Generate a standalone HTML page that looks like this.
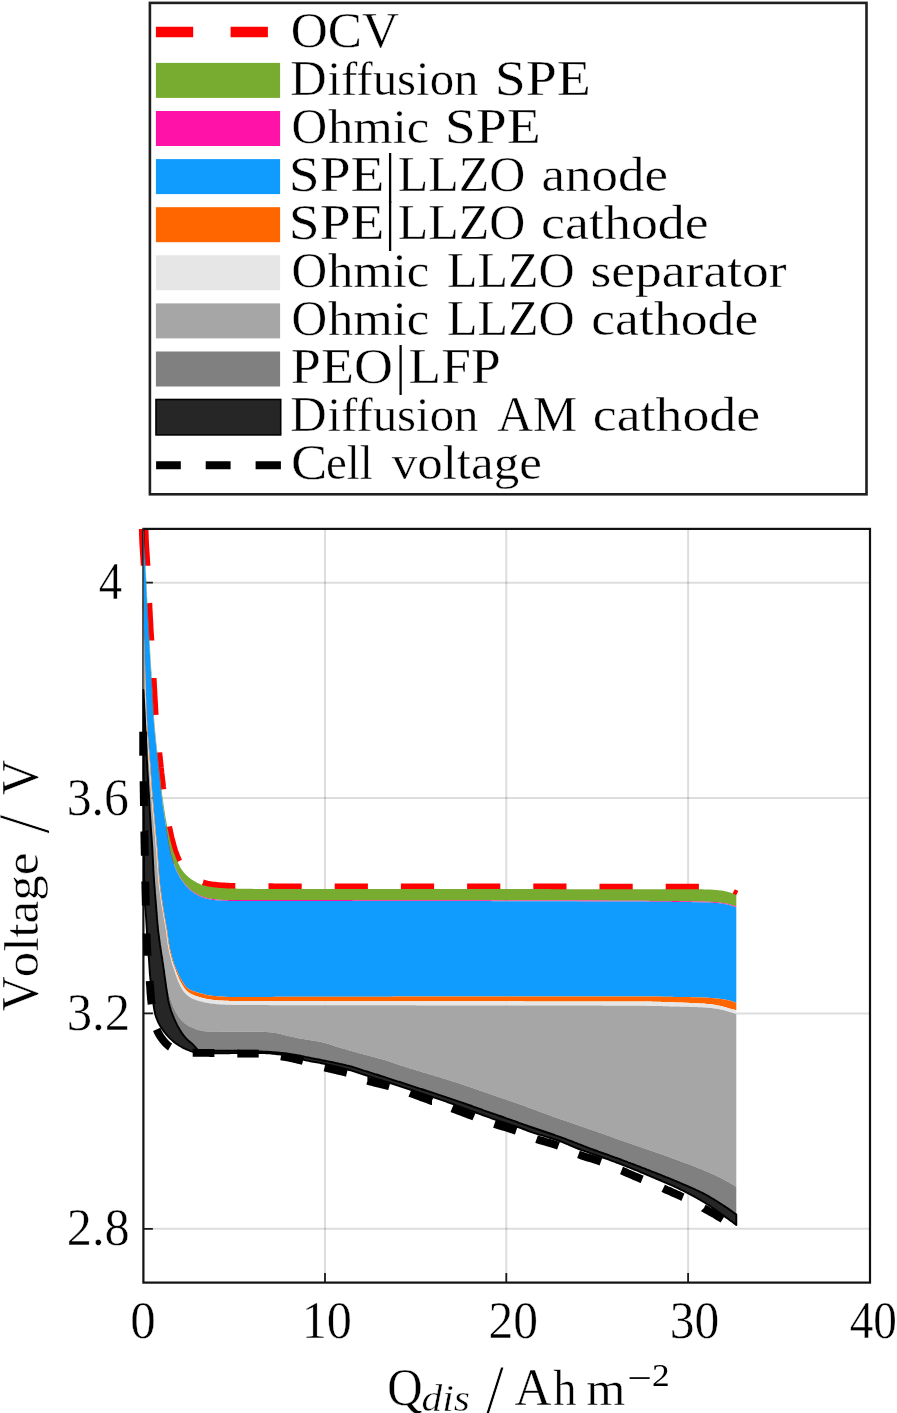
<!DOCTYPE html>
<html lang="en"><head><meta charset="utf-8"><title>Voltage loss breakdown</title>
<style>html,body{margin:0;padding:0;background:#fff;overflow:hidden}svg{display:block}</style></head>
<body>
<svg width="897" height="1413" viewBox="0 0 897 1413">
<rect width="897" height="1413" fill="#fff"/>
<defs><clipPath id="cp"><rect x="130" y="527.9" width="760" height="755.7"/></clipPath></defs>
<path d="M325.0 528.9V1282.6M506.3 528.9V1282.6M688.1 528.9V1282.6" stroke="#000" stroke-opacity="0.135" stroke-width="2" fill="none"/>
<path d="M143.4 582.7H870.0M143.4 798.1H870.0M143.4 1013.4H870.0M143.4 1228.8H870.0" stroke="#000" stroke-opacity="0.135" stroke-width="2" fill="none"/>
<g clip-path="url(#cp)" fill="none" stroke="#ff0000">
<polyline points="143.7,528.9 143.7,529.6 143.7,531.2 143.8,532.8 143.8,534.3 143.9,535.9 143.9,537.4 144.0,539.0 144.1,540.5 144.1,542.1 144.2,543.7 144.3,545.2 144.4,546.8 144.5,548.3 144.6,549.9 144.7,551.5 144.8,553.0 144.9,554.6 145.0,556.1 145.1,557.7 145.2,559.2 145.3,560.8 145.4,562.4 145.5,563.9 145.6,565.5 145.6,565.7" stroke-width="9.6"/>
<polyline points="147.4,603.3 147.5,604.4 147.6,606.0 147.6,607.5 147.7,609.1 147.8,610.7 147.9,612.2 148.0,613.8 148.0,615.3 148.1,616.9 148.2,618.4 148.3,620.0 148.4,621.6 148.5,623.1 148.6,624.7 148.6,626.2 148.7,627.8 148.8,629.3 148.9,630.9 149.0,632.5 149.1,634.0 149.2,635.6 149.3,637.1 149.4,638.7 149.5,640.2 149.5,640.6" stroke-width="9.6"/>
<polyline points="151.8,678.0 151.8,679.2 151.9,680.7 152.0,682.3 152.1,683.8 152.1,685.4 152.2,687.0 152.3,688.5 152.4,690.1 152.5,691.6 152.6,693.2 152.6,694.8 152.7,696.3 152.8,697.9 152.9,699.4 153.0,701.0 153.1,702.5 153.2,704.1 153.3,705.7 153.3,707.2 153.4,708.8 153.5,710.3 153.6,711.9 153.7,713.4 153.8,715.0 153.9,715.3" stroke-width="9.6"/>
<polyline points="157.4,752.5 157.5,753.8 157.7,755.4 157.9,756.9 158.0,758.5 158.2,760.0 158.4,761.6 158.5,763.1 158.7,764.7 158.9,766.2 159.0,767.8 159.2,769.3 159.4,770.9 159.5,772.4 159.7,774.0 159.9,775.5 160.1,777.1 160.2,778.6 160.4,780.2 160.6,781.7 160.8,783.3 161.0,784.8 161.1,786.4 161.3,787.9 161.5,789.5 161.6,789.7" stroke-width="9.6"/>
<polyline points="167.3,826.8 167.5,828.0 167.9,829.5 168.2,831.1 168.5,832.6 168.8,834.1 169.2,835.6 169.5,837.2 169.9,838.7 170.3,840.2 170.7,841.7 171.1,843.2 171.5,844.7 171.9,846.2 172.3,847.7 172.8,849.2 173.2,850.7 173.7,852.2 174.2,853.6 174.8,855.1 175.4,856.6 175.9,858.0 176.6,859.5 177.2,860.9 177.7,861.9" stroke-width="9.6"/>
<polyline points="201.9,884.8 202.3,885.0 203.8,885.4 205.3,885.8 206.8,886.2 208.4,886.5 209.9,886.8 211.4,887.0 213.0,887.2 214.5,887.4 216.1,887.6 217.6,887.8 219.2,887.9 220.7,888.0 222.3,888.1 223.8,888.2 225.4,888.3 227.0,888.4 228.5,888.4 230.1,888.5 231.6,888.5 233.2,888.6 234.8,888.6 235.3,888.6" stroke-width="11.2"/>
<polyline points="268.5,888.9 269.1,888.9 270.6,888.9 272.2,888.9 273.8,889.0 275.3,889.0 276.9,889.0 278.4,889.0 280.0,889.0 281.6,889.0 283.1,889.0 284.7,889.0 286.2,889.0 287.8,889.0 289.4,889.0 290.9,889.0 292.5,889.0 294.0,889.0 295.6,889.0 297.2,889.0 298.7,889.0 300.3,889.0 301.7,889.0" stroke-width="11.2"/>
<polyline points="334.7,889.0 336.2,889.0 337.7,889.0 339.3,889.0 340.8,889.0 342.4,889.0 344.0,889.0 345.5,889.0 347.1,889.0 348.6,889.0 350.2,889.0 351.8,889.0 353.3,889.0 354.9,889.0 356.4,889.0 358.0,889.0 359.6,889.0 361.1,889.0 362.7,889.0 364.2,889.0 365.8,889.0 367.4,889.0 367.9,889.0" stroke-width="11.2"/>
<polyline points="400.9,889.0 401.7,889.0 403.2,889.0 404.8,889.0 406.4,889.0 407.9,889.0 409.5,889.0 411.0,889.0 412.6,889.0 414.2,889.0 415.7,889.0 417.3,889.0 418.8,889.0 420.4,889.0 422.0,889.0 423.5,889.0 425.1,889.0 426.6,889.0 428.2,889.0 429.8,889.0 431.3,889.0 432.9,889.0 434.1,889.0" stroke-width="11.2"/>
<polyline points="467.1,889.0 467.2,889.0 468.8,889.0 470.3,889.0 471.9,889.0 473.4,889.0 475.0,889.0 476.6,889.0 478.1,889.0 479.7,889.0 481.2,889.0 482.8,889.0 484.4,889.0 485.9,889.0 487.5,889.0 489.0,889.0 490.6,889.0 492.2,889.0 493.7,889.0 495.3,889.0 496.8,889.0 498.4,889.0 500.0,889.0 500.3,889.0" stroke-width="11.2"/>
<polyline points="533.3,889.1 534.3,889.1 535.8,889.1 537.4,889.1 539.0,889.1 540.5,889.1 542.1,889.1 543.6,889.1 545.2,889.1 546.8,889.1 548.3,889.1 549.9,889.1 551.4,889.2 553.0,889.2 554.6,889.2 556.1,889.2 557.7,889.2 559.2,889.2 560.8,889.2 562.4,889.2 563.9,889.2 565.5,889.2 566.5,889.2" stroke-width="11.2"/>
<polyline points="599.5,889.3 599.8,889.3 601.4,889.3 602.9,889.3 604.5,889.3 606.0,889.3 607.6,889.3 609.2,889.3 610.7,889.3 612.3,889.3 613.8,889.3 615.4,889.3 617.0,889.3 618.5,889.3 620.1,889.3 621.6,889.3 623.2,889.3 624.8,889.3 626.3,889.3 627.9,889.3 629.4,889.3 631.0,889.3 632.6,889.3 632.7,889.3" stroke-width="11.2"/>
<polyline points="665.7,889.3 666.9,889.3 668.4,889.3 670.0,889.3 671.6,889.3 673.1,889.3 674.7,889.3 676.2,889.3 677.8,889.3 679.4,889.3 680.9,889.3 682.5,889.3 684.0,889.3 685.6,889.3 687.2,889.3 688.7,889.3 690.3,889.3 691.8,889.3 693.4,889.3 695.0,889.3 696.5,889.3 698.1,889.3 698.9,889.3" stroke-width="11.2"/>
<polyline points="732.6,893.4 733.4,893.8 734.9,894.4 736.3,895.1" stroke-width="9"/>
</g>
<rect x="143.4" y="528.9" width="726.6" height="753.6999999999999" fill="none" stroke="#111" stroke-width="2.2"/>
<path d="M325.0 1282.6v-9.5M506.3 1282.6v-9.5M688.1 1282.6v-9.5M143.4 582.7h9.5M143.4 798.1h9.5M143.4 1013.4h9.5M143.4 1228.8h9.5" stroke="#1a1a1a" stroke-width="1.8" fill="none"/>
<g clip-path="url(#cp)">
<polygon points="143.6,500.0 143.6,501.6 143.6,503.1 143.6,504.7 143.6,506.2 143.6,507.8 143.6,509.4 143.6,510.9 143.6,512.5 143.6,514.0 143.6,515.6 143.6,517.2 143.6,518.7 143.7,520.3 143.7,521.8 143.7,523.4 143.7,525.0 143.7,526.5 143.7,528.1 143.7,529.6 143.7,531.2 143.8,532.8 143.8,534.3 143.9,535.9 143.9,537.4 144.0,539.0 144.1,540.5 144.1,542.1 144.2,543.7 144.3,545.2 144.4,546.8 144.5,548.3 144.6,549.9 144.7,551.5 144.8,553.0 144.9,554.6 145.0,556.1 145.1,557.7 145.2,559.2 145.3,560.8 145.4,562.4 145.5,563.9 145.6,565.5 145.7,567.0 145.7,568.6 145.8,570.1 145.9,571.7 146.0,573.3 146.1,574.8 146.1,576.4 146.2,577.9 146.3,579.5 146.4,581.0 146.4,582.6 146.5,584.2 146.6,585.7 146.7,587.3 146.7,588.8 146.8,590.4 146.9,592.0 147.0,593.5 147.0,595.1 147.1,596.6 147.2,598.2 147.3,599.7 147.3,601.3 147.4,602.9 147.5,604.4 147.6,606.0 147.6,607.5 147.7,609.1 147.8,610.7 147.9,612.2 148.0,613.8 148.0,615.3 148.1,616.9 148.2,618.4 148.3,620.0 148.4,621.6 148.5,623.1 148.6,624.7 148.6,626.2 148.7,627.8 148.8,629.3 148.9,630.9 149.0,632.5 149.1,634.0 149.2,635.6 149.3,637.1 149.4,638.7 149.5,640.2 149.6,641.8 149.7,643.4 149.8,644.9 149.9,646.5 150.0,648.0 150.1,649.6 150.2,651.1 150.2,652.7 150.3,654.3 150.4,655.8 150.5,657.4 150.6,658.9 150.7,660.5 150.8,662.0 150.9,663.6 151.0,665.2 151.1,666.7 151.2,668.3 151.3,669.8 151.4,671.4 151.5,672.9 151.6,674.5 151.6,676.1 151.7,677.6 151.8,679.2 151.9,680.7 152.0,682.3 152.1,683.8 152.1,685.4 152.2,687.0 152.3,688.5 152.4,690.1 152.5,691.6 152.6,693.2 152.6,694.8 152.7,696.3 152.8,697.9 152.9,699.4 153.0,701.0 153.1,702.5 153.2,704.1 153.3,705.7 153.3,707.2 153.4,708.8 153.5,710.3 153.6,711.9 153.7,713.4 153.8,715.0 154.0,716.6 154.1,718.1 154.2,719.7 154.3,721.2 154.4,722.8 154.5,724.3 154.7,725.9 154.8,727.4 154.9,729.0 155.1,730.5 155.2,732.1 155.4,733.6 155.5,735.2 155.7,736.8 155.9,738.3 156.0,739.9 156.2,741.4 156.3,743.0 156.5,744.5 156.7,746.1 156.8,747.6 157.0,749.2 157.2,750.7 157.4,752.3 157.5,753.8 157.7,755.4 157.9,756.9 158.0,758.5 158.2,760.0 158.4,761.6 158.5,763.1 158.7,764.7 158.9,766.2 159.0,767.8 159.2,769.3 159.4,770.9 159.5,772.4 159.7,774.0 159.9,775.5 160.1,777.1 160.2,778.6 160.4,780.2 160.6,781.7 160.8,783.3 161.0,784.8 161.1,786.4 161.3,787.9 161.5,789.5 161.7,791.0 161.9,792.6 162.1,794.1 162.3,795.7 162.5,797.2 162.7,798.8 162.9,800.3 163.2,801.8 163.4,803.4 163.6,804.9 163.8,806.5 164.1,808.0 164.3,809.6 164.5,811.1 164.8,812.7 165.0,814.2 165.3,815.7 165.5,817.3 165.8,818.8 166.1,820.3 166.4,821.9 166.6,823.4 166.9,824.9 167.2,826.5 167.5,828.0 167.9,829.5 168.2,831.1 168.5,832.6 168.8,834.1 169.2,835.6 169.5,837.2 169.9,838.7 170.3,840.2 170.7,841.7 171.1,843.2 171.5,844.7 171.9,846.2 172.3,847.7 172.8,849.2 173.2,850.7 173.7,852.2 174.2,853.6 174.8,855.1 175.4,856.6 175.9,858.0 176.6,859.5 177.2,860.9 177.8,862.3 178.5,863.7 179.2,865.1 179.9,866.5 180.7,867.9 181.5,869.2 182.4,870.5 183.3,871.7 184.3,872.9 185.3,874.1 186.4,875.3 187.6,876.3 188.7,877.3 190.0,878.3 191.2,879.2 192.6,880.1 193.9,880.9 195.2,881.6 196.6,882.4 198.0,883.2 199.4,883.8 200.8,884.5 202.3,885.0 203.8,885.4 205.3,885.8 206.8,886.2 208.4,886.5 209.9,886.8 211.4,887.0 213.0,887.2 214.5,887.4 216.1,887.6 217.6,887.8 219.2,887.9 220.7,888.0 222.3,888.1 223.8,888.2 225.4,888.3 227.0,888.4 228.5,888.4 230.1,888.5 231.6,888.5 233.2,888.6 234.8,888.6 236.3,888.6 237.9,888.7 239.4,888.7 241.0,888.7 242.6,888.7 244.1,888.8 245.7,888.8 247.2,888.8 248.8,888.8 250.4,888.8 251.9,888.8 253.5,888.9 255.0,888.9 256.6,888.9 258.2,888.9 259.7,888.9 261.3,888.9 262.8,888.9 264.4,888.9 266.0,888.9 267.5,888.9 269.1,888.9 270.6,888.9 272.2,888.9 273.8,889.0 275.3,889.0 276.9,889.0 278.4,889.0 280.0,889.0 281.6,889.0 283.1,889.0 284.7,889.0 286.2,889.0 287.8,889.0 289.4,889.0 290.9,889.0 292.5,889.0 294.0,889.0 295.6,889.0 297.2,889.0 298.7,889.0 300.3,889.0 301.8,889.0 303.4,889.0 305.0,889.0 306.5,889.0 308.1,889.0 309.6,889.0 311.2,889.0 312.8,889.0 314.3,889.0 315.9,889.0 317.4,889.0 319.0,889.0 320.6,889.0 322.1,889.0 323.7,889.0 325.2,889.0 326.8,889.0 328.4,889.0 329.9,889.0 331.5,889.0 333.0,889.0 334.6,889.0 336.2,889.0 337.7,889.0 339.3,889.0 340.8,889.0 342.4,889.0 344.0,889.0 345.5,889.0 347.1,889.0 348.6,889.0 350.2,889.0 351.8,889.0 353.3,889.0 354.9,889.0 356.4,889.0 358.0,889.0 359.6,889.0 361.1,889.0 362.7,889.0 364.2,889.0 365.8,889.0 367.4,889.0 368.9,889.0 370.5,889.0 372.0,889.0 373.6,889.0 375.2,889.0 376.7,889.0 378.3,889.0 379.8,889.0 381.4,889.0 383.0,889.0 384.5,889.0 386.1,889.0 387.6,889.0 389.2,889.0 390.8,889.0 392.3,889.0 393.9,889.0 395.4,889.0 397.0,889.0 398.6,889.0 400.1,889.0 401.7,889.0 403.2,889.0 404.8,889.0 406.4,889.0 407.9,889.0 409.5,889.0 411.0,889.0 412.6,889.0 414.2,889.0 415.7,889.0 417.3,889.0 418.8,889.0 420.4,889.0 422.0,889.0 423.5,889.0 425.1,889.0 426.6,889.0 428.2,889.0 429.8,889.0 431.3,889.0 432.9,889.0 434.4,889.0 436.0,889.0 437.6,889.0 439.1,889.0 440.7,889.0 442.2,889.0 443.8,889.0 445.4,889.0 446.9,889.0 448.5,889.0 450.0,889.0 451.6,889.0 453.2,889.0 454.7,889.0 456.3,889.0 457.8,889.0 459.4,889.0 461.0,889.0 462.5,889.0 464.1,889.0 465.6,889.0 467.2,889.0 468.8,889.0 470.3,889.0 471.9,889.0 473.4,889.0 475.0,889.0 476.6,889.0 478.1,889.0 479.7,889.0 481.2,889.0 482.8,889.0 484.4,889.0 485.9,889.0 487.5,889.0 489.0,889.0 490.6,889.0 492.2,889.0 493.7,889.0 495.3,889.0 496.8,889.0 498.4,889.0 500.0,889.0 501.5,889.0 503.1,889.0 504.6,889.0 506.2,889.0 507.8,889.1 509.3,889.1 510.9,889.1 512.4,889.1 514.0,889.1 515.6,889.1 517.1,889.1 518.7,889.1 520.2,889.1 521.8,889.1 523.4,889.1 524.9,889.1 526.5,889.1 528.0,889.1 529.6,889.1 531.2,889.1 532.7,889.1 534.3,889.1 535.8,889.1 537.4,889.1 539.0,889.1 540.5,889.1 542.1,889.1 543.6,889.1 545.2,889.1 546.8,889.1 548.3,889.1 549.9,889.1 551.4,889.2 553.0,889.2 554.6,889.2 556.1,889.2 557.7,889.2 559.2,889.2 560.8,889.2 562.4,889.2 563.9,889.2 565.5,889.2 567.0,889.2 568.6,889.2 570.2,889.2 571.7,889.2 573.3,889.2 574.8,889.2 576.4,889.2 578.0,889.2 579.5,889.2 581.1,889.2 582.6,889.2 584.2,889.2 585.8,889.2 587.3,889.2 588.9,889.2 590.4,889.2 592.0,889.2 593.6,889.3 595.1,889.3 596.7,889.3 598.2,889.3 599.8,889.3 601.4,889.3 602.9,889.3 604.5,889.3 606.0,889.3 607.6,889.3 609.2,889.3 610.7,889.3 612.3,889.3 613.8,889.3 615.4,889.3 617.0,889.3 618.5,889.3 620.1,889.3 621.6,889.3 623.2,889.3 624.8,889.3 626.3,889.3 627.9,889.3 629.4,889.3 631.0,889.3 632.6,889.3 634.1,889.3 635.7,889.3 637.2,889.3 638.8,889.3 640.4,889.3 641.9,889.3 643.5,889.3 645.0,889.3 646.6,889.3 648.2,889.3 649.7,889.3 651.3,889.3 652.8,889.3 654.4,889.3 656.0,889.3 657.5,889.3 659.1,889.3 660.6,889.3 662.2,889.3 663.8,889.3 665.3,889.3 666.9,889.3 668.4,889.3 670.0,889.3 671.6,889.3 673.1,889.3 674.7,889.3 676.2,889.3 677.8,889.3 679.4,889.3 680.9,889.3 682.5,889.3 684.0,889.3 685.6,889.3 687.2,889.3 688.7,889.3 690.3,889.3 691.8,889.3 693.4,889.3 695.0,889.3 696.5,889.3 698.1,889.3 699.6,889.3 701.2,889.3 702.8,889.3 704.3,889.4 705.9,889.4 707.4,889.5 709.0,889.6 710.6,889.6 712.1,889.7 713.7,889.8 715.2,889.9 716.8,890.0 718.3,890.2 719.9,890.4 721.4,890.6 723.0,890.8 724.5,891.1 726.0,891.4 727.6,891.8 729.0,892.2 730.5,892.6 732.0,893.2 733.4,893.8 734.9,894.4 736.3,895.1 736.3,906.7 734.8,906.1 733.3,905.6 731.8,905.0 730.3,904.6 728.8,904.2 727.3,903.8 725.7,903.5 724.2,903.2 722.6,902.9 721.1,902.7 719.5,902.5 717.9,902.3 716.4,902.2 714.8,902.1 713.2,902.0 711.6,901.9 710.1,901.8 708.5,901.8 706.9,901.7 705.3,901.7 703.7,901.6 702.2,901.6 700.6,901.5 699.0,901.5 697.4,901.5 695.9,901.4 694.3,901.4 692.7,901.4 691.1,901.3 689.5,901.3 688.0,901.3 686.4,901.3 684.8,901.2 683.2,901.2 681.7,901.2 680.1,901.2 678.5,901.1 676.9,901.1 675.3,901.1 673.8,901.1 672.2,901.1 670.6,901.0 669.0,901.0 667.5,901.0 665.9,901.0 664.3,901.0 662.7,901.0 661.1,900.9 659.6,900.9 658.0,900.9 656.4,900.9 654.8,900.9 653.2,900.9 651.7,900.9 650.1,900.9 648.5,900.8 646.9,900.8 645.4,900.8 643.8,900.8 642.2,900.8 640.6,900.8 639.0,900.8 637.5,900.8 635.9,900.8 634.3,900.8 632.7,900.8 631.2,900.8 629.6,900.7 628.0,900.7 626.4,900.7 624.8,900.7 623.3,900.7 621.7,900.7 620.1,900.7 618.5,900.7 616.9,900.7 615.4,900.7 613.8,900.7 612.2,900.7 610.6,900.7 609.1,900.7 607.5,900.7 605.9,900.6 604.3,900.6 602.7,900.6 601.2,900.6 599.6,900.6 598.0,900.6 596.4,900.6 594.9,900.6 593.3,900.6 591.7,900.6 590.1,900.6 588.5,900.6 587.0,900.6 585.4,900.6 583.8,900.6 582.2,900.6 580.6,900.6 579.1,900.6 577.5,900.5 575.9,900.5 574.3,900.5 572.8,900.5 571.2,900.5 569.6,900.5 568.0,900.5 566.4,900.5 564.9,900.5 563.3,900.5 561.7,900.5 560.1,900.5 558.6,900.5 557.0,900.5 555.4,900.5 553.8,900.5 552.2,900.5 550.7,900.5 549.1,900.5 547.5,900.5 545.9,900.5 544.3,900.5 542.8,900.5 541.2,900.5 539.6,900.4 538.0,900.4 536.5,900.4 534.9,900.4 533.3,900.4 531.7,900.4 530.1,900.4 528.6,900.4 527.0,900.4 525.4,900.4 523.8,900.4 522.3,900.4 520.7,900.4 519.1,900.4 517.5,900.4 515.9,900.4 514.4,900.4 512.8,900.4 511.2,900.4 509.6,900.4 508.1,900.4 506.5,900.4 504.9,900.4 503.3,900.4 501.7,900.4 500.2,900.4 498.6,900.4 497.0,900.4 495.4,900.4 493.8,900.4 492.3,900.4 490.7,900.3 489.1,900.3 487.5,900.3 486.0,900.3 484.4,900.3 482.8,900.3 481.2,900.3 479.6,900.3 478.1,900.3 476.5,900.3 474.9,900.3 473.3,900.3 471.8,900.3 470.2,900.3 468.6,900.3 467.0,900.3 465.4,900.3 463.9,900.3 462.3,900.3 460.7,900.3 459.1,900.3 457.5,900.3 456.0,900.3 454.4,900.3 452.8,900.3 451.2,900.3 449.7,900.3 448.1,900.3 446.5,900.3 444.9,900.3 443.3,900.3 441.8,900.3 440.2,900.3 438.6,900.3 437.0,900.3 435.5,900.3 433.9,900.3 432.3,900.3 430.7,900.3 429.1,900.3 427.6,900.3 426.0,900.2 424.4,900.2 422.8,900.2 421.2,900.2 419.7,900.2 418.1,900.2 416.5,900.2 414.9,900.2 413.4,900.2 411.8,900.2 410.2,900.2 408.6,900.2 407.0,900.2 405.5,900.2 403.9,900.2 402.3,900.2 400.7,900.2 399.2,900.2 397.6,900.2 396.0,900.2 394.4,900.2 392.8,900.2 391.3,900.2 389.7,900.2 388.1,900.2 386.5,900.2 384.9,900.2 383.4,900.2 381.8,900.2 380.2,900.2 378.6,900.2 377.1,900.2 375.5,900.2 373.9,900.2 372.3,900.2 370.7,900.2 369.2,900.2 367.6,900.2 366.0,900.2 364.4,900.2 362.9,900.2 361.3,900.2 359.7,900.2 358.1,900.2 356.5,900.2 355.0,900.2 353.4,900.2 351.8,900.1 350.2,900.1 348.7,900.1 347.1,900.1 345.5,900.1 343.9,900.1 342.3,900.1 340.8,900.1 339.2,900.1 337.6,900.1 336.0,900.1 334.4,900.1 332.9,900.1 331.3,900.1 329.7,900.1 328.1,900.1 326.6,900.1 325.0,900.1 323.4,900.1 321.8,900.1 320.2,900.1 318.7,900.1 317.1,900.1 315.5,900.1 313.9,900.1 312.4,900.1 310.8,900.1 309.2,900.1 307.6,900.1 306.0,900.1 304.5,900.1 302.9,900.1 301.3,900.1 299.7,900.1 298.1,900.1 296.6,900.1 295.0,900.1 293.4,900.1 291.8,900.1 290.3,900.1 288.7,900.1 287.1,900.1 285.5,900.1 283.9,900.1 282.4,900.1 280.8,900.1 279.2,900.1 277.6,900.1 276.1,900.1 274.5,900.1 272.9,900.1 271.3,900.1 269.7,900.1 268.2,900.1 266.6,900.1 265.0,900.1 263.4,900.1 261.8,900.1 260.3,900.1 258.7,900.1 257.1,900.1 255.5,900.1 254.0,900.1 252.4,900.1 250.8,900.1 249.2,900.1 247.6,900.1 246.1,900.1 244.5,900.1 242.9,900.1 241.3,900.1 239.8,900.1 238.2,900.1 236.6,900.1 235.0,900.1 233.4,900.1 231.9,900.1 230.3,900.1 228.7,900.1 227.1,900.0 225.5,900.0 224.0,900.0 222.4,899.9 220.8,899.8 219.2,899.8 217.7,899.7 216.1,899.5 214.5,899.3 213.0,899.1 211.4,898.9 209.8,898.6 208.3,898.3 206.7,898.0 205.2,897.6 203.7,897.1 202.2,896.6 200.8,896.0 199.3,895.3 197.9,894.6 196.5,893.8 195.2,893.0 193.8,892.2 192.6,891.3 191.3,890.3 190.1,889.3 188.9,888.2 187.8,887.2 186.7,886.0 185.6,884.8 184.6,883.6 183.7,882.3 182.8,881.0 181.9,879.7 181.0,878.4 180.1,877.1 179.3,875.7 178.6,874.3 177.8,873.0 177.1,871.5 176.5,870.1 175.9,868.7 175.3,867.2 174.7,865.7 174.2,864.2 173.6,862.7 173.1,861.2 172.7,859.7 172.2,858.2 171.7,856.7 171.3,855.2 170.9,853.7 170.5,852.1 170.1,850.6 169.8,849.1 169.5,847.5 169.2,846.0 168.9,844.4 168.6,842.9 168.4,841.3 168.1,839.8 167.9,838.2 167.6,836.6 167.4,835.1 167.2,833.5 166.9,831.9 166.7,830.4 166.4,828.8 166.2,827.3 166.0,825.7 165.7,824.1 165.5,822.6 165.2,821.0 165.0,819.5 164.7,817.9 164.5,816.3 164.3,814.8 164.0,813.2 163.8,811.7 163.6,810.1 163.4,808.5 163.1,807.0 162.9,805.4 162.7,803.8 162.5,802.3 162.3,800.7 162.1,799.1 161.9,797.6 161.7,796.0 161.5,794.5 161.3,792.9 161.1,791.3 160.9,789.8 160.8,788.2 160.6,786.6 160.4,785.0 160.2,783.5 160.0,781.9 159.9,780.3 159.7,778.8 159.5,777.2 159.4,775.6 159.2,774.1 159.0,772.5 158.8,770.9 158.7,769.4 158.5,767.8 158.4,766.2 158.2,764.6 158.0,763.1 157.9,761.5 157.7,759.9 157.5,758.4 157.4,756.8 157.2,755.2 157.0,753.7 156.9,752.1 156.7,750.5 156.5,749.0 156.4,747.4 156.2,745.8 156.0,744.2 155.9,742.7 155.7,741.1 155.5,739.5 155.4,738.0 155.2,736.4 155.1,734.8 154.9,733.2 154.8,731.7 154.6,730.1 154.5,728.5 154.4,727.0 154.2,725.4 154.1,723.8 154.0,722.2 153.8,720.7 153.7,719.1 153.6,717.5 153.5,716.0 153.4,714.4 153.3,712.8 153.2,711.2 153.1,709.7 153.0,708.1 152.9,706.5 152.8,704.9 152.7,703.4 152.6,701.8 152.5,700.2 152.5,698.6 152.4,697.0 152.3,695.5 152.2,693.9 152.1,692.3 152.0,690.7 151.9,689.2 151.9,687.6 151.8,686.0 151.7,684.4 151.6,682.9 151.5,681.3 151.4,679.7 151.4,678.1 151.3,676.6 151.2,675.0 151.1,673.4 151.0,671.8 150.9,670.3 150.8,668.7 150.7,667.1 150.6,665.5 150.5,664.0 150.4,662.4 150.3,660.8 150.2,659.2 150.2,657.7 150.1,656.1 150.0,654.5 149.9,652.9 149.8,651.4 149.7,649.8 149.6,648.2 149.5,646.6 149.4,645.1 149.3,643.5 149.2,641.9 149.1,640.3 149.0,638.7 148.9,637.2 148.8,635.6 148.7,634.0 148.6,632.4 148.5,630.9 148.4,629.3 148.3,627.7 148.2,626.1 148.1,624.6 148.1,623.0 148.0,621.4 147.9,619.8 147.8,618.3 147.7,616.7 147.6,615.1 147.6,613.5 147.5,612.0 147.4,610.4 147.3,608.8 147.2,607.2 147.2,605.7 147.1,604.1 147.0,602.5 146.9,600.9 146.9,599.4 146.8,597.8 146.7,596.2 146.6,594.6 146.6,593.0 146.5,591.5 146.4,589.9 146.3,588.3 146.3,586.7 146.2,585.2 146.1,583.6 146.1,582.0 146.0,580.4 145.9,578.9 145.8,577.3 145.8,575.7 145.7,574.1 145.6,572.6 145.5,571.0 145.5,569.4 145.4,567.8 145.3,566.2 145.3,564.7 145.2,563.1 145.1,561.5 145.0,559.9 144.9,558.4 144.8,556.8 144.7,555.2 144.6,553.6 144.5,552.1 144.4,550.5 144.4,548.9 144.3,547.3 144.2,545.8 144.1,544.2 144.0,542.6 143.9,541.0 143.9,539.4 143.8,537.9 143.8,536.3 143.7,534.7 143.7,533.1 143.6,531.6 143.6,530.0 143.6,528.4 143.6,526.8 143.6,525.3 143.6,523.7 143.6,522.1 143.6,520.5 143.5,518.9 143.5,517.4 143.5,515.8 143.5,514.2 143.5,512.6 143.5,511.1 143.5,509.5 143.5,507.9 143.5,506.3 143.5,504.7 143.5,503.2 143.5,501.6 143.5,500.0" fill="#77ac30" />
<polygon points="143.5,500.0 143.5,501.6 143.5,503.2 143.5,504.7 143.5,506.3 143.5,507.9 143.5,509.5 143.5,511.1 143.5,512.6 143.5,514.2 143.5,515.8 143.5,517.4 143.5,518.9 143.6,520.5 143.6,522.1 143.6,523.7 143.6,525.3 143.6,526.8 143.6,528.4 143.6,530.0 143.6,531.6 143.7,533.1 143.7,534.7 143.8,536.3 143.8,537.9 143.9,539.4 143.9,541.0 144.0,542.6 144.1,544.2 144.2,545.8 144.3,547.3 144.4,548.9 144.4,550.5 144.5,552.1 144.6,553.6 144.7,555.2 144.8,556.8 144.9,558.4 145.0,559.9 145.1,561.5 145.2,563.1 145.3,564.7 145.3,566.2 145.4,567.8 145.5,569.4 145.5,571.0 145.6,572.6 145.7,574.1 145.8,575.7 145.8,577.3 145.9,578.9 146.0,580.4 146.1,582.0 146.1,583.6 146.2,585.2 146.3,586.7 146.3,588.3 146.4,589.9 146.5,591.5 146.6,593.0 146.6,594.6 146.7,596.2 146.8,597.8 146.9,599.4 146.9,600.9 147.0,602.5 147.1,604.1 147.2,605.7 147.2,607.2 147.3,608.8 147.4,610.4 147.5,612.0 147.6,613.5 147.6,615.1 147.7,616.7 147.8,618.3 147.9,619.8 148.0,621.4 148.1,623.0 148.1,624.6 148.2,626.1 148.3,627.7 148.4,629.3 148.5,630.9 148.6,632.4 148.7,634.0 148.8,635.6 148.9,637.2 149.0,638.7 149.1,640.3 149.2,641.9 149.3,643.5 149.4,645.1 149.5,646.6 149.6,648.2 149.7,649.8 149.8,651.4 149.9,652.9 150.0,654.5 150.1,656.1 150.2,657.7 150.2,659.2 150.3,660.8 150.4,662.4 150.5,664.0 150.6,665.5 150.7,667.1 150.8,668.7 150.9,670.3 151.0,671.8 151.1,673.4 151.2,675.0 151.3,676.6 151.4,678.1 151.4,679.7 151.5,681.3 151.6,682.9 151.7,684.4 151.8,686.0 151.9,687.6 151.9,689.2 152.0,690.7 152.1,692.3 152.2,693.9 152.3,695.5 152.4,697.0 152.5,698.6 152.5,700.2 152.6,701.8 152.7,703.4 152.8,704.9 152.9,706.5 153.0,708.1 153.1,709.7 153.2,711.2 153.3,712.8 153.4,714.4 153.5,716.0 153.6,717.5 153.7,719.1 153.8,720.7 154.0,722.2 154.1,723.8 154.2,725.4 154.4,727.0 154.5,728.5 154.6,730.1 154.8,731.7 154.9,733.2 155.1,734.8 155.2,736.4 155.4,738.0 155.5,739.5 155.7,741.1 155.9,742.7 156.0,744.2 156.2,745.8 156.4,747.4 156.5,749.0 156.7,750.5 156.9,752.1 157.0,753.7 157.2,755.2 157.4,756.8 157.5,758.4 157.7,759.9 157.9,761.5 158.0,763.1 158.2,764.6 158.4,766.2 158.5,767.8 158.7,769.4 158.8,770.9 159.0,772.5 159.2,774.1 159.4,775.6 159.5,777.2 159.7,778.8 159.9,780.3 160.0,781.9 160.2,783.5 160.4,785.0 160.6,786.6 160.8,788.2 160.9,789.8 161.1,791.3 161.3,792.9 161.5,794.5 161.7,796.0 161.9,797.6 162.1,799.1 162.3,800.7 162.5,802.3 162.7,803.8 162.9,805.4 163.1,807.0 163.4,808.5 163.6,810.1 163.8,811.7 164.0,813.2 164.3,814.8 164.5,816.3 164.7,817.9 165.0,819.5 165.2,821.0 165.5,822.6 165.7,824.1 166.0,825.7 166.2,827.3 166.4,828.8 166.7,830.4 166.9,831.9 167.2,833.5 167.4,835.1 167.6,836.6 167.9,838.2 168.1,839.8 168.4,841.3 168.6,842.9 168.9,844.4 169.2,846.0 169.5,847.5 169.8,849.1 170.1,850.6 170.5,852.1 170.9,853.7 171.3,855.2 171.7,856.7 172.2,858.2 172.7,859.7 173.1,861.2 173.6,862.7 174.2,864.2 174.7,865.7 175.3,867.2 175.9,868.7 176.5,870.1 177.1,871.5 177.8,873.0 178.6,874.3 179.3,875.7 180.1,877.1 181.0,878.4 181.9,879.7 182.8,881.0 183.7,882.3 184.6,883.6 185.6,884.8 186.7,886.0 187.8,887.2 188.9,888.2 190.1,889.3 191.3,890.3 192.6,891.3 193.8,892.2 195.2,893.0 196.5,893.8 197.9,894.6 199.3,895.3 200.8,896.0 202.2,896.6 203.7,897.1 205.2,897.6 206.7,898.0 208.3,898.3 209.8,898.6 211.4,898.9 213.0,899.1 214.5,899.3 216.1,899.5 217.7,899.7 219.2,899.8 220.8,899.8 222.4,899.9 224.0,900.0 225.5,900.0 227.1,900.0 228.7,900.1 230.3,900.1 231.9,900.1 233.4,900.1 235.0,900.1 236.6,900.1 238.2,900.1 239.8,900.1 241.3,900.1 242.9,900.1 244.5,900.1 246.1,900.1 247.6,900.1 249.2,900.1 250.8,900.1 252.4,900.1 254.0,900.1 255.5,900.1 257.1,900.1 258.7,900.1 260.3,900.1 261.8,900.1 263.4,900.1 265.0,900.1 266.6,900.1 268.2,900.1 269.7,900.1 271.3,900.1 272.9,900.1 274.5,900.1 276.1,900.1 277.6,900.1 279.2,900.1 280.8,900.1 282.4,900.1 283.9,900.1 285.5,900.1 287.1,900.1 288.7,900.1 290.3,900.1 291.8,900.1 293.4,900.1 295.0,900.1 296.6,900.1 298.1,900.1 299.7,900.1 301.3,900.1 302.9,900.1 304.5,900.1 306.0,900.1 307.6,900.1 309.2,900.1 310.8,900.1 312.4,900.1 313.9,900.1 315.5,900.1 317.1,900.1 318.7,900.1 320.2,900.1 321.8,900.1 323.4,900.1 325.0,900.1 326.6,900.1 328.1,900.1 329.7,900.1 331.3,900.1 332.9,900.1 334.4,900.1 336.0,900.1 337.6,900.1 339.2,900.1 340.8,900.1 342.3,900.1 343.9,900.1 345.5,900.1 347.1,900.1 348.7,900.1 350.2,900.1 351.8,900.1 353.4,900.2 355.0,900.2 356.5,900.2 358.1,900.2 359.7,900.2 361.3,900.2 362.9,900.2 364.4,900.2 366.0,900.2 367.6,900.2 369.2,900.2 370.7,900.2 372.3,900.2 373.9,900.2 375.5,900.2 377.1,900.2 378.6,900.2 380.2,900.2 381.8,900.2 383.4,900.2 384.9,900.2 386.5,900.2 388.1,900.2 389.7,900.2 391.3,900.2 392.8,900.2 394.4,900.2 396.0,900.2 397.6,900.2 399.2,900.2 400.7,900.2 402.3,900.2 403.9,900.2 405.5,900.2 407.0,900.2 408.6,900.2 410.2,900.2 411.8,900.2 413.4,900.2 414.9,900.2 416.5,900.2 418.1,900.2 419.7,900.2 421.2,900.2 422.8,900.2 424.4,900.2 426.0,900.2 427.6,900.3 429.1,900.3 430.7,900.3 432.3,900.3 433.9,900.3 435.5,900.3 437.0,900.3 438.6,900.3 440.2,900.3 441.8,900.3 443.3,900.3 444.9,900.3 446.5,900.3 448.1,900.3 449.7,900.3 451.2,900.3 452.8,900.3 454.4,900.3 456.0,900.3 457.5,900.3 459.1,900.3 460.7,900.3 462.3,900.3 463.9,900.3 465.4,900.3 467.0,900.3 468.6,900.3 470.2,900.3 471.8,900.3 473.3,900.3 474.9,900.3 476.5,900.3 478.1,900.3 479.6,900.3 481.2,900.3 482.8,900.3 484.4,900.3 486.0,900.3 487.5,900.3 489.1,900.3 490.7,900.3 492.3,900.4 493.8,900.4 495.4,900.4 497.0,900.4 498.6,900.4 500.2,900.4 501.7,900.4 503.3,900.4 504.9,900.4 506.5,900.4 508.1,900.4 509.6,900.4 511.2,900.4 512.8,900.4 514.4,900.4 515.9,900.4 517.5,900.4 519.1,900.4 520.7,900.4 522.3,900.4 523.8,900.4 525.4,900.4 527.0,900.4 528.6,900.4 530.1,900.4 531.7,900.4 533.3,900.4 534.9,900.4 536.5,900.4 538.0,900.4 539.6,900.4 541.2,900.5 542.8,900.5 544.3,900.5 545.9,900.5 547.5,900.5 549.1,900.5 550.7,900.5 552.2,900.5 553.8,900.5 555.4,900.5 557.0,900.5 558.6,900.5 560.1,900.5 561.7,900.5 563.3,900.5 564.9,900.5 566.4,900.5 568.0,900.5 569.6,900.5 571.2,900.5 572.8,900.5 574.3,900.5 575.9,900.5 577.5,900.5 579.1,900.6 580.6,900.6 582.2,900.6 583.8,900.6 585.4,900.6 587.0,900.6 588.5,900.6 590.1,900.6 591.7,900.6 593.3,900.6 594.9,900.6 596.4,900.6 598.0,900.6 599.6,900.6 601.2,900.6 602.7,900.6 604.3,900.6 605.9,900.6 607.5,900.7 609.1,900.7 610.6,900.7 612.2,900.7 613.8,900.7 615.4,900.7 616.9,900.7 618.5,900.7 620.1,900.7 621.7,900.7 623.3,900.7 624.8,900.7 626.4,900.7 628.0,900.7 629.6,900.7 631.2,900.8 632.7,900.8 634.3,900.8 635.9,900.8 637.5,900.8 639.0,900.8 640.6,900.8 642.2,900.8 643.8,900.8 645.4,900.8 646.9,900.8 648.5,900.8 650.1,900.9 651.7,900.9 653.2,900.9 654.8,900.9 656.4,900.9 658.0,900.9 659.6,900.9 661.1,900.9 662.7,901.0 664.3,901.0 665.9,901.0 667.5,901.0 669.0,901.0 670.6,901.0 672.2,901.1 673.8,901.1 675.3,901.1 676.9,901.1 678.5,901.1 680.1,901.2 681.7,901.2 683.2,901.2 684.8,901.2 686.4,901.3 688.0,901.3 689.5,901.3 691.1,901.3 692.7,901.4 694.3,901.4 695.9,901.4 697.4,901.5 699.0,901.5 700.6,901.5 702.2,901.6 703.7,901.6 705.3,901.7 706.9,901.7 708.5,901.8 710.1,901.8 711.6,901.9 713.2,902.0 714.8,902.1 716.4,902.2 717.9,902.3 719.5,902.5 721.1,902.7 722.6,902.9 724.2,903.2 725.7,903.5 727.3,903.8 728.8,904.2 730.3,904.6 731.8,905.0 733.3,905.6 734.8,906.1 736.3,906.7 736.3,907.5 734.8,906.9 733.3,906.4 731.8,905.8 730.3,905.4 728.8,905.0 727.3,904.6 725.7,904.3 724.2,904.0 722.6,903.7 721.1,903.5 719.5,903.3 717.9,903.1 716.4,903.0 714.8,902.9 713.2,902.8 711.6,902.7 710.1,902.6 708.5,902.6 706.9,902.5 705.3,902.5 703.7,902.4 702.2,902.4 700.6,902.3 699.0,902.3 697.4,902.3 695.9,902.2 694.3,902.2 692.7,902.2 691.1,902.1 689.5,902.1 688.0,902.1 686.4,902.1 684.8,902.0 683.2,902.0 681.7,902.0 680.1,902.0 678.5,901.9 676.9,901.9 675.3,901.9 673.8,901.9 672.2,901.9 670.6,901.8 669.0,901.8 667.5,901.8 665.9,901.8 664.3,901.8 662.7,901.8 661.1,901.7 659.6,901.7 658.0,901.7 656.4,901.7 654.8,901.7 653.2,901.7 651.7,901.7 650.1,901.7 648.5,901.6 646.9,901.6 645.4,901.6 643.8,901.6 642.2,901.6 640.6,901.6 639.0,901.6 637.5,901.6 635.9,901.6 634.3,901.6 632.7,901.6 631.2,901.6 629.6,901.5 628.0,901.5 626.4,901.5 624.8,901.5 623.3,901.5 621.7,901.5 620.1,901.5 618.5,901.5 616.9,901.5 615.4,901.5 613.8,901.5 612.2,901.5 610.6,901.5 609.1,901.5 607.5,901.5 605.9,901.4 604.3,901.4 602.7,901.4 601.2,901.4 599.6,901.4 598.0,901.4 596.4,901.4 594.9,901.4 593.3,901.4 591.7,901.4 590.1,901.4 588.5,901.4 587.0,901.4 585.4,901.4 583.8,901.4 582.2,901.4 580.6,901.4 579.1,901.4 577.5,901.3 575.9,901.3 574.3,901.3 572.8,901.3 571.2,901.3 569.6,901.3 568.0,901.3 566.4,901.3 564.9,901.3 563.3,901.3 561.7,901.3 560.1,901.3 558.6,901.3 557.0,901.3 555.4,901.3 553.8,901.3 552.2,901.3 550.7,901.3 549.1,901.3 547.5,901.3 545.9,901.3 544.3,901.3 542.8,901.3 541.2,901.3 539.6,901.2 538.0,901.2 536.5,901.2 534.9,901.2 533.3,901.2 531.7,901.2 530.1,901.2 528.6,901.2 527.0,901.2 525.4,901.2 523.8,901.2 522.3,901.2 520.7,901.2 519.1,901.2 517.5,901.2 515.9,901.2 514.4,901.2 512.8,901.2 511.2,901.2 509.6,901.2 508.1,901.2 506.5,901.2 504.9,901.2 503.3,901.2 501.7,901.2 500.2,901.2 498.6,901.2 497.0,901.2 495.4,901.2 493.8,901.2 492.3,901.2 490.7,901.1 489.1,901.1 487.5,901.1 486.0,901.1 484.4,901.1 482.8,901.1 481.2,901.1 479.6,901.1 478.1,901.1 476.5,901.1 474.9,901.1 473.3,901.1 471.8,901.1 470.2,901.1 468.6,901.1 467.0,901.1 465.4,901.1 463.9,901.1 462.3,901.1 460.7,901.1 459.1,901.1 457.5,901.1 456.0,901.1 454.4,901.1 452.8,901.1 451.2,901.1 449.7,901.1 448.1,901.1 446.5,901.1 444.9,901.1 443.3,901.1 441.8,901.1 440.2,901.1 438.6,901.1 437.0,901.1 435.5,901.1 433.9,901.1 432.3,901.1 430.7,901.1 429.1,901.1 427.6,901.1 426.0,901.0 424.4,901.0 422.8,901.0 421.2,901.0 419.7,901.0 418.1,901.0 416.5,901.0 414.9,901.0 413.4,901.0 411.8,901.0 410.2,901.0 408.6,901.0 407.0,901.0 405.5,901.0 403.9,901.0 402.3,901.0 400.7,901.0 399.2,901.0 397.6,901.0 396.0,901.0 394.4,901.0 392.8,901.0 391.3,901.0 389.7,901.0 388.1,901.0 386.5,901.0 384.9,901.0 383.4,901.0 381.8,901.0 380.2,901.0 378.6,901.0 377.1,901.0 375.5,901.0 373.9,901.0 372.3,901.0 370.7,901.0 369.2,901.0 367.6,901.0 366.0,901.0 364.4,901.0 362.9,901.0 361.3,901.0 359.7,901.0 358.1,901.0 356.5,901.0 355.0,901.0 353.4,901.0 351.8,900.9 350.2,900.9 348.7,900.9 347.1,900.9 345.5,900.9 343.9,900.9 342.3,900.9 340.8,900.9 339.2,900.9 337.6,900.9 336.0,900.9 334.4,900.9 332.9,900.9 331.3,900.9 329.7,900.9 328.1,900.9 326.6,900.9 325.0,900.9 323.4,900.9 321.8,900.9 320.2,900.9 318.7,900.9 317.1,900.9 315.5,900.9 313.9,900.9 312.4,900.9 310.8,900.9 309.2,900.9 307.6,900.9 306.0,900.9 304.5,900.9 302.9,900.9 301.3,900.9 299.7,900.9 298.1,900.9 296.6,900.9 295.0,900.9 293.4,900.9 291.8,900.9 290.3,900.9 288.7,900.9 287.1,900.9 285.5,900.9 283.9,900.9 282.4,900.9 280.8,900.9 279.2,900.9 277.6,900.9 276.1,900.9 274.5,900.9 272.9,900.9 271.3,900.9 269.7,900.9 268.2,900.9 266.6,900.9 265.0,900.9 263.4,900.9 261.8,900.9 260.3,900.9 258.7,900.9 257.1,900.9 255.5,900.9 254.0,900.9 252.4,900.9 250.8,900.9 249.2,900.9 247.6,900.9 246.1,900.9 244.5,900.9 242.9,900.9 241.3,900.9 239.8,900.9 238.2,900.9 236.6,900.9 235.0,900.9 233.4,900.9 231.9,900.9 230.3,900.9 228.7,900.9 227.1,900.8 225.5,900.8 224.0,900.8 222.4,900.7 220.8,900.6 219.2,900.6 217.7,900.5 216.1,900.3 214.5,900.1 213.0,899.9 211.4,899.7 209.8,899.4 208.3,899.1 206.7,898.8 205.2,898.4 203.7,897.9 202.2,897.4 200.8,896.8 199.3,896.1 197.9,895.4 196.5,894.6 195.2,893.8 193.8,893.0 192.6,892.1 191.3,891.1 190.1,890.1 188.9,889.0 187.8,888.0 186.7,886.8 185.6,885.6 184.6,884.4 183.7,883.1 182.8,881.8 181.9,880.5 181.0,879.2 180.1,877.9 179.3,876.5 178.6,875.1 177.8,873.8 177.1,872.3 176.5,870.9 175.9,869.5 175.3,868.0 174.7,866.5 174.2,865.0 173.6,863.5 173.1,862.0 172.7,860.5 172.2,859.0 171.7,857.5 171.3,856.0 170.9,854.5 170.5,852.9 170.1,851.4 169.8,849.9 169.5,848.3 169.2,846.8 168.9,845.2 168.6,843.7 168.4,842.1 168.1,840.6 167.9,839.0 167.6,837.4 167.4,835.9 167.2,834.3 166.9,832.7 166.7,831.2 166.4,829.6 166.2,828.1 166.0,826.5 165.7,824.9 165.5,823.4 165.2,821.8 165.0,820.3 164.7,818.7 164.5,817.1 164.3,815.6 164.0,814.0 163.8,812.5 163.6,810.9 163.4,809.3 163.1,807.8 162.9,806.2 162.7,804.6 162.5,803.1 162.3,801.5 162.1,799.9 161.9,798.4 161.7,796.8 161.5,795.3 161.3,793.7 161.1,792.1 160.9,790.6 160.8,789.0 160.6,787.4 160.4,785.8 160.2,784.3 160.0,782.7 159.9,781.1 159.7,779.6 159.5,778.0 159.4,776.4 159.2,774.9 159.0,773.3 158.8,771.7 158.7,770.2 158.5,768.6 158.4,767.0 158.2,765.4 158.0,763.9 157.9,762.3 157.7,760.7 157.5,759.2 157.4,757.6 157.2,756.0 157.0,754.5 156.9,752.9 156.7,751.3 156.5,749.8 156.4,748.2 156.2,746.6 156.0,745.0 155.9,743.5 155.7,741.9 155.5,740.3 155.4,738.8 155.2,737.2 155.1,735.6 154.9,734.0 154.8,732.5 154.6,730.9 154.5,729.3 154.4,727.8 154.2,726.2 154.1,724.6 154.0,723.0 153.8,721.5 153.7,719.9 153.6,718.3 153.5,716.8 153.4,715.2 153.3,713.6 153.2,712.0 153.1,710.5 153.0,708.9 152.9,707.3 152.8,705.7 152.7,704.2 152.6,702.6 152.5,701.0 152.5,699.4 152.4,697.8 152.3,696.3 152.2,694.7 152.1,693.1 152.0,691.5 151.9,690.0 151.9,688.4 151.8,686.8 151.7,685.2 151.6,683.7 151.5,682.1 151.4,680.5 151.4,678.9 151.3,677.4 151.2,675.8 151.1,674.2 151.0,672.6 150.9,671.1 150.8,669.5 150.7,667.9 150.6,666.3 150.5,664.8 150.4,663.2 150.3,661.6 150.2,660.0 150.2,658.5 150.1,656.9 150.0,655.3 149.9,653.7 149.8,652.2 149.7,650.6 149.6,649.0 149.5,647.4 149.4,645.9 149.3,644.3 149.2,642.7 149.1,641.1 149.0,639.5 148.9,638.0 148.8,636.4 148.7,634.8 148.6,633.2 148.5,631.7 148.4,630.1 148.3,628.5 148.2,626.9 148.1,625.4 148.1,623.8 148.0,622.2 147.9,620.6 147.8,619.1 147.7,617.5 147.6,615.9 147.6,614.3 147.5,612.8 147.4,611.2 147.3,609.6 147.2,608.0 147.2,606.5 147.1,604.9 147.0,603.3 146.9,601.7 146.9,600.2 146.8,598.6 146.7,597.0 146.6,595.4 146.6,593.8 146.5,592.3 146.4,590.7 146.3,589.1 146.3,587.5 146.2,586.0 146.1,584.4 146.1,582.8 146.0,581.2 145.9,579.7 145.8,578.1 145.8,576.5 145.7,574.9 145.6,573.4 145.5,571.8 145.5,570.2 145.4,568.6 145.3,567.0 145.3,565.5 145.2,563.9 145.1,562.3 145.0,560.7 144.9,559.2 144.8,557.6 144.7,556.0 144.6,554.4 144.5,552.9 144.4,551.3 144.4,549.7 144.3,548.1 144.2,546.6 144.1,545.0 144.0,543.4 143.9,541.8 143.9,540.2 143.8,538.7 143.8,537.1 143.7,535.5 143.7,533.9 143.6,532.4 143.6,530.8 143.6,529.2 143.6,527.6 143.6,526.1 143.6,524.5 143.6,522.9 143.6,521.3 143.5,519.7 143.5,518.2 143.5,516.6 143.5,515.0 143.5,513.4 143.5,511.9 143.5,510.3 143.5,508.7 143.5,507.1 143.5,505.5 143.5,504.0 143.5,502.4 143.5,500.8" fill="#ff12a8" />
<polygon points="143.5,500.8 143.5,502.4 143.5,504.0 143.5,505.5 143.5,507.1 143.5,508.7 143.5,510.3 143.5,511.9 143.5,513.4 143.5,515.0 143.5,516.6 143.5,518.2 143.5,519.7 143.6,521.3 143.6,522.9 143.6,524.5 143.6,526.1 143.6,527.6 143.6,529.2 143.6,530.8 143.6,532.4 143.7,533.9 143.7,535.5 143.8,537.1 143.8,538.7 143.9,540.2 143.9,541.8 144.0,543.4 144.1,545.0 144.2,546.6 144.3,548.1 144.4,549.7 144.4,551.3 144.5,552.9 144.6,554.4 144.7,556.0 144.8,557.6 144.9,559.2 145.0,560.7 145.1,562.3 145.2,563.9 145.3,565.5 145.3,567.0 145.4,568.6 145.5,570.2 145.5,571.8 145.6,573.4 145.7,574.9 145.8,576.5 145.8,578.1 145.9,579.7 146.0,581.2 146.1,582.8 146.1,584.4 146.2,586.0 146.3,587.5 146.3,589.1 146.4,590.7 146.5,592.3 146.6,593.8 146.6,595.4 146.7,597.0 146.8,598.6 146.9,600.2 146.9,601.7 147.0,603.3 147.1,604.9 147.2,606.5 147.2,608.0 147.3,609.6 147.4,611.2 147.5,612.8 147.6,614.3 147.6,615.9 147.7,617.5 147.8,619.1 147.9,620.6 148.0,622.2 148.1,623.8 148.1,625.4 148.2,626.9 148.3,628.5 148.4,630.1 148.5,631.7 148.6,633.2 148.7,634.8 148.8,636.4 148.9,638.0 149.0,639.5 149.1,641.1 149.2,642.7 149.3,644.3 149.4,645.9 149.5,647.4 149.6,649.0 149.7,650.6 149.8,652.2 149.9,653.7 150.0,655.3 150.1,656.9 150.2,658.5 150.2,660.0 150.3,661.6 150.4,663.2 150.5,664.8 150.6,666.3 150.7,667.9 150.8,669.5 150.9,671.1 151.0,672.6 151.1,674.2 151.2,675.8 151.3,677.4 151.4,678.9 151.4,680.5 151.5,682.1 151.6,683.7 151.7,685.2 151.8,686.8 151.9,688.4 151.9,690.0 152.0,691.5 152.1,693.1 152.2,694.7 152.3,696.3 152.4,697.8 152.5,699.4 152.5,701.0 152.6,702.6 152.7,704.2 152.8,705.7 152.9,707.3 153.0,708.9 153.1,710.5 153.2,712.0 153.3,713.6 153.4,715.2 153.5,716.8 153.6,718.3 153.7,719.9 153.8,721.5 154.0,723.0 154.1,724.6 154.2,726.2 154.4,727.8 154.5,729.3 154.6,730.9 154.8,732.5 154.9,734.0 155.1,735.6 155.2,737.2 155.4,738.8 155.5,740.3 155.7,741.9 155.9,743.5 156.0,745.0 156.2,746.6 156.4,748.2 156.5,749.8 156.7,751.3 156.9,752.9 157.0,754.5 157.2,756.0 157.4,757.6 157.5,759.2 157.7,760.7 157.9,762.3 158.0,763.9 158.2,765.4 158.4,767.0 158.5,768.6 158.7,770.2 158.8,771.7 159.0,773.3 159.2,774.9 159.4,776.4 159.5,778.0 159.7,779.6 159.9,781.1 160.0,782.7 160.2,784.3 160.4,785.8 160.6,787.4 160.8,789.0 160.9,790.6 161.1,792.1 161.3,793.7 161.5,795.3 161.7,796.8 161.9,798.4 162.1,799.9 162.3,801.5 162.5,803.1 162.7,804.6 162.9,806.2 163.1,807.8 163.4,809.3 163.6,810.9 163.8,812.5 164.0,814.0 164.3,815.6 164.5,817.1 164.7,818.7 165.0,820.3 165.2,821.8 165.5,823.4 165.7,824.9 166.0,826.5 166.2,828.1 166.4,829.6 166.7,831.2 166.9,832.7 167.2,834.3 167.4,835.9 167.6,837.4 167.9,839.0 168.1,840.6 168.4,842.1 168.6,843.7 168.9,845.2 169.2,846.8 169.5,848.3 169.8,849.9 170.1,851.4 170.5,852.9 170.9,854.5 171.3,856.0 171.7,857.5 172.2,859.0 172.7,860.5 173.1,862.0 173.6,863.5 174.2,865.0 174.7,866.5 175.3,868.0 175.9,869.5 176.5,870.9 177.1,872.3 177.8,873.8 178.6,875.1 179.3,876.5 180.1,877.9 181.0,879.2 181.9,880.5 182.8,881.8 183.7,883.1 184.6,884.4 185.6,885.6 186.7,886.8 187.8,888.0 188.9,889.0 190.1,890.1 191.3,891.1 192.6,892.1 193.8,893.0 195.2,893.8 196.5,894.6 197.9,895.4 199.3,896.1 200.8,896.8 202.2,897.4 203.7,897.9 205.2,898.4 206.7,898.8 208.3,899.1 209.8,899.4 211.4,899.7 213.0,899.9 214.5,900.1 216.1,900.3 217.7,900.5 219.2,900.6 220.8,900.6 222.4,900.7 224.0,900.8 225.5,900.8 227.1,900.8 228.7,900.9 230.3,900.9 231.9,900.9 233.4,900.9 235.0,900.9 236.6,900.9 238.2,900.9 239.8,900.9 241.3,900.9 242.9,900.9 244.5,900.9 246.1,900.9 247.6,900.9 249.2,900.9 250.8,900.9 252.4,900.9 254.0,900.9 255.5,900.9 257.1,900.9 258.7,900.9 260.3,900.9 261.8,900.9 263.4,900.9 265.0,900.9 266.6,900.9 268.2,900.9 269.7,900.9 271.3,900.9 272.9,900.9 274.5,900.9 276.1,900.9 277.6,900.9 279.2,900.9 280.8,900.9 282.4,900.9 283.9,900.9 285.5,900.9 287.1,900.9 288.7,900.9 290.3,900.9 291.8,900.9 293.4,900.9 295.0,900.9 296.6,900.9 298.1,900.9 299.7,900.9 301.3,900.9 302.9,900.9 304.5,900.9 306.0,900.9 307.6,900.9 309.2,900.9 310.8,900.9 312.4,900.9 313.9,900.9 315.5,900.9 317.1,900.9 318.7,900.9 320.2,900.9 321.8,900.9 323.4,900.9 325.0,900.9 326.6,900.9 328.1,900.9 329.7,900.9 331.3,900.9 332.9,900.9 334.4,900.9 336.0,900.9 337.6,900.9 339.2,900.9 340.8,900.9 342.3,900.9 343.9,900.9 345.5,900.9 347.1,900.9 348.7,900.9 350.2,900.9 351.8,900.9 353.4,901.0 355.0,901.0 356.5,901.0 358.1,901.0 359.7,901.0 361.3,901.0 362.9,901.0 364.4,901.0 366.0,901.0 367.6,901.0 369.2,901.0 370.7,901.0 372.3,901.0 373.9,901.0 375.5,901.0 377.1,901.0 378.6,901.0 380.2,901.0 381.8,901.0 383.4,901.0 384.9,901.0 386.5,901.0 388.1,901.0 389.7,901.0 391.3,901.0 392.8,901.0 394.4,901.0 396.0,901.0 397.6,901.0 399.2,901.0 400.7,901.0 402.3,901.0 403.9,901.0 405.5,901.0 407.0,901.0 408.6,901.0 410.2,901.0 411.8,901.0 413.4,901.0 414.9,901.0 416.5,901.0 418.1,901.0 419.7,901.0 421.2,901.0 422.8,901.0 424.4,901.0 426.0,901.0 427.6,901.1 429.1,901.1 430.7,901.1 432.3,901.1 433.9,901.1 435.5,901.1 437.0,901.1 438.6,901.1 440.2,901.1 441.8,901.1 443.3,901.1 444.9,901.1 446.5,901.1 448.1,901.1 449.7,901.1 451.2,901.1 452.8,901.1 454.4,901.1 456.0,901.1 457.5,901.1 459.1,901.1 460.7,901.1 462.3,901.1 463.9,901.1 465.4,901.1 467.0,901.1 468.6,901.1 470.2,901.1 471.8,901.1 473.3,901.1 474.9,901.1 476.5,901.1 478.1,901.1 479.6,901.1 481.2,901.1 482.8,901.1 484.4,901.1 486.0,901.1 487.5,901.1 489.1,901.1 490.7,901.1 492.3,901.2 493.8,901.2 495.4,901.2 497.0,901.2 498.6,901.2 500.2,901.2 501.7,901.2 503.3,901.2 504.9,901.2 506.5,901.2 508.1,901.2 509.6,901.2 511.2,901.2 512.8,901.2 514.4,901.2 515.9,901.2 517.5,901.2 519.1,901.2 520.7,901.2 522.3,901.2 523.8,901.2 525.4,901.2 527.0,901.2 528.6,901.2 530.1,901.2 531.7,901.2 533.3,901.2 534.9,901.2 536.5,901.2 538.0,901.2 539.6,901.2 541.2,901.3 542.8,901.3 544.3,901.3 545.9,901.3 547.5,901.3 549.1,901.3 550.7,901.3 552.2,901.3 553.8,901.3 555.4,901.3 557.0,901.3 558.6,901.3 560.1,901.3 561.7,901.3 563.3,901.3 564.9,901.3 566.4,901.3 568.0,901.3 569.6,901.3 571.2,901.3 572.8,901.3 574.3,901.3 575.9,901.3 577.5,901.3 579.1,901.4 580.6,901.4 582.2,901.4 583.8,901.4 585.4,901.4 587.0,901.4 588.5,901.4 590.1,901.4 591.7,901.4 593.3,901.4 594.9,901.4 596.4,901.4 598.0,901.4 599.6,901.4 601.2,901.4 602.7,901.4 604.3,901.4 605.9,901.4 607.5,901.5 609.1,901.5 610.6,901.5 612.2,901.5 613.8,901.5 615.4,901.5 616.9,901.5 618.5,901.5 620.1,901.5 621.7,901.5 623.3,901.5 624.8,901.5 626.4,901.5 628.0,901.5 629.6,901.5 631.2,901.6 632.7,901.6 634.3,901.6 635.9,901.6 637.5,901.6 639.0,901.6 640.6,901.6 642.2,901.6 643.8,901.6 645.4,901.6 646.9,901.6 648.5,901.6 650.1,901.7 651.7,901.7 653.2,901.7 654.8,901.7 656.4,901.7 658.0,901.7 659.6,901.7 661.1,901.7 662.7,901.8 664.3,901.8 665.9,901.8 667.5,901.8 669.0,901.8 670.6,901.8 672.2,901.9 673.8,901.9 675.3,901.9 676.9,901.9 678.5,901.9 680.1,902.0 681.7,902.0 683.2,902.0 684.8,902.0 686.4,902.1 688.0,902.1 689.5,902.1 691.1,902.1 692.7,902.2 694.3,902.2 695.9,902.2 697.4,902.3 699.0,902.3 700.6,902.3 702.2,902.4 703.7,902.4 705.3,902.5 706.9,902.5 708.5,902.6 710.1,902.6 711.6,902.7 713.2,902.8 714.8,902.9 716.4,903.0 717.9,903.1 719.5,903.3 721.1,903.5 722.6,903.7 724.2,904.0 725.7,904.3 727.3,904.6 728.8,905.0 730.3,905.4 731.8,905.8 733.3,906.4 734.8,906.9 736.3,907.5 736.3,1002.9 734.7,1002.2 733.0,1001.6 731.4,1001.1 729.7,1000.6 728.0,1000.2 726.3,999.8 724.6,999.5 722.9,999.2 721.2,998.9 719.4,998.7 717.7,998.5 716.0,998.4 714.2,998.2 712.5,998.0 710.7,997.9 709.0,997.8 707.3,997.7 705.5,997.6 703.8,997.5 702.0,997.4 700.3,997.4 698.5,997.3 696.8,997.3 695.1,997.2 693.3,997.2 691.6,997.2 689.8,997.1 688.1,997.1 686.3,997.1 684.6,997.0 682.9,997.0 681.1,997.0 679.4,996.9 677.6,996.9 675.9,996.9 674.1,996.9 672.4,996.8 670.7,996.8 668.9,996.8 667.2,996.7 665.4,996.7 663.7,996.7 661.9,996.7 660.2,996.6 658.4,996.6 656.7,996.6 655.0,996.6 653.2,996.6 651.5,996.6 649.7,996.5 648.0,996.5 646.2,996.5 644.5,996.5 642.8,996.5 641.0,996.5 639.3,996.5 637.5,996.5 635.8,996.5 634.0,996.5 632.3,996.5 630.5,996.5 628.8,996.5 627.1,996.5 625.3,996.5 623.6,996.5 621.8,996.5 620.1,996.5 618.3,996.5 616.6,996.5 614.9,996.5 613.1,996.5 611.4,996.5 609.6,996.5 607.9,996.5 606.1,996.5 604.4,996.5 602.6,996.5 600.9,996.5 599.2,996.5 597.4,996.5 595.7,996.5 593.9,996.5 592.2,996.5 590.4,996.5 588.7,996.5 587.0,996.5 585.2,996.5 583.5,996.5 581.7,996.5 580.0,996.5 578.2,996.5 576.5,996.5 574.8,996.5 573.0,996.5 571.3,996.5 569.5,996.5 567.8,996.5 566.0,996.5 564.3,996.5 562.5,996.5 560.8,996.5 559.1,996.5 557.3,996.5 555.6,996.5 553.8,996.5 552.1,996.5 550.3,996.5 548.6,996.5 546.9,996.5 545.1,996.5 543.4,996.5 541.6,996.5 539.9,996.5 538.1,996.5 536.4,996.5 534.6,996.5 532.9,996.5 531.2,996.5 529.4,996.5 527.7,996.5 525.9,996.5 524.2,996.6 522.4,996.6 520.7,996.6 519.0,996.6 517.2,996.6 515.5,996.6 513.7,996.6 512.0,996.6 510.2,996.6 508.5,996.6 506.7,996.6 505.0,996.6 503.3,996.6 501.5,996.6 499.8,996.6 498.0,996.6 496.3,996.6 494.5,996.6 492.8,996.6 491.1,996.6 489.3,996.6 487.6,996.6 485.8,996.6 484.1,996.6 482.3,996.6 480.6,996.6 478.8,996.6 477.1,996.6 475.4,996.6 473.6,996.6 471.9,996.6 470.1,996.6 468.4,996.6 466.6,996.6 464.9,996.6 463.2,996.6 461.4,996.6 459.7,996.6 457.9,996.6 456.2,996.6 454.4,996.6 452.7,996.6 450.9,996.6 449.2,996.6 447.5,996.6 445.7,996.6 444.0,996.6 442.2,996.6 440.5,996.6 438.7,996.6 437.0,996.6 435.3,996.6 433.5,996.6 431.8,996.6 430.0,996.6 428.3,996.6 426.5,996.6 424.8,996.6 423.0,996.6 421.3,996.6 419.6,996.6 417.8,996.6 416.1,996.6 414.3,996.6 412.6,996.6 410.8,996.6 409.1,996.6 407.4,996.6 405.6,996.6 403.9,996.6 402.1,996.6 400.4,996.6 398.6,996.6 396.9,996.6 395.1,996.6 393.4,996.6 391.7,996.7 389.9,996.7 388.2,996.7 386.4,996.7 384.7,996.7 382.9,996.7 381.2,996.7 379.5,996.7 377.7,996.7 376.0,996.7 374.2,996.7 372.5,996.7 370.7,996.7 369.0,996.7 367.2,996.7 365.5,996.7 363.8,996.7 362.0,996.7 360.3,996.7 358.5,996.7 356.8,996.7 355.0,996.7 353.3,996.7 351.6,996.7 349.8,996.7 348.1,996.7 346.3,996.7 344.6,996.7 342.8,996.7 341.1,996.7 339.3,996.7 337.6,996.7 335.9,996.7 334.1,996.7 332.4,996.7 330.6,996.7 328.9,996.7 327.1,996.7 325.4,996.7 323.7,996.7 321.9,996.7 320.2,996.7 318.4,996.7 316.7,996.7 314.9,996.7 313.2,996.7 311.4,996.7 309.7,996.8 308.0,996.8 306.2,996.8 304.5,996.8 302.7,996.8 301.0,996.8 299.2,996.8 297.5,996.8 295.8,996.8 294.0,996.8 292.3,996.8 290.5,996.8 288.8,996.8 287.0,996.8 285.3,996.8 283.5,996.8 281.8,996.8 280.1,996.8 278.3,996.8 276.6,996.8 274.8,996.8 273.1,996.9 271.3,996.9 269.6,996.9 267.9,996.9 266.1,996.9 264.4,996.9 262.6,996.9 260.9,997.0 259.1,997.0 257.4,997.0 255.6,997.0 253.9,997.0 252.2,997.0 250.4,997.0 248.7,997.1 246.9,997.1 245.2,997.1 243.4,997.1 241.7,997.1 240.0,997.1 238.2,997.1 236.5,997.1 234.7,997.1 233.0,997.1 231.2,997.0 229.5,997.0 227.8,996.9 226.0,996.8 224.3,996.7 222.5,996.6 220.8,996.5 219.0,996.4 217.3,996.3 215.6,996.1 213.8,995.9 212.1,995.7 210.4,995.5 208.7,995.2 207.0,994.9 205.3,994.5 203.6,994.0 201.9,993.6 200.2,993.2 198.5,992.7 196.8,992.3 195.1,991.8 193.5,991.3 191.9,990.6 190.3,989.9 188.7,989.1 187.3,988.1 186.1,986.9 185.0,985.4 184.0,984.0 183.0,982.6 182.1,981.1 181.2,979.6 180.3,978.1 179.5,976.5 178.8,974.9 178.1,973.3 177.4,971.7 176.7,970.1 176.0,968.6 175.3,967.0 174.6,965.3 174.0,963.7 173.5,962.0 173.0,960.4 172.5,958.7 172.1,957.0 171.6,955.3 171.2,953.6 170.8,951.9 170.4,950.2 170.0,948.5 169.6,946.8 169.3,945.1 169.0,943.4 168.7,941.7 168.5,939.9 168.3,938.2 168.0,936.5 167.8,934.8 167.6,933.0 167.3,931.3 167.0,929.6 166.7,927.9 166.4,926.1 166.1,924.4 165.8,922.7 165.5,921.0 165.2,919.3 164.9,917.6 164.6,915.8 164.3,914.1 164.1,912.4 163.8,910.7 163.5,909.0 163.2,907.2 162.9,905.5 162.7,903.8 162.4,902.1 162.1,900.3 161.9,898.6 161.7,896.9 161.4,895.2 161.2,893.4 161.0,891.7 160.7,890.0 160.5,888.2 160.3,886.5 160.1,884.8 159.9,883.0 159.7,881.3 159.6,879.6 159.4,877.8 159.3,876.1 159.1,874.4 159.0,872.6 158.9,870.9 158.7,869.2 158.6,867.4 158.5,865.7 158.4,863.9 158.3,862.2 158.2,860.5 158.0,858.7 157.9,857.0 157.8,855.2 157.7,853.5 157.5,851.8 157.4,850.0 157.3,848.3 157.1,846.5 157.0,844.8 156.8,843.1 156.7,841.3 156.5,839.6 156.3,837.9 156.2,836.1 156.0,834.4 155.9,832.6 155.7,830.9 155.5,829.2 155.4,827.4 155.2,825.7 155.1,824.0 154.9,822.2 154.7,820.5 154.6,818.8 154.4,817.0 154.3,815.3 154.1,813.5 153.9,811.8 153.8,810.1 153.6,808.3 153.5,806.6 153.3,804.9 153.2,803.1 153.0,801.4 152.9,799.7 152.7,797.9 152.6,796.2 152.5,794.4 152.3,792.7 152.2,791.0 152.1,789.2 151.9,787.5 151.8,785.7 151.7,784.0 151.6,782.3 151.4,780.5 151.3,778.8 151.2,777.0 151.1,775.3 151.0,773.6 150.8,771.8 150.7,770.1 150.6,768.3 150.5,766.6 150.4,764.9 150.2,763.1 150.1,761.4 150.0,759.7 149.8,757.9 149.7,756.2 149.6,754.4 149.4,752.7 149.3,751.0 149.1,749.2 149.0,747.5 148.9,745.7 148.7,744.0 148.6,742.3 148.4,740.5 148.3,738.8 148.1,737.1 148.0,735.3 147.9,733.6 147.7,731.8 147.6,730.1 147.5,728.4 147.4,726.6 147.3,724.9 147.2,723.1 147.1,721.4 147.0,719.7 146.9,717.9 146.8,716.2 146.7,714.4 146.7,712.7 146.6,711.0 146.5,709.2 146.4,707.5 146.4,705.7 146.3,704.0 146.2,702.2 146.2,700.5 146.1,698.8 146.1,697.0 146.0,695.3 145.9,693.5 145.9,691.8 145.8,690.0 145.8,688.3 145.7,686.6 145.6,684.8 145.6,683.1 145.5,681.3 145.5,679.6 145.4,677.8 145.4,676.1 145.3,674.4 145.3,672.6 145.2,670.9 145.2,669.1 145.1,667.4 145.1,665.6 145.0,663.9 145.0,662.2 144.9,660.4 144.8,658.7 144.8,656.9 144.7,655.2 144.7,653.4 144.6,651.7 144.6,650.0 144.5,648.2 144.5,646.5 144.4,644.7 144.4,643.0 144.3,641.2 144.3,639.5 144.2,637.7 144.2,636.0 144.1,634.3 144.1,632.5 144.1,630.8 144.0,629.0 144.0,627.3 144.0,625.5 143.9,623.8 143.9,622.1 143.9,620.3 143.9,618.6 143.9,616.8 143.9,615.1 143.8,613.3 143.8,611.6 143.8,609.9 143.8,608.1 143.8,606.4 143.8,604.6 143.8,602.9 143.8,601.1 143.8,599.4 143.7,597.6 143.7,595.9 143.7,594.2 143.7,592.4 143.7,590.7 143.7,588.9 143.7,587.2 143.7,585.4 143.7,583.7 143.7,582.0 143.7,580.2 143.7,578.5 143.6,576.7 143.6,575.0 143.6,573.2 143.6,571.5 143.6,569.7 143.6,568.0 143.6,566.3 143.6,564.5 143.6,562.8 143.6,561.0 143.6,559.3 143.6,557.5 143.6,555.8 143.6,554.1 143.6,552.3 143.6,550.6 143.6,548.8 143.6,547.1 143.6,545.3 143.6,543.6 143.6,541.8 143.6,540.1 143.5,538.4 143.5,536.6 143.5,534.9 143.5,533.1 143.5,531.4 143.5,529.6 143.5,527.9 143.5,526.2 143.5,524.4 143.5,522.7 143.5,520.9 143.5,519.2 143.5,517.4 143.5,515.7 143.5,513.9 143.5,512.2 143.5,510.5 143.5,508.7 143.5,507.0 143.5,505.2 143.5,503.5 143.5,501.7 143.5,500.0" fill="#109cff" />
<polygon points="143.5,500.0 143.5,501.7 143.5,503.5 143.5,505.2 143.5,507.0 143.5,508.7 143.5,510.5 143.5,512.2 143.5,513.9 143.5,515.7 143.5,517.4 143.5,519.2 143.5,520.9 143.5,522.7 143.5,524.4 143.5,526.2 143.5,527.9 143.5,529.6 143.5,531.4 143.5,533.1 143.5,534.9 143.5,536.6 143.5,538.4 143.6,540.1 143.6,541.8 143.6,543.6 143.6,545.3 143.6,547.1 143.6,548.8 143.6,550.6 143.6,552.3 143.6,554.1 143.6,555.8 143.6,557.5 143.6,559.3 143.6,561.0 143.6,562.8 143.6,564.5 143.6,566.3 143.6,568.0 143.6,569.7 143.6,571.5 143.6,573.2 143.6,575.0 143.6,576.7 143.7,578.5 143.7,580.2 143.7,582.0 143.7,583.7 143.7,585.4 143.7,587.2 143.7,588.9 143.7,590.7 143.7,592.4 143.7,594.2 143.7,595.9 143.7,597.6 143.8,599.4 143.8,601.1 143.8,602.9 143.8,604.6 143.8,606.4 143.8,608.1 143.8,609.9 143.8,611.6 143.8,613.3 143.9,615.1 143.9,616.8 143.9,618.6 143.9,620.3 143.9,622.1 143.9,623.8 144.0,625.5 144.0,627.3 144.0,629.0 144.1,630.8 144.1,632.5 144.1,634.3 144.2,636.0 144.2,637.7 144.3,639.5 144.3,641.2 144.4,643.0 144.4,644.7 144.5,646.5 144.5,648.2 144.6,650.0 144.6,651.7 144.7,653.4 144.7,655.2 144.8,656.9 144.8,658.7 144.9,660.4 145.0,662.2 145.0,663.9 145.1,665.6 145.1,667.4 145.2,669.1 145.2,670.9 145.3,672.6 145.3,674.4 145.4,676.1 145.4,677.8 145.5,679.6 145.5,681.3 145.6,683.1 145.6,684.8 145.7,686.6 145.8,688.3 145.8,690.0 145.9,691.8 145.9,693.5 146.0,695.3 146.1,697.0 146.1,698.8 146.2,700.5 146.2,702.2 146.3,704.0 146.4,705.7 146.4,707.5 146.5,709.2 146.6,711.0 146.7,712.7 146.7,714.4 146.8,716.2 146.9,717.9 147.0,719.7 147.1,721.4 147.2,723.1 147.3,724.9 147.4,726.6 147.5,728.4 147.6,730.1 147.7,731.8 147.9,733.6 148.0,735.3 148.1,737.1 148.3,738.8 148.4,740.5 148.6,742.3 148.7,744.0 148.9,745.7 149.0,747.5 149.1,749.2 149.3,751.0 149.4,752.7 149.6,754.4 149.7,756.2 149.8,757.9 150.0,759.7 150.1,761.4 150.2,763.1 150.4,764.9 150.5,766.6 150.6,768.3 150.7,770.1 150.8,771.8 151.0,773.6 151.1,775.3 151.2,777.0 151.3,778.8 151.4,780.5 151.6,782.3 151.7,784.0 151.8,785.7 151.9,787.5 152.1,789.2 152.2,791.0 152.3,792.7 152.5,794.4 152.6,796.2 152.7,797.9 152.9,799.7 153.0,801.4 153.2,803.1 153.3,804.9 153.5,806.6 153.6,808.3 153.8,810.1 153.9,811.8 154.1,813.5 154.3,815.3 154.4,817.0 154.6,818.8 154.7,820.5 154.9,822.2 155.1,824.0 155.2,825.7 155.4,827.4 155.5,829.2 155.7,830.9 155.9,832.6 156.0,834.4 156.2,836.1 156.3,837.9 156.5,839.6 156.7,841.3 156.8,843.1 157.0,844.8 157.1,846.5 157.3,848.3 157.4,850.0 157.5,851.8 157.7,853.5 157.8,855.2 157.9,857.0 158.0,858.7 158.2,860.5 158.3,862.2 158.4,863.9 158.5,865.7 158.6,867.4 158.7,869.2 158.9,870.9 159.0,872.6 159.1,874.4 159.3,876.1 159.4,877.8 159.6,879.6 159.7,881.3 159.9,883.0 160.1,884.8 160.3,886.5 160.5,888.2 160.7,890.0 161.0,891.7 161.2,893.4 161.4,895.2 161.7,896.9 161.9,898.6 162.1,900.3 162.4,902.1 162.7,903.8 162.9,905.5 163.2,907.2 163.5,909.0 163.8,910.7 164.1,912.4 164.3,914.1 164.6,915.8 164.9,917.6 165.2,919.3 165.5,921.0 165.8,922.7 166.1,924.4 166.4,926.1 166.7,927.9 167.0,929.6 167.3,931.3 167.6,933.0 167.8,934.8 168.0,936.5 168.3,938.2 168.5,939.9 168.7,941.7 169.0,943.4 169.3,945.1 169.6,946.8 170.0,948.5 170.4,950.2 170.8,951.9 171.2,953.6 171.6,955.3 172.1,957.0 172.5,958.7 173.0,960.4 173.5,962.0 174.0,963.7 174.6,965.3 175.3,967.0 176.0,968.6 176.7,970.1 177.4,971.7 178.1,973.3 178.8,974.9 179.5,976.5 180.3,978.1 181.2,979.6 182.1,981.1 183.0,982.6 184.0,984.0 185.0,985.4 186.1,986.9 187.3,988.1 188.7,989.1 190.3,989.9 191.9,990.6 193.5,991.3 195.1,991.8 196.8,992.3 198.5,992.7 200.2,993.2 201.9,993.6 203.6,994.0 205.3,994.5 207.0,994.9 208.7,995.2 210.4,995.5 212.1,995.7 213.8,995.9 215.6,996.1 217.3,996.3 219.0,996.4 220.8,996.5 222.5,996.6 224.3,996.7 226.0,996.8 227.8,996.9 229.5,997.0 231.2,997.0 233.0,997.1 234.7,997.1 236.5,997.1 238.2,997.1 240.0,997.1 241.7,997.1 243.4,997.1 245.2,997.1 246.9,997.1 248.7,997.1 250.4,997.0 252.2,997.0 253.9,997.0 255.6,997.0 257.4,997.0 259.1,997.0 260.9,997.0 262.6,996.9 264.4,996.9 266.1,996.9 267.9,996.9 269.6,996.9 271.3,996.9 273.1,996.9 274.8,996.8 276.6,996.8 278.3,996.8 280.1,996.8 281.8,996.8 283.5,996.8 285.3,996.8 287.0,996.8 288.8,996.8 290.5,996.8 292.3,996.8 294.0,996.8 295.8,996.8 297.5,996.8 299.2,996.8 301.0,996.8 302.7,996.8 304.5,996.8 306.2,996.8 308.0,996.8 309.7,996.8 311.4,996.7 313.2,996.7 314.9,996.7 316.7,996.7 318.4,996.7 320.2,996.7 321.9,996.7 323.7,996.7 325.4,996.7 327.1,996.7 328.9,996.7 330.6,996.7 332.4,996.7 334.1,996.7 335.9,996.7 337.6,996.7 339.3,996.7 341.1,996.7 342.8,996.7 344.6,996.7 346.3,996.7 348.1,996.7 349.8,996.7 351.6,996.7 353.3,996.7 355.0,996.7 356.8,996.7 358.5,996.7 360.3,996.7 362.0,996.7 363.8,996.7 365.5,996.7 367.2,996.7 369.0,996.7 370.7,996.7 372.5,996.7 374.2,996.7 376.0,996.7 377.7,996.7 379.5,996.7 381.2,996.7 382.9,996.7 384.7,996.7 386.4,996.7 388.2,996.7 389.9,996.7 391.7,996.7 393.4,996.6 395.1,996.6 396.9,996.6 398.6,996.6 400.4,996.6 402.1,996.6 403.9,996.6 405.6,996.6 407.4,996.6 409.1,996.6 410.8,996.6 412.6,996.6 414.3,996.6 416.1,996.6 417.8,996.6 419.6,996.6 421.3,996.6 423.0,996.6 424.8,996.6 426.5,996.6 428.3,996.6 430.0,996.6 431.8,996.6 433.5,996.6 435.3,996.6 437.0,996.6 438.7,996.6 440.5,996.6 442.2,996.6 444.0,996.6 445.7,996.6 447.5,996.6 449.2,996.6 450.9,996.6 452.7,996.6 454.4,996.6 456.2,996.6 457.9,996.6 459.7,996.6 461.4,996.6 463.2,996.6 464.9,996.6 466.6,996.6 468.4,996.6 470.1,996.6 471.9,996.6 473.6,996.6 475.4,996.6 477.1,996.6 478.8,996.6 480.6,996.6 482.3,996.6 484.1,996.6 485.8,996.6 487.6,996.6 489.3,996.6 491.1,996.6 492.8,996.6 494.5,996.6 496.3,996.6 498.0,996.6 499.8,996.6 501.5,996.6 503.3,996.6 505.0,996.6 506.7,996.6 508.5,996.6 510.2,996.6 512.0,996.6 513.7,996.6 515.5,996.6 517.2,996.6 519.0,996.6 520.7,996.6 522.4,996.6 524.2,996.6 525.9,996.5 527.7,996.5 529.4,996.5 531.2,996.5 532.9,996.5 534.6,996.5 536.4,996.5 538.1,996.5 539.9,996.5 541.6,996.5 543.4,996.5 545.1,996.5 546.9,996.5 548.6,996.5 550.3,996.5 552.1,996.5 553.8,996.5 555.6,996.5 557.3,996.5 559.1,996.5 560.8,996.5 562.5,996.5 564.3,996.5 566.0,996.5 567.8,996.5 569.5,996.5 571.3,996.5 573.0,996.5 574.8,996.5 576.5,996.5 578.2,996.5 580.0,996.5 581.7,996.5 583.5,996.5 585.2,996.5 587.0,996.5 588.7,996.5 590.4,996.5 592.2,996.5 593.9,996.5 595.7,996.5 597.4,996.5 599.2,996.5 600.9,996.5 602.6,996.5 604.4,996.5 606.1,996.5 607.9,996.5 609.6,996.5 611.4,996.5 613.1,996.5 614.9,996.5 616.6,996.5 618.3,996.5 620.1,996.5 621.8,996.5 623.6,996.5 625.3,996.5 627.1,996.5 628.8,996.5 630.5,996.5 632.3,996.5 634.0,996.5 635.8,996.5 637.5,996.5 639.3,996.5 641.0,996.5 642.8,996.5 644.5,996.5 646.2,996.5 648.0,996.5 649.7,996.5 651.5,996.6 653.2,996.6 655.0,996.6 656.7,996.6 658.4,996.6 660.2,996.6 661.9,996.7 663.7,996.7 665.4,996.7 667.2,996.7 668.9,996.8 670.7,996.8 672.4,996.8 674.1,996.9 675.9,996.9 677.6,996.9 679.4,996.9 681.1,997.0 682.9,997.0 684.6,997.0 686.3,997.1 688.1,997.1 689.8,997.1 691.6,997.2 693.3,997.2 695.1,997.2 696.8,997.3 698.5,997.3 700.3,997.4 702.0,997.4 703.8,997.5 705.5,997.6 707.3,997.7 709.0,997.8 710.7,997.9 712.5,998.0 714.2,998.2 716.0,998.4 717.7,998.5 719.4,998.7 721.2,998.9 722.9,999.2 724.6,999.5 726.3,999.8 728.0,1000.2 729.7,1000.6 731.4,1001.1 733.0,1001.6 734.7,1002.2 736.3,1002.9 736.3,1010.3 734.6,1009.8 732.9,1009.3 731.2,1008.9 729.6,1008.4 727.9,1007.9 726.2,1007.5 724.5,1007.0 722.8,1006.5 721.1,1006.1 719.4,1005.7 717.7,1005.4 716.0,1005.1 714.2,1004.8 712.5,1004.6 710.8,1004.3 709.0,1004.1 707.3,1003.9 705.5,1003.7 703.8,1003.6 702.1,1003.5 700.3,1003.4 698.6,1003.3 696.8,1003.2 695.1,1003.1 693.3,1003.0 691.6,1002.9 689.8,1002.9 688.1,1002.8 686.3,1002.7 684.6,1002.7 682.8,1002.6 681.1,1002.6 679.3,1002.5 677.6,1002.4 675.8,1002.4 674.1,1002.3 672.3,1002.2 670.6,1002.2 668.8,1002.1 667.1,1002.1 665.3,1002.0 663.6,1002.0 661.8,1001.9 660.1,1001.8 658.3,1001.8 656.6,1001.8 654.8,1001.7 653.1,1001.7 651.3,1001.6 649.6,1001.6 647.8,1001.6 646.1,1001.5 644.3,1001.5 642.6,1001.5 640.8,1001.5 639.1,1001.5 637.3,1001.5 635.6,1001.5 633.8,1001.5 632.1,1001.5 630.3,1001.5 628.6,1001.5 626.8,1001.5 625.1,1001.5 623.3,1001.5 621.6,1001.5 619.8,1001.5 618.1,1001.5 616.3,1001.4 614.6,1001.4 612.8,1001.4 611.1,1001.4 609.3,1001.4 607.6,1001.4 605.8,1001.4 604.1,1001.4 602.3,1001.4 600.6,1001.4 598.8,1001.4 597.1,1001.4 595.3,1001.4 593.6,1001.4 591.8,1001.4 590.1,1001.4 588.3,1001.4 586.6,1001.4 584.8,1001.4 583.1,1001.4 581.3,1001.4 579.6,1001.4 577.8,1001.4 576.1,1001.4 574.3,1001.4 572.6,1001.4 570.8,1001.4 569.1,1001.4 567.3,1001.4 565.6,1001.4 563.8,1001.4 562.1,1001.4 560.3,1001.4 558.6,1001.4 556.8,1001.4 555.1,1001.4 553.3,1001.4 551.6,1001.4 549.8,1001.4 548.1,1001.4 546.3,1001.4 544.6,1001.4 542.8,1001.4 541.1,1001.4 539.3,1001.4 537.6,1001.4 535.8,1001.4 534.1,1001.4 532.3,1001.4 530.6,1001.4 528.8,1001.4 527.1,1001.4 525.3,1001.4 523.6,1001.3 521.8,1001.3 520.1,1001.3 518.3,1001.3 516.6,1001.3 514.8,1001.3 513.1,1001.3 511.3,1001.3 509.6,1001.3 507.8,1001.3 506.1,1001.3 504.3,1001.3 502.6,1001.3 500.8,1001.3 499.1,1001.3 497.3,1001.3 495.6,1001.3 493.8,1001.3 492.1,1001.3 490.3,1001.3 488.6,1001.3 486.8,1001.3 485.1,1001.3 483.3,1001.3 481.6,1001.3 479.8,1001.3 478.1,1001.3 476.3,1001.3 474.6,1001.3 472.8,1001.3 471.1,1001.3 469.3,1001.3 467.6,1001.3 465.8,1001.3 464.1,1001.3 462.3,1001.3 460.6,1001.3 458.8,1001.3 457.1,1001.3 455.3,1001.3 453.6,1001.3 451.8,1001.3 450.1,1001.3 448.3,1001.3 446.6,1001.3 444.8,1001.3 443.1,1001.3 441.3,1001.3 439.6,1001.3 437.8,1001.3 436.1,1001.3 434.3,1001.3 432.6,1001.3 430.8,1001.3 429.1,1001.3 427.3,1001.3 425.6,1001.3 423.8,1001.3 422.1,1001.3 420.3,1001.3 418.6,1001.3 416.8,1001.3 415.1,1001.3 413.3,1001.3 411.6,1001.2 409.8,1001.2 408.1,1001.2 406.3,1001.2 404.6,1001.2 402.8,1001.2 401.1,1001.2 399.3,1001.2 397.6,1001.2 395.8,1001.2 394.1,1001.2 392.3,1001.2 390.6,1001.2 388.8,1001.2 387.1,1001.2 385.3,1001.2 383.6,1001.2 381.8,1001.2 380.1,1001.2 378.3,1001.2 376.6,1001.2 374.8,1001.2 373.1,1001.2 371.3,1001.2 369.6,1001.2 367.8,1001.2 366.1,1001.2 364.3,1001.2 362.6,1001.2 360.8,1001.2 359.1,1001.2 357.3,1001.2 355.6,1001.2 353.8,1001.2 352.1,1001.2 350.3,1001.2 348.5,1001.2 346.8,1001.2 345.0,1001.2 343.3,1001.2 341.5,1001.2 339.8,1001.2 338.0,1001.2 336.3,1001.2 334.5,1001.2 332.8,1001.2 331.0,1001.2 329.3,1001.2 327.5,1001.2 325.8,1001.2 324.0,1001.2 322.3,1001.2 320.5,1001.1 318.8,1001.1 317.0,1001.1 315.3,1001.1 313.5,1001.1 311.8,1001.1 310.0,1001.1 308.3,1001.1 306.5,1001.1 304.8,1001.1 303.0,1001.1 301.3,1001.1 299.5,1001.1 297.8,1001.1 296.0,1001.1 294.3,1001.1 292.5,1001.1 290.8,1001.1 289.0,1001.1 287.3,1001.1 285.5,1001.1 283.8,1001.1 282.0,1001.1 280.3,1001.1 278.5,1001.1 276.8,1001.1 275.0,1001.1 273.3,1001.1 271.5,1001.1 269.8,1001.1 268.0,1001.1 266.3,1001.1 264.5,1001.1 262.8,1001.1 261.0,1001.1 259.3,1001.1 257.5,1001.1 255.8,1001.1 254.0,1001.1 252.3,1001.1 250.5,1001.1 248.8,1001.0 247.0,1001.0 245.3,1001.0 243.5,1001.0 241.8,1001.0 240.0,1001.0 238.3,1001.0 236.5,1001.0 234.8,1001.0 233.0,1001.0 231.3,1000.9 229.5,1000.9 227.8,1000.8 226.0,1000.8 224.3,1000.7 222.5,1000.6 220.8,1000.5 219.0,1000.4 217.3,1000.3 215.6,1000.1 213.8,999.9 212.1,999.7 210.3,999.5 208.6,999.2 206.9,998.9 205.2,998.6 203.5,998.2 201.8,997.7 200.1,997.3 198.4,996.8 196.7,996.3 195.1,995.7 193.4,995.1 191.8,994.3 190.3,993.5 188.8,992.6 187.4,991.5 186.1,990.3 185.0,989.0 183.9,987.6 183.0,986.1 182.1,984.6 181.2,983.1 180.4,981.6 179.6,980.0 178.8,978.4 178.2,976.8 177.5,975.2 176.9,973.6 176.2,971.9 175.6,970.3 175.0,968.6 174.4,967.0 173.8,965.4 173.2,963.7 172.6,962.0 172.1,960.4 171.6,958.7 171.2,957.0 170.7,955.3 170.3,953.6 169.9,951.9 169.5,950.2 169.2,948.5 168.8,946.8 168.5,945.0 168.2,943.3 168.0,941.6 167.7,939.9 167.5,938.1 167.3,936.4 167.1,934.7 166.8,932.9 166.6,931.2 166.3,929.5 166.0,927.7 165.7,926.0 165.4,924.3 165.1,922.6 164.8,920.8 164.5,919.1 164.2,917.4 163.9,915.7 163.6,913.9 163.3,912.2 163.0,910.5 162.7,908.8 162.5,907.0 162.2,905.3 161.9,903.6 161.7,901.8 161.4,900.1 161.2,898.4 160.9,896.6 160.7,894.9 160.5,893.2 160.2,891.4 160.0,889.7 159.8,888.0 159.6,886.2 159.4,884.5 159.2,882.7 159.0,881.0 158.8,879.3 158.7,877.5 158.5,875.8 158.4,874.0 158.3,872.3 158.1,870.5 158.0,868.8 157.9,867.1 157.8,865.3 157.7,863.6 157.5,861.8 157.4,860.1 157.3,858.3 157.2,856.6 157.1,854.8 156.9,853.1 156.8,851.3 156.7,849.6 156.5,847.8 156.4,846.1 156.2,844.4 156.1,842.6 155.9,840.9 155.8,839.1 155.6,837.4 155.4,835.6 155.3,833.9 155.1,832.2 155.0,830.4 154.8,828.7 154.6,826.9 154.5,825.2 154.3,823.4 154.2,821.7 154.0,820.0 153.8,818.2 153.7,816.5 153.5,814.7 153.4,813.0 153.2,811.2 153.0,809.5 152.9,807.8 152.7,806.0 152.6,804.3 152.4,802.5 152.3,800.8 152.1,799.0 152.0,797.3 151.8,795.5 151.7,793.8 151.6,792.1 151.4,790.3 151.3,788.6 151.2,786.8 151.1,785.1 150.9,783.3 150.8,781.6 150.7,779.8 150.6,778.1 150.5,776.3 150.3,774.6 150.2,772.9 150.1,771.1 150.0,769.4 149.8,767.6 149.7,765.9 149.6,764.1 149.5,762.4 149.3,760.6 149.2,758.9 149.1,757.1 149.0,755.4 148.8,753.7 148.7,751.9 148.5,750.2 148.4,748.4 148.3,746.7 148.1,744.9 148.0,743.2 147.8,741.4 147.7,739.7 147.6,737.9 147.4,736.2 147.3,734.5 147.2,732.7 147.0,731.0 146.9,729.2 146.8,727.5 146.7,725.7 146.6,724.0 146.5,722.2 146.4,720.5 146.3,718.7 146.3,717.0 146.2,715.2 146.1,713.5 146.1,711.7 146.0,710.0 145.9,708.2 145.9,706.5 145.8,704.8 145.7,703.0 145.7,701.3 145.6,699.5 145.6,697.8 145.5,696.0 145.4,694.3 145.4,692.5 145.3,690.8 145.3,689.0 145.2,687.3 145.2,685.5 145.2,683.8 145.1,682.0 145.1,680.3 145.0,678.5 145.0,676.8 144.9,675.0 144.9,673.3 144.8,671.5 144.8,669.8 144.8,668.0 144.7,666.3 144.7,664.5 144.6,662.8 144.6,661.0 144.5,659.3 144.5,657.5 144.4,655.8 144.4,654.0 144.4,652.3 144.3,650.5 144.3,648.8 144.2,647.0 144.2,645.3 144.1,643.5 144.1,641.8 144.1,640.0 144.0,638.3 144.0,636.5 144.0,634.8 143.9,633.0 143.9,631.3 143.9,629.5 143.9,627.8 143.9,626.0 143.8,624.3 143.8,622.5 143.8,620.8 143.8,619.0 143.8,617.3 143.8,615.5 143.8,613.8 143.8,612.0 143.7,610.3 143.7,608.5 143.7,606.8 143.7,605.0 143.7,603.3 143.7,601.5 143.7,599.8 143.7,598.0 143.7,596.3 143.7,594.5 143.7,592.8 143.7,591.0 143.7,589.3 143.7,587.5 143.7,585.8 143.7,584.0 143.7,582.3 143.6,580.5 143.6,578.8 143.6,577.0 143.6,575.3 143.6,573.5 143.6,571.8 143.6,570.0 143.6,568.3 143.6,566.5 143.6,564.8 143.6,563.0 143.6,561.3 143.6,559.5 143.6,557.8 143.6,556.0 143.6,554.3 143.6,552.5 143.6,550.8 143.6,549.0 143.6,547.3 143.6,545.5 143.6,543.8 143.6,542.0 143.6,540.3 143.6,538.5 143.6,536.8 143.5,535.0 143.5,533.3 143.5,531.5 143.5,529.8 143.5,528.0 143.5,526.3 143.5,524.5 143.5,522.8 143.5,521.0 143.5,519.3 143.5,517.5 143.5,515.8 143.5,514.0 143.5,512.3 143.5,510.5 143.5,508.8 143.5,507.0 143.5,505.3 143.5,503.5 143.5,501.8 143.5,500.0" fill="#ff6600" />
<polygon points="143.5,500.0 143.5,501.8 143.5,503.5 143.5,505.3 143.5,507.0 143.5,508.8 143.5,510.5 143.5,512.3 143.5,514.0 143.5,515.8 143.5,517.5 143.5,519.3 143.5,521.0 143.5,522.8 143.5,524.5 143.5,526.3 143.5,528.0 143.5,529.8 143.5,531.5 143.5,533.3 143.5,535.0 143.6,536.8 143.6,538.5 143.6,540.3 143.6,542.0 143.6,543.8 143.6,545.5 143.6,547.3 143.6,549.0 143.6,550.8 143.6,552.5 143.6,554.3 143.6,556.0 143.6,557.8 143.6,559.5 143.6,561.3 143.6,563.0 143.6,564.8 143.6,566.5 143.6,568.3 143.6,570.0 143.6,571.8 143.6,573.5 143.6,575.3 143.6,577.0 143.6,578.8 143.6,580.5 143.7,582.3 143.7,584.0 143.7,585.8 143.7,587.5 143.7,589.3 143.7,591.0 143.7,592.8 143.7,594.5 143.7,596.3 143.7,598.0 143.7,599.8 143.7,601.5 143.7,603.3 143.7,605.0 143.7,606.8 143.7,608.5 143.7,610.3 143.8,612.0 143.8,613.8 143.8,615.5 143.8,617.3 143.8,619.0 143.8,620.8 143.8,622.5 143.8,624.3 143.9,626.0 143.9,627.8 143.9,629.5 143.9,631.3 143.9,633.0 144.0,634.8 144.0,636.5 144.0,638.3 144.1,640.0 144.1,641.8 144.1,643.5 144.2,645.3 144.2,647.0 144.3,648.8 144.3,650.5 144.4,652.3 144.4,654.0 144.4,655.8 144.5,657.5 144.5,659.3 144.6,661.0 144.6,662.8 144.7,664.5 144.7,666.3 144.8,668.0 144.8,669.8 144.8,671.5 144.9,673.3 144.9,675.0 145.0,676.8 145.0,678.5 145.1,680.3 145.1,682.0 145.2,683.8 145.2,685.5 145.2,687.3 145.3,689.0 145.3,690.8 145.4,692.5 145.4,694.3 145.5,696.0 145.6,697.8 145.6,699.5 145.7,701.3 145.7,703.0 145.8,704.8 145.9,706.5 145.9,708.2 146.0,710.0 146.1,711.7 146.1,713.5 146.2,715.2 146.3,717.0 146.3,718.7 146.4,720.5 146.5,722.2 146.6,724.0 146.7,725.7 146.8,727.5 146.9,729.2 147.0,731.0 147.2,732.7 147.3,734.5 147.4,736.2 147.6,737.9 147.7,739.7 147.8,741.4 148.0,743.2 148.1,744.9 148.3,746.7 148.4,748.4 148.5,750.2 148.7,751.9 148.8,753.7 149.0,755.4 149.1,757.1 149.2,758.9 149.3,760.6 149.5,762.4 149.6,764.1 149.7,765.9 149.8,767.6 150.0,769.4 150.1,771.1 150.2,772.9 150.3,774.6 150.5,776.3 150.6,778.1 150.7,779.8 150.8,781.6 150.9,783.3 151.1,785.1 151.2,786.8 151.3,788.6 151.4,790.3 151.6,792.1 151.7,793.8 151.8,795.5 152.0,797.3 152.1,799.0 152.3,800.8 152.4,802.5 152.6,804.3 152.7,806.0 152.9,807.8 153.0,809.5 153.2,811.2 153.4,813.0 153.5,814.7 153.7,816.5 153.8,818.2 154.0,820.0 154.2,821.7 154.3,823.4 154.5,825.2 154.6,826.9 154.8,828.7 155.0,830.4 155.1,832.2 155.3,833.9 155.4,835.6 155.6,837.4 155.8,839.1 155.9,840.9 156.1,842.6 156.2,844.4 156.4,846.1 156.5,847.8 156.7,849.6 156.8,851.3 156.9,853.1 157.1,854.8 157.2,856.6 157.3,858.3 157.4,860.1 157.5,861.8 157.7,863.6 157.8,865.3 157.9,867.1 158.0,868.8 158.1,870.5 158.3,872.3 158.4,874.0 158.5,875.8 158.7,877.5 158.8,879.3 159.0,881.0 159.2,882.7 159.4,884.5 159.6,886.2 159.8,888.0 160.0,889.7 160.2,891.4 160.5,893.2 160.7,894.9 160.9,896.6 161.2,898.4 161.4,900.1 161.7,901.8 161.9,903.6 162.2,905.3 162.5,907.0 162.7,908.8 163.0,910.5 163.3,912.2 163.6,913.9 163.9,915.7 164.2,917.4 164.5,919.1 164.8,920.8 165.1,922.6 165.4,924.3 165.7,926.0 166.0,927.7 166.3,929.5 166.6,931.2 166.8,932.9 167.1,934.7 167.3,936.4 167.5,938.1 167.7,939.9 168.0,941.6 168.2,943.3 168.5,945.0 168.8,946.8 169.2,948.5 169.5,950.2 169.9,951.9 170.3,953.6 170.7,955.3 171.2,957.0 171.6,958.7 172.1,960.4 172.6,962.0 173.2,963.7 173.8,965.4 174.4,967.0 175.0,968.6 175.6,970.3 176.2,971.9 176.9,973.6 177.5,975.2 178.2,976.8 178.8,978.4 179.6,980.0 180.4,981.6 181.2,983.1 182.1,984.6 183.0,986.1 183.9,987.6 185.0,989.0 186.1,990.3 187.4,991.5 188.8,992.6 190.3,993.5 191.8,994.3 193.4,995.1 195.1,995.7 196.7,996.3 198.4,996.8 200.1,997.3 201.8,997.7 203.5,998.2 205.2,998.6 206.9,998.9 208.6,999.2 210.3,999.5 212.1,999.7 213.8,999.9 215.6,1000.1 217.3,1000.3 219.0,1000.4 220.8,1000.5 222.5,1000.6 224.3,1000.7 226.0,1000.8 227.8,1000.8 229.5,1000.9 231.3,1000.9 233.0,1001.0 234.8,1001.0 236.5,1001.0 238.3,1001.0 240.0,1001.0 241.8,1001.0 243.5,1001.0 245.3,1001.0 247.0,1001.0 248.8,1001.0 250.5,1001.1 252.3,1001.1 254.0,1001.1 255.8,1001.1 257.5,1001.1 259.3,1001.1 261.0,1001.1 262.8,1001.1 264.5,1001.1 266.3,1001.1 268.0,1001.1 269.8,1001.1 271.5,1001.1 273.3,1001.1 275.0,1001.1 276.8,1001.1 278.5,1001.1 280.3,1001.1 282.0,1001.1 283.8,1001.1 285.5,1001.1 287.3,1001.1 289.0,1001.1 290.8,1001.1 292.5,1001.1 294.3,1001.1 296.0,1001.1 297.8,1001.1 299.5,1001.1 301.3,1001.1 303.0,1001.1 304.8,1001.1 306.5,1001.1 308.3,1001.1 310.0,1001.1 311.8,1001.1 313.5,1001.1 315.3,1001.1 317.0,1001.1 318.8,1001.1 320.5,1001.1 322.3,1001.2 324.0,1001.2 325.8,1001.2 327.5,1001.2 329.3,1001.2 331.0,1001.2 332.8,1001.2 334.5,1001.2 336.3,1001.2 338.0,1001.2 339.8,1001.2 341.5,1001.2 343.3,1001.2 345.0,1001.2 346.8,1001.2 348.5,1001.2 350.3,1001.2 352.1,1001.2 353.8,1001.2 355.6,1001.2 357.3,1001.2 359.1,1001.2 360.8,1001.2 362.6,1001.2 364.3,1001.2 366.1,1001.2 367.8,1001.2 369.6,1001.2 371.3,1001.2 373.1,1001.2 374.8,1001.2 376.6,1001.2 378.3,1001.2 380.1,1001.2 381.8,1001.2 383.6,1001.2 385.3,1001.2 387.1,1001.2 388.8,1001.2 390.6,1001.2 392.3,1001.2 394.1,1001.2 395.8,1001.2 397.6,1001.2 399.3,1001.2 401.1,1001.2 402.8,1001.2 404.6,1001.2 406.3,1001.2 408.1,1001.2 409.8,1001.2 411.6,1001.2 413.3,1001.3 415.1,1001.3 416.8,1001.3 418.6,1001.3 420.3,1001.3 422.1,1001.3 423.8,1001.3 425.6,1001.3 427.3,1001.3 429.1,1001.3 430.8,1001.3 432.6,1001.3 434.3,1001.3 436.1,1001.3 437.8,1001.3 439.6,1001.3 441.3,1001.3 443.1,1001.3 444.8,1001.3 446.6,1001.3 448.3,1001.3 450.1,1001.3 451.8,1001.3 453.6,1001.3 455.3,1001.3 457.1,1001.3 458.8,1001.3 460.6,1001.3 462.3,1001.3 464.1,1001.3 465.8,1001.3 467.6,1001.3 469.3,1001.3 471.1,1001.3 472.8,1001.3 474.6,1001.3 476.3,1001.3 478.1,1001.3 479.8,1001.3 481.6,1001.3 483.3,1001.3 485.1,1001.3 486.8,1001.3 488.6,1001.3 490.3,1001.3 492.1,1001.3 493.8,1001.3 495.6,1001.3 497.3,1001.3 499.1,1001.3 500.8,1001.3 502.6,1001.3 504.3,1001.3 506.1,1001.3 507.8,1001.3 509.6,1001.3 511.3,1001.3 513.1,1001.3 514.8,1001.3 516.6,1001.3 518.3,1001.3 520.1,1001.3 521.8,1001.3 523.6,1001.3 525.3,1001.4 527.1,1001.4 528.8,1001.4 530.6,1001.4 532.3,1001.4 534.1,1001.4 535.8,1001.4 537.6,1001.4 539.3,1001.4 541.1,1001.4 542.8,1001.4 544.6,1001.4 546.3,1001.4 548.1,1001.4 549.8,1001.4 551.6,1001.4 553.3,1001.4 555.1,1001.4 556.8,1001.4 558.6,1001.4 560.3,1001.4 562.1,1001.4 563.8,1001.4 565.6,1001.4 567.3,1001.4 569.1,1001.4 570.8,1001.4 572.6,1001.4 574.3,1001.4 576.1,1001.4 577.8,1001.4 579.6,1001.4 581.3,1001.4 583.1,1001.4 584.8,1001.4 586.6,1001.4 588.3,1001.4 590.1,1001.4 591.8,1001.4 593.6,1001.4 595.3,1001.4 597.1,1001.4 598.8,1001.4 600.6,1001.4 602.3,1001.4 604.1,1001.4 605.8,1001.4 607.6,1001.4 609.3,1001.4 611.1,1001.4 612.8,1001.4 614.6,1001.4 616.3,1001.4 618.1,1001.5 619.8,1001.5 621.6,1001.5 623.3,1001.5 625.1,1001.5 626.8,1001.5 628.6,1001.5 630.3,1001.5 632.1,1001.5 633.8,1001.5 635.6,1001.5 637.3,1001.5 639.1,1001.5 640.8,1001.5 642.6,1001.5 644.3,1001.5 646.1,1001.5 647.8,1001.6 649.6,1001.6 651.3,1001.6 653.1,1001.7 654.8,1001.7 656.6,1001.8 658.3,1001.8 660.1,1001.8 661.8,1001.9 663.6,1002.0 665.3,1002.0 667.1,1002.1 668.8,1002.1 670.6,1002.2 672.3,1002.2 674.1,1002.3 675.8,1002.4 677.6,1002.4 679.3,1002.5 681.1,1002.6 682.8,1002.6 684.6,1002.7 686.3,1002.7 688.1,1002.8 689.8,1002.9 691.6,1002.9 693.3,1003.0 695.1,1003.1 696.8,1003.2 698.6,1003.3 700.3,1003.4 702.1,1003.5 703.8,1003.6 705.5,1003.7 707.3,1003.9 709.0,1004.1 710.8,1004.3 712.5,1004.6 714.2,1004.8 716.0,1005.1 717.7,1005.4 719.4,1005.7 721.1,1006.1 722.8,1006.5 724.5,1007.0 726.2,1007.5 727.9,1007.9 729.6,1008.4 731.2,1008.9 732.9,1009.3 734.6,1009.8 736.3,1010.3 736.3,1014.2 734.6,1013.6 733.0,1013.0 731.3,1012.5 729.6,1012.0 727.9,1011.5 726.3,1011.0 724.6,1010.5 722.9,1010.1 721.1,1009.7 719.4,1009.3 717.7,1009.0 716.0,1008.8 714.2,1008.5 712.5,1008.3 710.7,1008.0 709.0,1007.8 707.2,1007.7 705.5,1007.5 703.7,1007.4 702.0,1007.3 700.2,1007.2 698.5,1007.2 696.7,1007.1 695.0,1007.0 693.2,1007.0 691.4,1006.9 689.7,1006.9 687.9,1006.8 686.2,1006.8 684.4,1006.7 682.7,1006.7 680.9,1006.7 679.1,1006.6 677.4,1006.6 675.6,1006.5 673.9,1006.5 672.1,1006.4 670.4,1006.4 668.6,1006.3 666.9,1006.3 665.1,1006.2 663.3,1006.2 661.6,1006.1 659.8,1006.1 658.1,1006.1 656.3,1006.0 654.6,1006.0 652.8,1006.0 651.0,1005.9 649.3,1005.9 647.5,1005.9 645.8,1005.8 644.0,1005.8 642.3,1005.8 640.5,1005.8 638.7,1005.8 637.0,1005.8 635.2,1005.8 633.5,1005.8 631.7,1005.8 630.0,1005.8 628.2,1005.7 626.4,1005.7 624.7,1005.7 622.9,1005.7 621.2,1005.7 619.4,1005.7 617.7,1005.7 615.9,1005.7 614.1,1005.7 612.4,1005.7 610.6,1005.7 608.9,1005.7 607.1,1005.7 605.4,1005.7 603.6,1005.7 601.9,1005.6 600.1,1005.6 598.3,1005.6 596.6,1005.6 594.8,1005.6 593.1,1005.6 591.3,1005.6 589.6,1005.6 587.8,1005.6 586.0,1005.6 584.3,1005.6 582.5,1005.6 580.8,1005.6 579.0,1005.6 577.3,1005.6 575.5,1005.6 573.7,1005.6 572.0,1005.6 570.2,1005.6 568.5,1005.6 566.7,1005.6 565.0,1005.6 563.2,1005.6 561.4,1005.5 559.7,1005.5 557.9,1005.5 556.2,1005.5 554.4,1005.5 552.7,1005.5 550.9,1005.5 549.1,1005.5 547.4,1005.5 545.6,1005.5 543.9,1005.5 542.1,1005.5 540.4,1005.5 538.6,1005.5 536.8,1005.5 535.1,1005.5 533.3,1005.5 531.6,1005.5 529.8,1005.5 528.1,1005.5 526.3,1005.5 524.5,1005.5 522.8,1005.5 521.0,1005.5 519.3,1005.5 517.5,1005.5 515.8,1005.5 514.0,1005.5 512.2,1005.5 510.5,1005.5 508.7,1005.5 507.0,1005.5 505.2,1005.5 503.5,1005.5 501.7,1005.5 499.9,1005.5 498.2,1005.5 496.4,1005.4 494.7,1005.4 492.9,1005.4 491.2,1005.4 489.4,1005.4 487.6,1005.4 485.9,1005.4 484.1,1005.4 482.4,1005.4 480.6,1005.4 478.9,1005.4 477.1,1005.4 475.3,1005.4 473.6,1005.4 471.8,1005.4 470.1,1005.4 468.3,1005.4 466.6,1005.4 464.8,1005.4 463.0,1005.4 461.3,1005.4 459.5,1005.4 457.8,1005.4 456.0,1005.4 454.3,1005.4 452.5,1005.4 450.7,1005.4 449.0,1005.4 447.2,1005.4 445.5,1005.4 443.7,1005.4 442.0,1005.4 440.2,1005.4 438.4,1005.4 436.7,1005.4 434.9,1005.4 433.2,1005.4 431.4,1005.4 429.7,1005.4 427.9,1005.4 426.1,1005.4 424.4,1005.4 422.6,1005.4 420.9,1005.4 419.1,1005.4 417.4,1005.4 415.6,1005.3 413.8,1005.3 412.1,1005.3 410.3,1005.3 408.6,1005.3 406.8,1005.3 405.1,1005.3 403.3,1005.3 401.6,1005.3 399.8,1005.3 398.0,1005.3 396.3,1005.3 394.5,1005.3 392.8,1005.3 391.0,1005.3 389.3,1005.3 387.5,1005.3 385.7,1005.3 384.0,1005.3 382.2,1005.3 380.5,1005.3 378.7,1005.3 377.0,1005.3 375.2,1005.3 373.4,1005.3 371.7,1005.3 369.9,1005.3 368.2,1005.3 366.4,1005.3 364.7,1005.3 362.9,1005.3 361.1,1005.3 359.4,1005.3 357.6,1005.3 355.9,1005.3 354.1,1005.3 352.4,1005.3 350.6,1005.3 348.8,1005.3 347.1,1005.3 345.3,1005.3 343.6,1005.3 341.8,1005.3 340.1,1005.3 338.3,1005.3 336.5,1005.3 334.8,1005.3 333.0,1005.3 331.3,1005.3 329.5,1005.3 327.8,1005.3 326.0,1005.3 324.2,1005.3 322.5,1005.3 320.7,1005.3 319.0,1005.3 317.2,1005.3 315.5,1005.3 313.7,1005.3 311.9,1005.2 310.2,1005.2 308.4,1005.2 306.7,1005.2 304.9,1005.2 303.2,1005.2 301.4,1005.2 299.6,1005.2 297.9,1005.2 296.1,1005.2 294.4,1005.2 292.6,1005.2 290.9,1005.2 289.1,1005.2 287.3,1005.2 285.6,1005.2 283.8,1005.2 282.1,1005.2 280.3,1005.2 278.6,1005.2 276.8,1005.2 275.0,1005.2 273.3,1005.2 271.5,1005.2 269.8,1005.2 268.0,1005.1 266.3,1005.1 264.5,1005.1 262.7,1005.1 261.0,1005.1 259.2,1005.1 257.5,1005.1 255.7,1005.1 254.0,1005.1 252.2,1005.1 250.4,1005.0 248.7,1005.0 246.9,1005.0 245.2,1005.0 243.4,1005.0 241.7,1005.0 239.9,1005.0 238.2,1004.9 236.4,1004.9 234.6,1004.9 232.9,1004.9 231.1,1004.8 229.4,1004.8 227.6,1004.7 225.9,1004.7 224.1,1004.6 222.3,1004.5 220.6,1004.4 218.8,1004.3 217.1,1004.2 215.3,1004.0 213.6,1003.8 211.8,1003.6 210.1,1003.4 208.4,1003.1 206.6,1002.8 204.9,1002.4 203.2,1002.1 201.5,1001.6 199.8,1001.2 198.1,1000.7 196.4,1000.2 194.8,999.6 193.1,998.9 191.5,998.2 190.0,997.3 188.5,996.3 187.2,995.3 185.9,994.0 184.7,992.7 183.6,991.4 182.6,989.9 181.7,988.4 180.8,986.9 180.0,985.3 179.3,983.7 178.5,982.1 177.8,980.5 177.2,978.9 176.6,977.2 176.0,975.6 175.4,973.9 174.9,972.2 174.3,970.6 173.8,968.9 173.2,967.2 172.6,965.6 172.1,963.9 171.6,962.2 171.1,960.5 170.7,958.8 170.3,957.1 169.9,955.4 169.5,953.7 169.1,952.0 168.8,950.2 168.4,948.5 168.1,946.8 167.8,945.1 167.5,943.3 167.3,941.6 167.1,939.8 166.9,938.1 166.6,936.4 166.4,934.6 166.2,932.9 166.0,931.1 165.7,929.4 165.4,927.7 165.1,925.9 164.8,924.2 164.5,922.5 164.2,920.7 163.9,919.0 163.6,917.3 163.3,915.5 163.0,913.8 162.7,912.1 162.4,910.3 162.1,908.6 161.8,906.9 161.6,905.1 161.3,903.4 161.0,901.7 160.8,899.9 160.5,898.2 160.3,896.4 160.1,894.7 159.8,893.0 159.6,891.2 159.4,889.5 159.1,887.7 158.9,886.0 158.7,884.2 158.5,882.5 158.4,880.8 158.2,879.0 158.1,877.3 157.9,875.5 157.8,873.8 157.6,872.0 157.5,870.3 157.4,868.5 157.3,866.7 157.1,865.0 157.0,863.2 156.9,861.5 156.8,859.7 156.7,858.0 156.6,856.2 156.4,854.5 156.3,852.7 156.2,851.0 156.0,849.2 155.9,847.5 155.7,845.7 155.6,844.0 155.4,842.2 155.3,840.5 155.1,838.7 155.0,837.0 154.8,835.2 154.6,833.5 154.5,831.7 154.3,830.0 154.2,828.2 154.0,826.5 153.8,824.7 153.7,823.0 153.5,821.2 153.4,819.5 153.2,817.7 153.0,816.0 152.9,814.2 152.7,812.5 152.5,810.7 152.4,809.0 152.2,807.2 152.1,805.5 151.9,803.7 151.8,802.0 151.6,800.2 151.5,798.5 151.3,796.7 151.2,795.0 151.1,793.2 150.9,791.5 150.8,789.7 150.7,788.0 150.5,786.2 150.4,784.5 150.3,782.7 150.2,780.9 150.0,779.2 149.9,777.4 149.8,775.7 149.7,773.9 149.6,772.2 149.4,770.4 149.3,768.7 149.2,766.9 149.1,765.2 148.9,763.4 148.8,761.7 148.7,759.9 148.6,758.2 148.4,756.4 148.3,754.7 148.2,752.9 148.0,751.2 147.9,749.4 147.8,747.6 147.6,745.9 147.5,744.1 147.3,742.4 147.2,740.6 147.1,738.9 146.9,737.1 146.8,735.4 146.7,733.6 146.6,731.9 146.4,730.1 146.3,728.4 146.2,726.6 146.1,724.9 146.0,723.1 146.0,721.4 145.9,719.6 145.8,717.8 145.7,716.1 145.7,714.3 145.6,712.6 145.6,710.8 145.5,709.1 145.4,707.3 145.4,705.6 145.3,703.8 145.3,702.0 145.2,700.3 145.2,698.5 145.1,696.8 145.1,695.0 145.0,693.3 145.0,691.5 144.9,689.7 144.9,688.0 144.9,686.2 144.8,684.5 144.8,682.7 144.7,681.0 144.7,679.2 144.7,677.4 144.6,675.7 144.6,673.9 144.5,672.2 144.5,670.4 144.5,668.7 144.4,666.9 144.4,665.2 144.4,663.4 144.3,661.6 144.3,659.9 144.3,658.1 144.2,656.4 144.2,654.6 144.1,652.9 144.1,651.1 144.1,649.3 144.0,647.6 144.0,645.8 144.0,644.1 143.9,642.3 143.9,640.6 143.9,638.8 143.9,637.0 143.8,635.3 143.8,633.5 143.8,631.8 143.8,630.0 143.8,628.3 143.7,626.5 143.7,624.7 143.7,623.0 143.7,621.2 143.7,619.5 143.7,617.7 143.7,616.0 143.7,614.2 143.7,612.4 143.7,610.7 143.7,608.9 143.7,607.2 143.7,605.4 143.7,603.7 143.7,601.9 143.7,600.1 143.7,598.4 143.6,596.6 143.6,594.9 143.6,593.1 143.6,591.4 143.6,589.6 143.6,587.9 143.6,586.1 143.6,584.3 143.6,582.6 143.6,580.8 143.6,579.1 143.6,577.3 143.6,575.6 143.6,573.8 143.6,572.0 143.6,570.3 143.6,568.5 143.6,566.8 143.6,565.0 143.6,563.3 143.6,561.5 143.6,559.7 143.6,558.0 143.6,556.2 143.6,554.5 143.6,552.7 143.6,551.0 143.6,549.2 143.6,547.4 143.6,545.7 143.6,543.9 143.6,542.2 143.6,540.4 143.6,538.7 143.6,536.9 143.6,535.1 143.6,533.4 143.6,531.6 143.5,529.9 143.5,528.1 143.5,526.4 143.5,524.6 143.5,522.8 143.5,521.1 143.5,519.3 143.5,517.6 143.5,515.8 143.5,514.1 143.5,512.3 143.5,510.5 143.5,508.8 143.5,507.0 143.5,505.3 143.5,503.5 143.5,501.8 143.5,500.0" fill="#e6e6e6" />
<polygon points="143.5,500.0 143.5,501.8 143.5,503.5 143.5,505.3 143.5,507.0 143.5,508.8 143.5,510.5 143.5,512.3 143.5,514.1 143.5,515.8 143.5,517.6 143.5,519.3 143.5,521.1 143.5,522.8 143.5,524.6 143.5,526.4 143.5,528.1 143.5,529.9 143.6,531.6 143.6,533.4 143.6,535.1 143.6,536.9 143.6,538.7 143.6,540.4 143.6,542.2 143.6,543.9 143.6,545.7 143.6,547.4 143.6,549.2 143.6,551.0 143.6,552.7 143.6,554.5 143.6,556.2 143.6,558.0 143.6,559.7 143.6,561.5 143.6,563.3 143.6,565.0 143.6,566.8 143.6,568.5 143.6,570.3 143.6,572.0 143.6,573.8 143.6,575.6 143.6,577.3 143.6,579.1 143.6,580.8 143.6,582.6 143.6,584.3 143.6,586.1 143.6,587.9 143.6,589.6 143.6,591.4 143.6,593.1 143.6,594.9 143.6,596.6 143.7,598.4 143.7,600.1 143.7,601.9 143.7,603.7 143.7,605.4 143.7,607.2 143.7,608.9 143.7,610.7 143.7,612.4 143.7,614.2 143.7,616.0 143.7,617.7 143.7,619.5 143.7,621.2 143.7,623.0 143.7,624.7 143.7,626.5 143.8,628.3 143.8,630.0 143.8,631.8 143.8,633.5 143.8,635.3 143.9,637.0 143.9,638.8 143.9,640.6 143.9,642.3 144.0,644.1 144.0,645.8 144.0,647.6 144.1,649.3 144.1,651.1 144.1,652.9 144.2,654.6 144.2,656.4 144.3,658.1 144.3,659.9 144.3,661.6 144.4,663.4 144.4,665.2 144.4,666.9 144.5,668.7 144.5,670.4 144.5,672.2 144.6,673.9 144.6,675.7 144.7,677.4 144.7,679.2 144.7,681.0 144.8,682.7 144.8,684.5 144.9,686.2 144.9,688.0 144.9,689.7 145.0,691.5 145.0,693.3 145.1,695.0 145.1,696.8 145.2,698.5 145.2,700.3 145.3,702.0 145.3,703.8 145.4,705.6 145.4,707.3 145.5,709.1 145.6,710.8 145.6,712.6 145.7,714.3 145.7,716.1 145.8,717.8 145.9,719.6 146.0,721.4 146.0,723.1 146.1,724.9 146.2,726.6 146.3,728.4 146.4,730.1 146.6,731.9 146.7,733.6 146.8,735.4 146.9,737.1 147.1,738.9 147.2,740.6 147.3,742.4 147.5,744.1 147.6,745.9 147.8,747.6 147.9,749.4 148.0,751.2 148.2,752.9 148.3,754.7 148.4,756.4 148.6,758.2 148.7,759.9 148.8,761.7 148.9,763.4 149.1,765.2 149.2,766.9 149.3,768.7 149.4,770.4 149.6,772.2 149.7,773.9 149.8,775.7 149.9,777.4 150.0,779.2 150.2,780.9 150.3,782.7 150.4,784.5 150.5,786.2 150.7,788.0 150.8,789.7 150.9,791.5 151.1,793.2 151.2,795.0 151.3,796.7 151.5,798.5 151.6,800.2 151.8,802.0 151.9,803.7 152.1,805.5 152.2,807.2 152.4,809.0 152.5,810.7 152.7,812.5 152.9,814.2 153.0,816.0 153.2,817.7 153.4,819.5 153.5,821.2 153.7,823.0 153.8,824.7 154.0,826.5 154.2,828.2 154.3,830.0 154.5,831.7 154.6,833.5 154.8,835.2 155.0,837.0 155.1,838.7 155.3,840.5 155.4,842.2 155.6,844.0 155.7,845.7 155.9,847.5 156.0,849.2 156.2,851.0 156.3,852.7 156.4,854.5 156.6,856.2 156.7,858.0 156.8,859.7 156.9,861.5 157.0,863.2 157.1,865.0 157.3,866.7 157.4,868.5 157.5,870.3 157.6,872.0 157.8,873.8 157.9,875.5 158.1,877.3 158.2,879.0 158.4,880.8 158.5,882.5 158.7,884.2 158.9,886.0 159.1,887.7 159.4,889.5 159.6,891.2 159.8,893.0 160.1,894.7 160.3,896.4 160.5,898.2 160.8,899.9 161.0,901.7 161.3,903.4 161.6,905.1 161.8,906.9 162.1,908.6 162.4,910.3 162.7,912.1 163.0,913.8 163.3,915.5 163.6,917.3 163.9,919.0 164.2,920.7 164.5,922.5 164.8,924.2 165.1,925.9 165.4,927.7 165.7,929.4 166.0,931.1 166.2,932.9 166.4,934.6 166.6,936.4 166.9,938.1 167.1,939.8 167.3,941.6 167.5,943.3 167.8,945.1 168.1,946.8 168.4,948.5 168.8,950.2 169.1,952.0 169.5,953.7 169.9,955.4 170.3,957.1 170.7,958.8 171.1,960.5 171.6,962.2 172.1,963.9 172.6,965.6 173.2,967.2 173.8,968.9 174.3,970.6 174.9,972.2 175.4,973.9 176.0,975.6 176.6,977.2 177.2,978.9 177.8,980.5 178.5,982.1 179.3,983.7 180.0,985.3 180.8,986.9 181.7,988.4 182.6,989.9 183.6,991.4 184.7,992.7 185.9,994.0 187.2,995.3 188.5,996.3 190.0,997.3 191.5,998.2 193.1,998.9 194.8,999.6 196.4,1000.2 198.1,1000.7 199.8,1001.2 201.5,1001.6 203.2,1002.1 204.9,1002.4 206.6,1002.8 208.4,1003.1 210.1,1003.4 211.8,1003.6 213.6,1003.8 215.3,1004.0 217.1,1004.2 218.8,1004.3 220.6,1004.4 222.3,1004.5 224.1,1004.6 225.9,1004.7 227.6,1004.7 229.4,1004.8 231.1,1004.8 232.9,1004.9 234.6,1004.9 236.4,1004.9 238.2,1004.9 239.9,1005.0 241.7,1005.0 243.4,1005.0 245.2,1005.0 246.9,1005.0 248.7,1005.0 250.4,1005.0 252.2,1005.1 254.0,1005.1 255.7,1005.1 257.5,1005.1 259.2,1005.1 261.0,1005.1 262.7,1005.1 264.5,1005.1 266.3,1005.1 268.0,1005.1 269.8,1005.2 271.5,1005.2 273.3,1005.2 275.0,1005.2 276.8,1005.2 278.6,1005.2 280.3,1005.2 282.1,1005.2 283.8,1005.2 285.6,1005.2 287.3,1005.2 289.1,1005.2 290.9,1005.2 292.6,1005.2 294.4,1005.2 296.1,1005.2 297.9,1005.2 299.6,1005.2 301.4,1005.2 303.2,1005.2 304.9,1005.2 306.7,1005.2 308.4,1005.2 310.2,1005.2 311.9,1005.2 313.7,1005.3 315.5,1005.3 317.2,1005.3 319.0,1005.3 320.7,1005.3 322.5,1005.3 324.2,1005.3 326.0,1005.3 327.8,1005.3 329.5,1005.3 331.3,1005.3 333.0,1005.3 334.8,1005.3 336.5,1005.3 338.3,1005.3 340.1,1005.3 341.8,1005.3 343.6,1005.3 345.3,1005.3 347.1,1005.3 348.8,1005.3 350.6,1005.3 352.4,1005.3 354.1,1005.3 355.9,1005.3 357.6,1005.3 359.4,1005.3 361.1,1005.3 362.9,1005.3 364.7,1005.3 366.4,1005.3 368.2,1005.3 369.9,1005.3 371.7,1005.3 373.4,1005.3 375.2,1005.3 377.0,1005.3 378.7,1005.3 380.5,1005.3 382.2,1005.3 384.0,1005.3 385.7,1005.3 387.5,1005.3 389.3,1005.3 391.0,1005.3 392.8,1005.3 394.5,1005.3 396.3,1005.3 398.0,1005.3 399.8,1005.3 401.6,1005.3 403.3,1005.3 405.1,1005.3 406.8,1005.3 408.6,1005.3 410.3,1005.3 412.1,1005.3 413.8,1005.3 415.6,1005.3 417.4,1005.4 419.1,1005.4 420.9,1005.4 422.6,1005.4 424.4,1005.4 426.1,1005.4 427.9,1005.4 429.7,1005.4 431.4,1005.4 433.2,1005.4 434.9,1005.4 436.7,1005.4 438.4,1005.4 440.2,1005.4 442.0,1005.4 443.7,1005.4 445.5,1005.4 447.2,1005.4 449.0,1005.4 450.7,1005.4 452.5,1005.4 454.3,1005.4 456.0,1005.4 457.8,1005.4 459.5,1005.4 461.3,1005.4 463.0,1005.4 464.8,1005.4 466.6,1005.4 468.3,1005.4 470.1,1005.4 471.8,1005.4 473.6,1005.4 475.3,1005.4 477.1,1005.4 478.9,1005.4 480.6,1005.4 482.4,1005.4 484.1,1005.4 485.9,1005.4 487.6,1005.4 489.4,1005.4 491.2,1005.4 492.9,1005.4 494.7,1005.4 496.4,1005.4 498.2,1005.5 499.9,1005.5 501.7,1005.5 503.5,1005.5 505.2,1005.5 507.0,1005.5 508.7,1005.5 510.5,1005.5 512.2,1005.5 514.0,1005.5 515.8,1005.5 517.5,1005.5 519.3,1005.5 521.0,1005.5 522.8,1005.5 524.5,1005.5 526.3,1005.5 528.1,1005.5 529.8,1005.5 531.6,1005.5 533.3,1005.5 535.1,1005.5 536.8,1005.5 538.6,1005.5 540.4,1005.5 542.1,1005.5 543.9,1005.5 545.6,1005.5 547.4,1005.5 549.1,1005.5 550.9,1005.5 552.7,1005.5 554.4,1005.5 556.2,1005.5 557.9,1005.5 559.7,1005.5 561.4,1005.5 563.2,1005.6 565.0,1005.6 566.7,1005.6 568.5,1005.6 570.2,1005.6 572.0,1005.6 573.7,1005.6 575.5,1005.6 577.3,1005.6 579.0,1005.6 580.8,1005.6 582.5,1005.6 584.3,1005.6 586.0,1005.6 587.8,1005.6 589.6,1005.6 591.3,1005.6 593.1,1005.6 594.8,1005.6 596.6,1005.6 598.3,1005.6 600.1,1005.6 601.9,1005.6 603.6,1005.7 605.4,1005.7 607.1,1005.7 608.9,1005.7 610.6,1005.7 612.4,1005.7 614.1,1005.7 615.9,1005.7 617.7,1005.7 619.4,1005.7 621.2,1005.7 622.9,1005.7 624.7,1005.7 626.4,1005.7 628.2,1005.7 630.0,1005.8 631.7,1005.8 633.5,1005.8 635.2,1005.8 637.0,1005.8 638.7,1005.8 640.5,1005.8 642.3,1005.8 644.0,1005.8 645.8,1005.8 647.5,1005.9 649.3,1005.9 651.0,1005.9 652.8,1006.0 654.6,1006.0 656.3,1006.0 658.1,1006.1 659.8,1006.1 661.6,1006.1 663.3,1006.2 665.1,1006.2 666.9,1006.3 668.6,1006.3 670.4,1006.4 672.1,1006.4 673.9,1006.5 675.6,1006.5 677.4,1006.6 679.1,1006.6 680.9,1006.7 682.7,1006.7 684.4,1006.7 686.2,1006.8 687.9,1006.8 689.7,1006.9 691.4,1006.9 693.2,1007.0 695.0,1007.0 696.7,1007.1 698.5,1007.2 700.2,1007.2 702.0,1007.3 703.7,1007.4 705.5,1007.5 707.2,1007.7 709.0,1007.8 710.7,1008.0 712.5,1008.3 714.2,1008.5 716.0,1008.8 717.7,1009.0 719.4,1009.3 721.1,1009.7 722.9,1010.1 724.6,1010.5 726.3,1011.0 727.9,1011.5 729.6,1012.0 731.3,1012.5 733.0,1013.0 734.6,1013.6 736.3,1014.2 736.3,1186.9 735.0,1186.1 733.7,1185.3 732.4,1184.5 731.1,1183.7 729.7,1182.9 728.4,1182.1 727.1,1181.4 725.7,1180.6 724.4,1179.9 723.1,1179.2 721.7,1178.5 720.3,1177.8 719.0,1177.1 717.6,1176.4 716.2,1175.8 714.8,1175.1 713.4,1174.5 712.0,1173.8 710.6,1173.2 709.2,1172.6 707.8,1172.0 706.4,1171.4 705.0,1170.8 703.6,1170.2 702.2,1169.6 700.7,1169.0 699.3,1168.4 697.9,1167.9 696.5,1167.3 695.0,1166.7 693.6,1166.2 692.2,1165.6 690.7,1165.1 689.3,1164.6 687.9,1164.0 686.4,1163.5 685.0,1162.9 683.6,1162.4 682.1,1161.9 680.7,1161.4 679.2,1160.8 677.8,1160.3 676.4,1159.8 674.9,1159.2 673.5,1158.7 672.0,1158.2 670.6,1157.7 669.2,1157.1 667.7,1156.6 666.3,1156.1 664.8,1155.6 663.4,1155.1 661.9,1154.6 660.5,1154.1 659.0,1153.6 657.6,1153.0 656.1,1152.5 654.7,1152.0 653.3,1151.5 651.8,1151.0 650.4,1150.5 648.9,1150.0 647.5,1149.5 646.0,1149.0 644.6,1148.5 643.1,1148.0 641.7,1147.4 640.2,1146.9 638.8,1146.4 637.3,1145.9 635.9,1145.4 634.4,1144.9 633.0,1144.4 631.5,1143.9 630.1,1143.4 628.6,1142.9 627.2,1142.4 625.8,1141.9 624.3,1141.4 622.9,1140.9 621.4,1140.4 620.0,1139.9 618.5,1139.4 617.1,1138.9 615.6,1138.4 614.2,1137.9 612.7,1137.3 611.3,1136.8 609.8,1136.3 608.4,1135.8 606.9,1135.3 605.5,1134.8 604.1,1134.3 602.6,1133.8 601.2,1133.3 599.7,1132.8 598.3,1132.2 596.8,1131.7 595.4,1131.2 593.9,1130.7 592.5,1130.2 591.0,1129.7 589.6,1129.2 588.1,1128.7 586.7,1128.2 585.2,1127.7 583.8,1127.2 582.3,1126.7 580.9,1126.2 579.4,1125.8 578.0,1125.3 576.5,1124.8 575.1,1124.3 573.6,1123.8 572.2,1123.3 570.7,1122.8 569.3,1122.3 567.8,1121.8 566.4,1121.3 564.9,1120.8 563.5,1120.3 562.0,1119.8 560.6,1119.3 559.1,1118.8 557.7,1118.3 556.2,1117.7 554.8,1117.2 553.4,1116.7 551.9,1116.2 550.5,1115.6 549.0,1115.1 547.6,1114.6 546.2,1114.0 544.7,1113.5 543.3,1113.0 541.9,1112.4 540.4,1111.9 539.0,1111.4 537.5,1110.8 536.1,1110.3 534.7,1109.8 533.2,1109.2 531.8,1108.7 530.3,1108.2 528.9,1107.7 527.5,1107.2 526.0,1106.6 524.6,1106.1 523.1,1105.6 521.7,1105.1 520.2,1104.6 518.8,1104.1 517.3,1103.6 515.9,1103.1 514.4,1102.6 513.0,1102.0 511.6,1101.5 510.1,1101.0 508.7,1100.5 507.2,1100.0 505.8,1099.5 504.3,1099.0 502.9,1098.5 501.4,1098.0 500.0,1097.5 498.5,1097.0 497.1,1096.5 495.6,1096.0 494.2,1095.5 492.7,1094.9 491.3,1094.4 489.8,1093.9 488.4,1093.4 487.0,1092.9 485.5,1092.4 484.1,1091.9 482.6,1091.4 481.2,1090.9 479.7,1090.4 478.3,1089.9 476.8,1089.4 475.4,1088.9 473.9,1088.4 472.5,1087.9 471.0,1087.4 469.6,1086.9 468.1,1086.4 466.6,1085.9 465.2,1085.5 463.7,1085.0 462.3,1084.5 460.8,1084.0 459.4,1083.6 457.9,1083.1 456.4,1082.6 455.0,1082.1 453.5,1081.7 452.1,1081.2 450.6,1080.7 449.1,1080.3 447.7,1079.8 446.2,1079.3 444.8,1078.9 443.3,1078.4 441.8,1078.0 440.4,1077.5 438.9,1077.1 437.4,1076.6 436.0,1076.2 434.5,1075.7 433.0,1075.3 431.6,1074.8 430.1,1074.4 428.6,1074.0 427.2,1073.5 425.7,1073.1 424.2,1072.7 422.7,1072.2 421.3,1071.8 419.8,1071.3 418.3,1070.9 416.9,1070.5 415.4,1070.0 413.9,1069.6 412.5,1069.1 411.0,1068.7 409.5,1068.2 408.1,1067.8 406.6,1067.3 405.2,1066.8 403.7,1066.3 402.2,1065.9 400.8,1065.4 399.3,1064.9 397.9,1064.4 396.4,1063.9 395.0,1063.4 393.5,1063.0 392.1,1062.5 390.6,1062.0 389.1,1061.5 387.7,1061.1 386.2,1060.6 384.8,1060.1 383.3,1059.7 381.8,1059.2 380.4,1058.8 378.9,1058.4 377.4,1058.0 375.9,1057.6 374.4,1057.2 373.0,1056.8 371.5,1056.4 370.0,1056.0 368.5,1055.6 367.0,1055.2 365.5,1054.8 364.1,1054.5 362.6,1054.1 361.1,1053.7 359.6,1053.3 358.1,1052.9 356.7,1052.4 355.2,1052.0 353.7,1051.6 352.2,1051.2 350.8,1050.8 349.3,1050.4 347.8,1049.9 346.3,1049.5 344.9,1049.1 343.4,1048.7 341.9,1048.2 340.4,1047.8 339.0,1047.4 337.5,1046.9 336.0,1046.5 334.6,1046.0 333.1,1045.5 331.6,1045.0 330.2,1044.6 328.7,1044.1 327.2,1043.7 325.8,1043.2 324.3,1042.8 322.8,1042.4 321.3,1042.1 319.8,1041.8 318.3,1041.5 316.8,1041.2 315.3,1041.0 313.8,1040.8 312.3,1040.5 310.8,1040.3 309.2,1040.1 307.7,1039.9 306.2,1039.6 304.7,1039.3 303.2,1039.0 301.7,1038.8 300.2,1038.5 298.7,1038.2 297.2,1037.9 295.7,1037.6 294.2,1037.2 292.7,1036.9 291.2,1036.6 289.7,1036.3 288.2,1036.0 286.7,1035.6 285.2,1035.3 283.7,1034.9 282.2,1034.5 280.7,1034.1 279.2,1033.8 277.7,1033.4 276.2,1033.1 274.7,1032.9 273.2,1032.6 271.7,1032.5 270.2,1032.3 268.6,1032.2 267.1,1032.0 265.6,1031.9 264.0,1031.8 262.5,1031.7 261.0,1031.7 259.4,1031.7 257.9,1031.7 256.4,1031.7 254.8,1031.7 253.3,1031.7 251.8,1031.7 250.2,1031.7 248.7,1031.7 247.2,1031.7 245.6,1031.7 244.1,1031.7 242.6,1031.7 241.0,1031.7 239.5,1031.7 238.0,1031.7 236.4,1031.7 234.9,1031.7 233.4,1031.7 231.8,1031.7 230.3,1031.7 228.8,1031.7 227.2,1031.7 225.7,1031.7 224.2,1031.7 222.6,1031.7 221.1,1031.7 219.6,1031.6 218.0,1031.6 216.5,1031.6 215.0,1031.6 213.4,1031.6 211.9,1031.5 210.4,1031.5 208.8,1031.4 207.3,1031.4 205.8,1031.3 204.3,1031.2 202.7,1030.9 201.2,1030.6 199.7,1030.3 198.3,1029.9 196.8,1029.4 195.4,1028.9 193.9,1028.3 192.5,1027.7 191.1,1027.1 189.7,1026.4 188.3,1025.7 187.0,1024.9 185.8,1024.1 184.6,1023.2 183.4,1022.1 182.2,1021.1 181.2,1019.9 180.2,1018.8 179.3,1017.6 178.4,1016.4 177.6,1015.1 176.8,1013.7 176.0,1012.4 175.3,1011.0 174.6,1009.6 174.0,1008.3 173.3,1006.9 172.7,1005.4 172.1,1004.0 171.6,1002.6 171.1,1001.1 170.6,999.7 170.2,998.2 169.7,996.8 169.3,995.3 168.9,993.8 168.5,992.3 168.1,990.8 167.7,989.3 167.4,987.8 167.1,986.3 166.8,984.8 166.5,983.3 166.2,981.8 166.0,980.3 165.7,978.8 165.5,977.3 165.3,975.8 165.1,974.2 164.9,972.7 164.7,971.2 164.5,969.7 164.3,968.2 164.0,966.6 163.8,965.1 163.6,963.6 163.4,962.1 163.1,960.6 162.9,959.1 162.6,957.5 162.4,956.0 162.1,954.5 161.9,953.0 161.7,951.5 161.4,950.0 161.2,948.5 161.0,946.9 160.8,945.4 160.5,943.9 160.3,942.4 160.1,940.9 159.9,939.4 159.7,937.8 159.5,936.3 159.3,934.8 159.1,933.3 158.9,931.7 158.7,930.2 158.6,928.7 158.4,927.2 158.3,925.7 158.1,924.1 158.0,922.6 157.8,921.1 157.7,919.5 157.6,918.0 157.4,916.5 157.3,915.0 157.2,913.4 157.1,911.9 156.9,910.4 156.8,908.8 156.7,907.3 156.6,905.8 156.4,904.3 156.3,902.7 156.2,901.2 156.1,899.7 155.9,898.1 155.8,896.6 155.7,895.1 155.6,893.6 155.4,892.0 155.3,890.5 155.2,889.0 155.0,887.5 154.9,885.9 154.8,884.4 154.7,882.9 154.6,881.3 154.5,879.8 154.4,878.3 154.3,876.7 154.2,875.2 154.1,873.7 154.0,872.2 154.0,870.6 153.9,869.1 153.8,867.6 153.7,866.0 153.7,864.5 153.6,863.0 153.5,861.4 153.4,859.9 153.4,858.4 153.3,856.8 153.2,855.3 153.1,853.8 153.0,852.2 152.9,850.7 152.9,849.2 152.8,847.7 152.7,846.1 152.6,844.6 152.5,843.1 152.4,841.5 152.3,840.0 152.2,838.5 152.0,836.9 151.9,835.4 151.8,833.9 151.7,832.4 151.6,830.8 151.5,829.3 151.4,827.8 151.3,826.2 151.2,824.7 151.1,823.2 151.0,821.6 150.9,820.1 150.8,818.6 150.7,817.1 150.6,815.5 150.5,814.0 150.4,812.5 150.3,810.9 150.3,809.4 150.2,807.9 150.1,806.3 150.0,804.8 149.9,803.3 149.8,801.8 149.7,800.2 149.6,798.7 149.5,797.2 149.4,795.6 149.4,794.1 149.3,792.6 149.2,791.0 149.1,789.5 149.0,788.0 148.9,786.4 148.8,784.9 148.7,783.4 148.6,781.9 148.5,780.3 148.4,778.8 148.4,777.3 148.3,775.7 148.2,774.2 148.1,772.7 148.0,771.1 147.9,769.6 147.8,768.1 147.7,766.5 147.7,765.0 147.6,763.5 147.5,762.0 147.4,760.4 147.3,758.9 147.3,757.4 147.2,755.8 147.1,754.3 147.0,752.8 147.0,751.2 146.9,749.7 146.8,748.2 146.8,746.6 146.7,745.1 146.6,743.6 146.6,742.0 146.5,740.5 146.4,739.0 146.4,737.4 146.3,735.9 146.2,734.4 146.1,732.8 146.1,731.3 146.0,729.8 145.9,728.3 145.9,726.7 145.8,725.2 145.7,723.7 145.6,722.1 145.5,720.6 145.4,719.1 145.4,717.5 145.3,716.0 145.2,714.5 145.1,712.9 145.0,711.4 144.9,709.9 144.8,708.4 144.7,706.8 144.6,705.3 144.5,703.8 144.4,702.2 144.3,700.7 144.2,699.2 144.1,697.6 144.0,696.1 143.8,694.6 143.7,693.1 143.6,691.5 143.5,690.0" fill="#a6a6a6" />
<polygon points="143.5,690.0 143.6,691.5 143.7,693.1 143.8,694.6 144.0,696.1 144.1,697.6 144.2,699.2 144.3,700.7 144.4,702.2 144.5,703.8 144.6,705.3 144.7,706.8 144.8,708.4 144.9,709.9 145.0,711.4 145.1,712.9 145.2,714.5 145.3,716.0 145.4,717.5 145.4,719.1 145.5,720.6 145.6,722.1 145.7,723.7 145.8,725.2 145.9,726.7 145.9,728.3 146.0,729.8 146.1,731.3 146.1,732.8 146.2,734.4 146.3,735.9 146.4,737.4 146.4,739.0 146.5,740.5 146.6,742.0 146.6,743.6 146.7,745.1 146.8,746.6 146.8,748.2 146.9,749.7 147.0,751.2 147.0,752.8 147.1,754.3 147.2,755.8 147.3,757.4 147.3,758.9 147.4,760.4 147.5,762.0 147.6,763.5 147.7,765.0 147.7,766.5 147.8,768.1 147.9,769.6 148.0,771.1 148.1,772.7 148.2,774.2 148.3,775.7 148.4,777.3 148.4,778.8 148.5,780.3 148.6,781.9 148.7,783.4 148.8,784.9 148.9,786.4 149.0,788.0 149.1,789.5 149.2,791.0 149.3,792.6 149.4,794.1 149.4,795.6 149.5,797.2 149.6,798.7 149.7,800.2 149.8,801.8 149.9,803.3 150.0,804.8 150.1,806.3 150.2,807.9 150.3,809.4 150.3,810.9 150.4,812.5 150.5,814.0 150.6,815.5 150.7,817.1 150.8,818.6 150.9,820.1 151.0,821.6 151.1,823.2 151.2,824.7 151.3,826.2 151.4,827.8 151.5,829.3 151.6,830.8 151.7,832.4 151.8,833.9 151.9,835.4 152.0,836.9 152.2,838.5 152.3,840.0 152.4,841.5 152.5,843.1 152.6,844.6 152.7,846.1 152.8,847.7 152.9,849.2 152.9,850.7 153.0,852.2 153.1,853.8 153.2,855.3 153.3,856.8 153.4,858.4 153.4,859.9 153.5,861.4 153.6,863.0 153.7,864.5 153.7,866.0 153.8,867.6 153.9,869.1 154.0,870.6 154.0,872.2 154.1,873.7 154.2,875.2 154.3,876.7 154.4,878.3 154.5,879.8 154.6,881.3 154.7,882.9 154.8,884.4 154.9,885.9 155.0,887.5 155.2,889.0 155.3,890.5 155.4,892.0 155.6,893.6 155.7,895.1 155.8,896.6 155.9,898.1 156.1,899.7 156.2,901.2 156.3,902.7 156.4,904.3 156.6,905.8 156.7,907.3 156.8,908.8 156.9,910.4 157.1,911.9 157.2,913.4 157.3,915.0 157.4,916.5 157.6,918.0 157.7,919.5 157.8,921.1 158.0,922.6 158.1,924.1 158.3,925.7 158.4,927.2 158.6,928.7 158.7,930.2 158.9,931.7 159.1,933.3 159.3,934.8 159.5,936.3 159.7,937.8 159.9,939.4 160.1,940.9 160.3,942.4 160.5,943.9 160.8,945.4 161.0,946.9 161.2,948.5 161.4,950.0 161.7,951.5 161.9,953.0 162.1,954.5 162.4,956.0 162.6,957.5 162.9,959.1 163.1,960.6 163.4,962.1 163.6,963.6 163.8,965.1 164.0,966.6 164.3,968.2 164.5,969.7 164.7,971.2 164.9,972.7 165.1,974.2 165.3,975.8 165.5,977.3 165.7,978.8 166.0,980.3 166.2,981.8 166.5,983.3 166.8,984.8 167.1,986.3 167.4,987.8 167.7,989.3 168.1,990.8 168.5,992.3 168.9,993.8 169.3,995.3 169.7,996.8 170.2,998.2 170.6,999.7 171.1,1001.1 171.6,1002.6 172.1,1004.0 172.7,1005.4 173.3,1006.9 174.0,1008.3 174.6,1009.6 175.3,1011.0 176.0,1012.4 176.8,1013.7 177.6,1015.1 178.4,1016.4 179.3,1017.6 180.2,1018.8 181.2,1019.9 182.2,1021.1 183.4,1022.1 184.6,1023.2 185.8,1024.1 187.0,1024.9 188.3,1025.7 189.7,1026.4 191.1,1027.1 192.5,1027.7 193.9,1028.3 195.4,1028.9 196.8,1029.4 198.3,1029.9 199.7,1030.3 201.2,1030.6 202.7,1030.9 204.3,1031.2 205.8,1031.3 207.3,1031.4 208.8,1031.4 210.4,1031.5 211.9,1031.5 213.4,1031.6 215.0,1031.6 216.5,1031.6 218.0,1031.6 219.6,1031.6 221.1,1031.7 222.6,1031.7 224.2,1031.7 225.7,1031.7 227.2,1031.7 228.8,1031.7 230.3,1031.7 231.8,1031.7 233.4,1031.7 234.9,1031.7 236.4,1031.7 238.0,1031.7 239.5,1031.7 241.0,1031.7 242.6,1031.7 244.1,1031.7 245.6,1031.7 247.2,1031.7 248.7,1031.7 250.2,1031.7 251.8,1031.7 253.3,1031.7 254.8,1031.7 256.4,1031.7 257.9,1031.7 259.4,1031.7 261.0,1031.7 262.5,1031.7 264.0,1031.8 265.6,1031.9 267.1,1032.0 268.6,1032.2 270.2,1032.3 271.7,1032.5 273.2,1032.6 274.7,1032.9 276.2,1033.1 277.7,1033.4 279.2,1033.8 280.7,1034.1 282.2,1034.5 283.7,1034.9 285.2,1035.3 286.7,1035.6 288.2,1036.0 289.7,1036.3 291.2,1036.6 292.7,1036.9 294.2,1037.2 295.7,1037.6 297.2,1037.9 298.7,1038.2 300.2,1038.5 301.7,1038.8 303.2,1039.0 304.7,1039.3 306.2,1039.6 307.7,1039.9 309.2,1040.1 310.8,1040.3 312.3,1040.5 313.8,1040.8 315.3,1041.0 316.8,1041.2 318.3,1041.5 319.8,1041.8 321.3,1042.1 322.8,1042.4 324.3,1042.8 325.8,1043.2 327.2,1043.7 328.7,1044.1 330.2,1044.6 331.6,1045.0 333.1,1045.5 334.6,1046.0 336.0,1046.5 337.5,1046.9 339.0,1047.4 340.4,1047.8 341.9,1048.2 343.4,1048.7 344.9,1049.1 346.3,1049.5 347.8,1049.9 349.3,1050.4 350.8,1050.8 352.2,1051.2 353.7,1051.6 355.2,1052.0 356.7,1052.4 358.1,1052.9 359.6,1053.3 361.1,1053.7 362.6,1054.1 364.1,1054.5 365.5,1054.8 367.0,1055.2 368.5,1055.6 370.0,1056.0 371.5,1056.4 373.0,1056.8 374.4,1057.2 375.9,1057.6 377.4,1058.0 378.9,1058.4 380.4,1058.8 381.8,1059.2 383.3,1059.7 384.8,1060.1 386.2,1060.6 387.7,1061.1 389.1,1061.5 390.6,1062.0 392.1,1062.5 393.5,1063.0 395.0,1063.4 396.4,1063.9 397.9,1064.4 399.3,1064.9 400.8,1065.4 402.2,1065.9 403.7,1066.3 405.2,1066.8 406.6,1067.3 408.1,1067.8 409.5,1068.2 411.0,1068.7 412.5,1069.1 413.9,1069.6 415.4,1070.0 416.9,1070.5 418.3,1070.9 419.8,1071.3 421.3,1071.8 422.7,1072.2 424.2,1072.7 425.7,1073.1 427.2,1073.5 428.6,1074.0 430.1,1074.4 431.6,1074.8 433.0,1075.3 434.5,1075.7 436.0,1076.2 437.4,1076.6 438.9,1077.1 440.4,1077.5 441.8,1078.0 443.3,1078.4 444.8,1078.9 446.2,1079.3 447.7,1079.8 449.1,1080.3 450.6,1080.7 452.1,1081.2 453.5,1081.7 455.0,1082.1 456.4,1082.6 457.9,1083.1 459.4,1083.6 460.8,1084.0 462.3,1084.5 463.7,1085.0 465.2,1085.5 466.6,1085.9 468.1,1086.4 469.6,1086.9 471.0,1087.4 472.5,1087.9 473.9,1088.4 475.4,1088.9 476.8,1089.4 478.3,1089.9 479.7,1090.4 481.2,1090.9 482.6,1091.4 484.1,1091.9 485.5,1092.4 487.0,1092.9 488.4,1093.4 489.8,1093.9 491.3,1094.4 492.7,1094.9 494.2,1095.5 495.6,1096.0 497.1,1096.5 498.5,1097.0 500.0,1097.5 501.4,1098.0 502.9,1098.5 504.3,1099.0 505.8,1099.5 507.2,1100.0 508.7,1100.5 510.1,1101.0 511.6,1101.5 513.0,1102.0 514.4,1102.6 515.9,1103.1 517.3,1103.6 518.8,1104.1 520.2,1104.6 521.7,1105.1 523.1,1105.6 524.6,1106.1 526.0,1106.6 527.5,1107.2 528.9,1107.7 530.3,1108.2 531.8,1108.7 533.2,1109.2 534.7,1109.8 536.1,1110.3 537.5,1110.8 539.0,1111.4 540.4,1111.9 541.9,1112.4 543.3,1113.0 544.7,1113.5 546.2,1114.0 547.6,1114.6 549.0,1115.1 550.5,1115.6 551.9,1116.2 553.4,1116.7 554.8,1117.2 556.2,1117.7 557.7,1118.3 559.1,1118.8 560.6,1119.3 562.0,1119.8 563.5,1120.3 564.9,1120.8 566.4,1121.3 567.8,1121.8 569.3,1122.3 570.7,1122.8 572.2,1123.3 573.6,1123.8 575.1,1124.3 576.5,1124.8 578.0,1125.3 579.4,1125.8 580.9,1126.2 582.3,1126.7 583.8,1127.2 585.2,1127.7 586.7,1128.2 588.1,1128.7 589.6,1129.2 591.0,1129.7 592.5,1130.2 593.9,1130.7 595.4,1131.2 596.8,1131.7 598.3,1132.2 599.7,1132.8 601.2,1133.3 602.6,1133.8 604.1,1134.3 605.5,1134.8 606.9,1135.3 608.4,1135.8 609.8,1136.3 611.3,1136.8 612.7,1137.3 614.2,1137.9 615.6,1138.4 617.1,1138.9 618.5,1139.4 620.0,1139.9 621.4,1140.4 622.9,1140.9 624.3,1141.4 625.8,1141.9 627.2,1142.4 628.6,1142.9 630.1,1143.4 631.5,1143.9 633.0,1144.4 634.4,1144.9 635.9,1145.4 637.3,1145.9 638.8,1146.4 640.2,1146.9 641.7,1147.4 643.1,1148.0 644.6,1148.5 646.0,1149.0 647.5,1149.5 648.9,1150.0 650.4,1150.5 651.8,1151.0 653.3,1151.5 654.7,1152.0 656.1,1152.5 657.6,1153.0 659.0,1153.6 660.5,1154.1 661.9,1154.6 663.4,1155.1 664.8,1155.6 666.3,1156.1 667.7,1156.6 669.2,1157.1 670.6,1157.7 672.0,1158.2 673.5,1158.7 674.9,1159.2 676.4,1159.8 677.8,1160.3 679.2,1160.8 680.7,1161.4 682.1,1161.9 683.6,1162.4 685.0,1162.9 686.4,1163.5 687.9,1164.0 689.3,1164.6 690.7,1165.1 692.2,1165.6 693.6,1166.2 695.0,1166.7 696.5,1167.3 697.9,1167.9 699.3,1168.4 700.7,1169.0 702.2,1169.6 703.6,1170.2 705.0,1170.8 706.4,1171.4 707.8,1172.0 709.2,1172.6 710.6,1173.2 712.0,1173.8 713.4,1174.5 714.8,1175.1 716.2,1175.8 717.6,1176.4 719.0,1177.1 720.3,1177.8 721.7,1178.5 723.1,1179.2 724.4,1179.9 725.7,1180.6 727.1,1181.4 728.4,1182.1 729.7,1182.9 731.1,1183.7 732.4,1184.5 733.7,1185.3 735.0,1186.1 736.3,1186.9 736.3,1214.5 735.0,1213.6 733.8,1212.7 732.5,1211.8 731.2,1210.8 730.0,1209.9 728.7,1209.0 727.4,1208.1 726.1,1207.3 724.8,1206.4 723.5,1205.5 722.2,1204.7 720.9,1203.8 719.5,1203.0 718.2,1202.1 716.9,1201.3 715.6,1200.5 714.2,1199.6 712.9,1198.8 711.5,1198.0 710.2,1197.2 708.8,1196.4 707.5,1195.6 706.1,1194.9 704.7,1194.1 703.3,1193.4 701.9,1192.7 700.5,1192.0 699.1,1191.3 697.7,1190.6 696.3,1190.0 694.9,1189.3 693.5,1188.7 692.0,1188.0 690.6,1187.4 689.2,1186.8 687.7,1186.1 686.3,1185.5 684.8,1184.9 683.4,1184.3 681.9,1183.7 680.5,1183.1 679.1,1182.4 677.6,1181.8 676.2,1181.2 674.7,1180.6 673.3,1180.0 671.8,1179.4 670.4,1178.8 668.9,1178.2 667.5,1177.6 666.0,1177.1 664.6,1176.5 663.1,1175.9 661.7,1175.3 660.2,1174.7 658.7,1174.2 657.3,1173.6 655.8,1173.0 654.4,1172.4 652.9,1171.9 651.4,1171.3 650.0,1170.7 648.5,1170.1 647.1,1169.6 645.6,1169.0 644.1,1168.4 642.7,1167.9 641.2,1167.3 639.8,1166.7 638.3,1166.2 636.8,1165.6 635.4,1165.0 633.9,1164.5 632.4,1163.9 631.0,1163.4 629.5,1162.8 628.0,1162.3 626.6,1161.7 625.1,1161.2 623.6,1160.6 622.2,1160.1 620.7,1159.5 619.2,1159.0 617.8,1158.4 616.3,1157.9 614.8,1157.4 613.3,1156.8 611.9,1156.3 610.4,1155.8 608.9,1155.2 607.4,1154.7 606.0,1154.2 604.5,1153.7 603.0,1153.1 601.5,1152.6 600.1,1152.1 598.6,1151.6 597.1,1151.0 595.6,1150.5 594.2,1150.0 592.7,1149.4 591.2,1148.9 589.8,1148.3 588.3,1147.8 586.8,1147.2 585.4,1146.6 583.9,1146.1 582.4,1145.5 581.0,1144.9 579.5,1144.3 578.1,1143.8 576.6,1143.2 575.1,1142.7 573.7,1142.1 572.2,1141.5 570.8,1141.0 569.3,1140.4 567.8,1139.9 566.4,1139.3 564.9,1138.7 563.4,1138.2 562.0,1137.7 560.5,1137.1 559.0,1136.6 557.5,1136.1 556.0,1135.6 554.6,1135.0 553.1,1134.5 551.6,1134.0 550.1,1133.5 548.6,1133.0 547.1,1132.5 545.7,1132.0 544.2,1131.5 542.7,1131.0 541.2,1130.5 539.7,1130.0 538.2,1129.5 536.7,1129.0 535.3,1128.5 533.8,1128.0 532.3,1127.5 530.8,1127.0 529.3,1126.5 527.9,1126.0 526.4,1125.4 524.9,1124.9 523.4,1124.4 522.0,1123.8 520.5,1123.3 519.0,1122.8 517.5,1122.2 516.1,1121.7 514.6,1121.2 513.1,1120.7 511.6,1120.1 510.1,1119.6 508.7,1119.1 507.2,1118.6 505.7,1118.1 504.2,1117.5 502.8,1117.0 501.3,1116.5 499.8,1116.0 498.3,1115.5 496.8,1114.9 495.4,1114.4 493.9,1113.9 492.4,1113.4 490.9,1112.9 489.4,1112.3 488.0,1111.8 486.5,1111.3 485.0,1110.8 483.5,1110.3 482.1,1109.7 480.6,1109.2 479.1,1108.7 477.6,1108.2 476.2,1107.6 474.7,1107.1 473.2,1106.6 471.7,1106.0 470.3,1105.5 468.8,1105.0 467.3,1104.5 465.8,1103.9 464.3,1103.4 462.9,1102.9 461.4,1102.4 459.9,1101.9 458.4,1101.4 456.9,1100.9 455.4,1100.4 454.0,1099.9 452.5,1099.4 451.0,1098.8 449.5,1098.3 448.0,1097.8 446.5,1097.3 445.1,1096.8 443.6,1096.3 442.1,1095.8 440.6,1095.3 439.1,1094.9 437.6,1094.4 436.1,1093.9 434.6,1093.4 433.2,1092.9 431.7,1092.4 430.2,1091.9 428.7,1091.4 427.2,1091.0 425.7,1090.5 424.2,1090.0 422.7,1089.5 421.2,1089.0 419.7,1088.6 418.2,1088.1 416.7,1087.6 415.3,1087.1 413.8,1086.6 412.3,1086.2 410.8,1085.7 409.3,1085.2 407.8,1084.7 406.3,1084.2 404.8,1083.7 403.3,1083.2 401.9,1082.7 400.4,1082.2 398.9,1081.7 397.4,1081.3 395.9,1080.8 394.4,1080.3 392.9,1079.8 391.4,1079.3 389.9,1078.8 388.4,1078.4 386.9,1077.9 385.5,1077.4 384.0,1076.9 382.5,1076.4 381.0,1076.0 379.5,1075.5 378.0,1075.0 376.5,1074.5 375.0,1074.1 373.5,1073.6 372.0,1073.1 370.5,1072.7 369.0,1072.2 367.5,1071.7 366.0,1071.2 364.5,1070.8 363.0,1070.3 361.6,1069.8 360.1,1069.3 358.6,1068.8 357.1,1068.3 355.6,1067.8 354.1,1067.4 352.6,1066.9 351.1,1066.5 349.6,1066.1 348.1,1065.7 346.5,1065.4 345.0,1065.0 343.5,1064.6 342.0,1064.3 340.4,1064.0 338.9,1063.6 337.4,1063.3 335.8,1063.0 334.3,1062.6 332.8,1062.3 331.2,1062.0 329.7,1061.7 328.2,1061.4 326.6,1061.1 325.1,1060.8 323.5,1060.5 322.0,1060.2 320.5,1059.8 318.9,1059.5 317.4,1059.2 315.8,1059.0 314.3,1058.7 312.8,1058.4 311.2,1058.1 309.7,1057.8 308.1,1057.5 306.6,1057.2 305.1,1056.9 303.5,1056.5 302.0,1056.1 300.5,1055.8 298.9,1055.5 297.4,1055.3 295.9,1055.0 294.3,1054.7 292.8,1054.4 291.2,1054.2 289.7,1053.9 288.1,1053.7 286.6,1053.5 285.0,1053.3 283.5,1053.1 281.9,1052.9 280.3,1052.8 278.8,1052.6 277.2,1052.5 275.7,1052.4 274.1,1052.2 272.5,1052.1 271.0,1052.0 269.4,1051.9 267.8,1051.8 266.3,1051.7 264.7,1051.7 263.1,1051.6 261.6,1051.5 260.0,1051.5 258.4,1051.4 256.9,1051.3 255.3,1051.3 253.7,1051.2 252.2,1051.2 250.6,1051.1 249.0,1051.1 247.5,1051.0 245.9,1051.0 244.3,1051.0 242.8,1050.9 241.2,1050.9 239.6,1050.8 238.1,1050.8 236.5,1050.8 234.9,1050.8 233.4,1050.8 231.8,1050.8 230.2,1050.8 228.7,1050.8 227.1,1050.8 225.4,1050.8 223.8,1050.8 222.2,1050.8 220.5,1050.8 218.9,1050.8 217.2,1050.8 215.6,1050.8 213.9,1050.8 212.3,1050.8 210.7,1050.8 209.1,1050.8 207.6,1050.8 206.1,1050.8 204.6,1050.8 203.1,1050.8 201.7,1050.8 200.4,1050.8 199.1,1050.6 197.9,1049.9 196.7,1048.8 195.6,1047.4 194.4,1046.1 193.3,1044.9 192.1,1043.8 190.9,1042.8 189.7,1041.8 188.5,1040.8 187.4,1039.7 186.3,1038.6 185.2,1037.4 184.2,1036.2 183.3,1035.0 182.3,1033.7 181.4,1032.4 180.6,1031.1 179.8,1029.8 179.0,1028.4 178.2,1027.0 177.5,1025.7 176.8,1024.3 176.1,1022.8 175.4,1021.4 174.8,1020.0 174.1,1018.6 173.5,1017.1 172.9,1015.7 172.3,1014.2 171.7,1012.7 171.2,1011.3 170.7,1009.8 170.3,1008.3 169.8,1006.8 169.4,1005.3 169.0,1003.7 168.7,1002.2 168.3,1000.7 168.0,999.2 167.8,997.6 167.5,996.1 167.3,994.5 167.0,993.0 166.8,991.4 166.6,989.9 166.4,988.3 166.1,986.8 165.9,985.2 165.7,983.7 165.5,982.1 165.3,980.5 165.0,979.0 164.8,977.4 164.6,975.9 164.4,974.3 164.2,972.8 164.0,971.2 163.8,969.7 163.5,968.1 163.3,966.6 163.1,965.0 162.9,963.5 162.6,961.9 162.4,960.4 162.2,958.8 161.9,957.3 161.7,955.7 161.4,954.2 161.2,952.6 160.9,951.1 160.7,949.5 160.5,948.0 160.3,946.4 160.0,944.9 159.8,943.3 159.6,941.8 159.4,940.2 159.2,938.7 159.0,937.1 158.8,935.6 158.6,934.0 158.4,932.5 158.2,930.9 158.0,929.3 157.9,927.8 157.7,926.2 157.6,924.7 157.4,923.1 157.3,921.5 157.2,920.0 157.0,918.4 156.9,916.9 156.8,915.3 156.7,913.7 156.5,912.2 156.4,910.6 156.3,909.0 156.2,907.5 156.1,905.9 155.9,904.3 155.8,902.8 155.7,901.2 155.6,899.7 155.4,898.1 155.3,896.5 155.2,895.0 155.0,893.4 154.9,891.8 154.8,890.3 154.7,888.7 154.5,887.2 154.4,885.6 154.3,884.0 154.2,882.5 154.1,880.9 154.0,879.3 153.9,877.8 153.8,876.2 153.7,874.7 153.6,873.1 153.5,871.5 153.4,870.0 153.3,868.4 153.3,866.8 153.2,865.3 153.1,863.7 153.0,862.1 153.0,860.6 152.9,859.0 152.8,857.4 152.7,855.9 152.6,854.3 152.6,852.7 152.5,851.2 152.4,849.6 152.3,848.0 152.2,846.5 152.1,844.9 152.0,843.4 151.9,841.8 151.8,840.2 151.7,838.7 151.6,837.1 151.5,835.5 151.3,834.0 151.2,832.4 151.1,830.8 151.0,829.3 150.9,827.7 150.8,826.2 150.7,824.6 150.6,823.0 150.5,821.5 150.4,819.9 150.3,818.3 150.2,816.8 150.1,815.2 150.0,813.6 149.9,812.1 149.8,810.5 149.7,808.9 149.6,807.4 149.5,805.8 149.5,804.3 149.4,802.7 149.3,801.1 149.2,799.6 149.1,798.0 149.0,796.4 148.9,794.9 148.8,793.3 148.7,791.7 148.6,790.2 148.5,788.6 148.4,787.0 148.3,785.5 148.2,783.9 148.2,782.3 148.1,780.8 148.0,779.2 147.9,777.7 147.8,776.1 147.7,774.5 147.6,773.0 147.5,771.4 147.4,769.8 147.3,768.3 147.3,766.7 147.2,765.1 147.1,763.6 147.0,762.0 146.9,760.4 146.8,758.9 146.8,757.3 146.7,755.7 146.6,754.2 146.5,752.6 146.5,751.0 146.4,749.5 146.3,747.9 146.2,746.4 146.2,744.8 146.1,743.2 146.0,741.7 145.9,740.1 145.9,738.5 145.8,737.0 145.7,735.4 145.7,733.8 145.6,732.3 145.5,730.7 145.4,729.1 145.4,727.6 145.3,726.0 145.2,724.4 145.1,722.9 145.1,721.3 145.0,719.7 144.9,718.2 144.8,716.6 144.7,715.0 144.7,713.5 144.6,711.9 144.5,710.3 144.4,708.8 144.3,707.2 144.3,705.6 144.2,704.1 144.1,702.5 144.0,701.0 143.9,699.4 143.8,697.8 143.7,696.3 143.7,694.7 143.6,693.1 143.5,691.6 143.4,690.0" fill="#808080" />
<polygon points="143.4,690.0 143.5,691.6 143.6,693.1 143.7,694.7 143.7,696.3 143.8,697.8 143.9,699.4 144.0,701.0 144.1,702.5 144.2,704.1 144.3,705.6 144.3,707.2 144.4,708.8 144.5,710.3 144.6,711.9 144.7,713.5 144.7,715.0 144.8,716.6 144.9,718.2 145.0,719.7 145.1,721.3 145.1,722.9 145.2,724.4 145.3,726.0 145.4,727.6 145.4,729.1 145.5,730.7 145.6,732.3 145.7,733.8 145.7,735.4 145.8,737.0 145.9,738.5 145.9,740.1 146.0,741.7 146.1,743.2 146.2,744.8 146.2,746.4 146.3,747.9 146.4,749.5 146.5,751.0 146.5,752.6 146.6,754.2 146.7,755.7 146.8,757.3 146.8,758.9 146.9,760.4 147.0,762.0 147.1,763.6 147.2,765.1 147.3,766.7 147.3,768.3 147.4,769.8 147.5,771.4 147.6,773.0 147.7,774.5 147.8,776.1 147.9,777.7 148.0,779.2 148.1,780.8 148.2,782.3 148.2,783.9 148.3,785.5 148.4,787.0 148.5,788.6 148.6,790.2 148.7,791.7 148.8,793.3 148.9,794.9 149.0,796.4 149.1,798.0 149.2,799.6 149.3,801.1 149.4,802.7 149.5,804.3 149.5,805.8 149.6,807.4 149.7,808.9 149.8,810.5 149.9,812.1 150.0,813.6 150.1,815.2 150.2,816.8 150.3,818.3 150.4,819.9 150.5,821.5 150.6,823.0 150.7,824.6 150.8,826.2 150.9,827.7 151.0,829.3 151.1,830.8 151.2,832.4 151.3,834.0 151.5,835.5 151.6,837.1 151.7,838.7 151.8,840.2 151.9,841.8 152.0,843.4 152.1,844.9 152.2,846.5 152.3,848.0 152.4,849.6 152.5,851.2 152.6,852.7 152.6,854.3 152.7,855.9 152.8,857.4 152.9,859.0 153.0,860.6 153.0,862.1 153.1,863.7 153.2,865.3 153.3,866.8 153.3,868.4 153.4,870.0 153.5,871.5 153.6,873.1 153.7,874.7 153.8,876.2 153.9,877.8 154.0,879.3 154.1,880.9 154.2,882.5 154.3,884.0 154.4,885.6 154.5,887.2 154.7,888.7 154.8,890.3 154.9,891.8 155.0,893.4 155.2,895.0 155.3,896.5 155.4,898.1 155.6,899.7 155.7,901.2 155.8,902.8 155.9,904.3 156.1,905.9 156.2,907.5 156.3,909.0 156.4,910.6 156.5,912.2 156.7,913.7 156.8,915.3 156.9,916.9 157.0,918.4 157.2,920.0 157.3,921.5 157.4,923.1 157.6,924.7 157.7,926.2 157.9,927.8 158.0,929.3 158.2,930.9 158.4,932.5 158.6,934.0 158.8,935.6 159.0,937.1 159.2,938.7 159.4,940.2 159.6,941.8 159.8,943.3 160.0,944.9 160.3,946.4 160.5,948.0 160.7,949.5 160.9,951.1 161.2,952.6 161.4,954.2 161.7,955.7 161.9,957.3 162.2,958.8 162.4,960.4 162.6,961.9 162.9,963.5 163.1,965.0 163.3,966.6 163.5,968.1 163.8,969.7 164.0,971.2 164.2,972.8 164.4,974.3 164.6,975.9 164.8,977.4 165.0,979.0 165.3,980.5 165.5,982.1 165.7,983.7 165.9,985.2 166.1,986.8 166.4,988.3 166.6,989.9 166.8,991.4 167.0,993.0 167.3,994.5 167.5,996.1 167.8,997.6 168.0,999.2 168.3,1000.7 168.7,1002.2 169.0,1003.7 169.4,1005.3 169.8,1006.8 170.3,1008.3 170.7,1009.8 171.2,1011.3 171.7,1012.7 172.3,1014.2 172.9,1015.7 173.5,1017.1 174.1,1018.6 174.8,1020.0 175.4,1021.4 176.1,1022.8 176.8,1024.3 177.5,1025.7 178.2,1027.0 179.0,1028.4 179.8,1029.8 180.6,1031.1 181.4,1032.4 182.3,1033.7 183.3,1035.0 184.2,1036.2 185.2,1037.4 186.3,1038.6 187.4,1039.7 188.5,1040.8 189.7,1041.8 190.9,1042.8 192.1,1043.8 193.3,1044.9 194.4,1046.1 195.6,1047.4 196.7,1048.8 197.9,1049.9 199.1,1050.6 200.4,1050.8 201.7,1050.8 203.1,1050.8 204.6,1050.8 206.1,1050.8 207.6,1050.8 209.1,1050.8 210.7,1050.8 212.3,1050.8 213.9,1050.8 215.6,1050.8 217.2,1050.8 218.9,1050.8 220.5,1050.8 222.2,1050.8 223.8,1050.8 225.4,1050.8 227.1,1050.8 228.7,1050.8 230.2,1050.8 231.8,1050.8 233.4,1050.8 234.9,1050.8 236.5,1050.8 238.1,1050.8 239.6,1050.8 241.2,1050.9 242.8,1050.9 244.3,1051.0 245.9,1051.0 247.5,1051.0 249.0,1051.1 250.6,1051.1 252.2,1051.2 253.7,1051.2 255.3,1051.3 256.9,1051.3 258.4,1051.4 260.0,1051.5 261.6,1051.5 263.1,1051.6 264.7,1051.7 266.3,1051.7 267.8,1051.8 269.4,1051.9 271.0,1052.0 272.5,1052.1 274.1,1052.2 275.7,1052.4 277.2,1052.5 278.8,1052.6 280.3,1052.8 281.9,1052.9 283.5,1053.1 285.0,1053.3 286.6,1053.5 288.1,1053.7 289.7,1053.9 291.2,1054.2 292.8,1054.4 294.3,1054.7 295.9,1055.0 297.4,1055.3 298.9,1055.5 300.5,1055.8 302.0,1056.1 303.5,1056.5 305.1,1056.9 306.6,1057.2 308.1,1057.5 309.7,1057.8 311.2,1058.1 312.8,1058.4 314.3,1058.7 315.8,1059.0 317.4,1059.2 318.9,1059.5 320.5,1059.8 322.0,1060.2 323.5,1060.5 325.1,1060.8 326.6,1061.1 328.2,1061.4 329.7,1061.7 331.2,1062.0 332.8,1062.3 334.3,1062.6 335.8,1063.0 337.4,1063.3 338.9,1063.6 340.4,1064.0 342.0,1064.3 343.5,1064.6 345.0,1065.0 346.5,1065.4 348.1,1065.7 349.6,1066.1 351.1,1066.5 352.6,1066.9 354.1,1067.4 355.6,1067.8 357.1,1068.3 358.6,1068.8 360.1,1069.3 361.6,1069.8 363.0,1070.3 364.5,1070.8 366.0,1071.2 367.5,1071.7 369.0,1072.2 370.5,1072.7 372.0,1073.1 373.5,1073.6 375.0,1074.1 376.5,1074.5 378.0,1075.0 379.5,1075.5 381.0,1076.0 382.5,1076.4 384.0,1076.9 385.5,1077.4 386.9,1077.9 388.4,1078.4 389.9,1078.8 391.4,1079.3 392.9,1079.8 394.4,1080.3 395.9,1080.8 397.4,1081.3 398.9,1081.7 400.4,1082.2 401.9,1082.7 403.3,1083.2 404.8,1083.7 406.3,1084.2 407.8,1084.7 409.3,1085.2 410.8,1085.7 412.3,1086.2 413.8,1086.6 415.3,1087.1 416.7,1087.6 418.2,1088.1 419.7,1088.6 421.2,1089.0 422.7,1089.5 424.2,1090.0 425.7,1090.5 427.2,1091.0 428.7,1091.4 430.2,1091.9 431.7,1092.4 433.2,1092.9 434.6,1093.4 436.1,1093.9 437.6,1094.4 439.1,1094.9 440.6,1095.3 442.1,1095.8 443.6,1096.3 445.1,1096.8 446.5,1097.3 448.0,1097.8 449.5,1098.3 451.0,1098.8 452.5,1099.4 454.0,1099.9 455.4,1100.4 456.9,1100.9 458.4,1101.4 459.9,1101.9 461.4,1102.4 462.9,1102.9 464.3,1103.4 465.8,1103.9 467.3,1104.5 468.8,1105.0 470.3,1105.5 471.7,1106.0 473.2,1106.6 474.7,1107.1 476.2,1107.6 477.6,1108.2 479.1,1108.7 480.6,1109.2 482.1,1109.7 483.5,1110.3 485.0,1110.8 486.5,1111.3 488.0,1111.8 489.4,1112.3 490.9,1112.9 492.4,1113.4 493.9,1113.9 495.4,1114.4 496.8,1114.9 498.3,1115.5 499.8,1116.0 501.3,1116.5 502.8,1117.0 504.2,1117.5 505.7,1118.1 507.2,1118.6 508.7,1119.1 510.1,1119.6 511.6,1120.1 513.1,1120.7 514.6,1121.2 516.1,1121.7 517.5,1122.2 519.0,1122.8 520.5,1123.3 522.0,1123.8 523.4,1124.4 524.9,1124.9 526.4,1125.4 527.9,1126.0 529.3,1126.5 530.8,1127.0 532.3,1127.5 533.8,1128.0 535.3,1128.5 536.7,1129.0 538.2,1129.5 539.7,1130.0 541.2,1130.5 542.7,1131.0 544.2,1131.5 545.7,1132.0 547.1,1132.5 548.6,1133.0 550.1,1133.5 551.6,1134.0 553.1,1134.5 554.6,1135.0 556.0,1135.6 557.5,1136.1 559.0,1136.6 560.5,1137.1 562.0,1137.7 563.4,1138.2 564.9,1138.7 566.4,1139.3 567.8,1139.9 569.3,1140.4 570.8,1141.0 572.2,1141.5 573.7,1142.1 575.1,1142.7 576.6,1143.2 578.1,1143.8 579.5,1144.3 581.0,1144.9 582.4,1145.5 583.9,1146.1 585.4,1146.6 586.8,1147.2 588.3,1147.8 589.8,1148.3 591.2,1148.9 592.7,1149.4 594.2,1150.0 595.6,1150.5 597.1,1151.0 598.6,1151.6 600.1,1152.1 601.5,1152.6 603.0,1153.1 604.5,1153.7 606.0,1154.2 607.4,1154.7 608.9,1155.2 610.4,1155.8 611.9,1156.3 613.3,1156.8 614.8,1157.4 616.3,1157.9 617.8,1158.4 619.2,1159.0 620.7,1159.5 622.2,1160.1 623.6,1160.6 625.1,1161.2 626.6,1161.7 628.0,1162.3 629.5,1162.8 631.0,1163.4 632.4,1163.9 633.9,1164.5 635.4,1165.0 636.8,1165.6 638.3,1166.2 639.8,1166.7 641.2,1167.3 642.7,1167.9 644.1,1168.4 645.6,1169.0 647.1,1169.6 648.5,1170.1 650.0,1170.7 651.4,1171.3 652.9,1171.9 654.4,1172.4 655.8,1173.0 657.3,1173.6 658.7,1174.2 660.2,1174.7 661.7,1175.3 663.1,1175.9 664.6,1176.5 666.0,1177.1 667.5,1177.6 668.9,1178.2 670.4,1178.8 671.8,1179.4 673.3,1180.0 674.7,1180.6 676.2,1181.2 677.6,1181.8 679.1,1182.4 680.5,1183.1 681.9,1183.7 683.4,1184.3 684.8,1184.9 686.3,1185.5 687.7,1186.1 689.2,1186.8 690.6,1187.4 692.0,1188.0 693.5,1188.7 694.9,1189.3 696.3,1190.0 697.7,1190.6 699.1,1191.3 700.5,1192.0 701.9,1192.7 703.3,1193.4 704.7,1194.1 706.1,1194.9 707.5,1195.6 708.8,1196.4 710.2,1197.2 711.5,1198.0 712.9,1198.8 714.2,1199.6 715.6,1200.5 716.9,1201.3 718.2,1202.1 719.5,1203.0 720.9,1203.8 722.2,1204.7 723.5,1205.5 724.8,1206.4 726.1,1207.3 727.4,1208.1 728.7,1209.0 730.0,1209.9 731.2,1210.8 732.5,1211.8 733.8,1212.7 735.0,1213.6 736.3,1214.5 736.3,1225.0 735.0,1224.0 733.7,1223.0 732.5,1222.1 731.2,1221.1 729.9,1220.2 728.6,1219.2 727.3,1218.3 726.0,1217.4 724.7,1216.4 723.4,1215.5 722.1,1214.6 720.8,1213.7 719.5,1212.7 718.2,1211.8 716.9,1210.9 715.6,1210.0 714.3,1209.0 713.0,1208.1 711.6,1207.2 710.3,1206.3 709.0,1205.4 707.7,1204.5 706.3,1203.7 705.0,1202.8 703.6,1202.0 702.3,1201.2 700.9,1200.4 699.5,1199.5 698.1,1198.8 696.7,1198.0 695.3,1197.2 693.9,1196.4 692.5,1195.7 691.1,1194.9 689.7,1194.1 688.3,1193.4 686.9,1192.7 685.4,1191.9 684.0,1191.2 682.6,1190.5 681.1,1189.8 679.7,1189.1 678.3,1188.4 676.8,1187.7 675.4,1187.1 673.9,1186.4 672.5,1185.7 671.0,1185.1 669.6,1184.4 668.1,1183.8 666.6,1183.2 665.2,1182.5 663.7,1181.9 662.2,1181.3 660.8,1180.6 659.3,1180.0 657.8,1179.4 656.3,1178.8 654.9,1178.2 653.4,1177.5 651.9,1176.9 650.4,1176.3 649.0,1175.7 647.5,1175.1 646.0,1174.4 644.6,1173.8 643.1,1173.2 641.6,1172.6 640.1,1172.0 638.7,1171.3 637.2,1170.7 635.7,1170.1 634.2,1169.5 632.7,1168.9 631.3,1168.3 629.8,1167.7 628.3,1167.1 626.8,1166.5 625.3,1165.9 623.8,1165.3 622.4,1164.8 620.9,1164.2 619.4,1163.6 617.9,1163.0 616.4,1162.5 614.9,1161.9 613.4,1161.4 611.9,1160.8 610.4,1160.3 608.9,1159.7 607.4,1159.2 605.9,1158.7 604.4,1158.1 602.9,1157.6 601.4,1157.1 599.9,1156.5 598.3,1156.0 596.8,1155.5 595.3,1154.9 593.8,1154.4 592.3,1153.9 590.8,1153.3 589.3,1152.8 587.8,1152.2 586.3,1151.7 584.8,1151.1 583.3,1150.6 581.8,1150.1 580.3,1149.5 578.8,1149.0 577.3,1148.4 575.8,1147.8 574.3,1147.2 572.9,1146.6 571.4,1145.9 569.9,1145.3 568.5,1144.7 567.0,1144.0 565.5,1143.4 564.1,1142.8 562.6,1142.2 561.1,1141.6 559.6,1141.0 558.1,1140.5 556.6,1140.0 555.1,1139.5 553.6,1139.0 552.1,1138.5 550.5,1138.0 549.0,1137.5 547.5,1137.1 545.9,1136.6 544.4,1136.2 542.9,1135.7 541.3,1135.2 539.8,1134.8 538.3,1134.3 536.8,1133.8 535.2,1133.4 533.7,1132.9 532.2,1132.4 530.7,1131.9 529.2,1131.3 527.7,1130.8 526.2,1130.2 524.7,1129.6 523.2,1129.0 521.7,1128.4 520.2,1127.9 518.7,1127.4 517.2,1126.8 515.7,1126.3 514.2,1125.8 512.7,1125.3 511.1,1124.9 509.6,1124.4 508.1,1123.9 506.6,1123.4 505.0,1122.9 503.5,1122.4 502.0,1121.9 500.5,1121.4 499.0,1120.9 497.5,1120.4 496.0,1119.9 494.4,1119.3 492.9,1118.8 491.4,1118.3 489.9,1117.7 488.4,1117.2 486.9,1116.6 485.4,1116.1 483.9,1115.5 482.4,1115.0 480.9,1114.4 479.4,1113.9 477.9,1113.4 476.4,1112.8 474.9,1112.2 473.4,1111.7 471.9,1111.1 470.4,1110.6 468.9,1110.0 467.4,1109.5 465.9,1108.9 464.4,1108.4 462.9,1107.8 461.4,1107.2 459.9,1106.7 458.4,1106.1 456.9,1105.6 455.5,1105.0 454.0,1104.5 452.5,1103.9 451.0,1103.3 449.5,1102.8 447.9,1102.3 446.4,1101.7 444.9,1101.2 443.4,1100.6 441.9,1100.1 440.4,1099.6 438.9,1099.1 437.4,1098.6 435.9,1098.1 434.4,1097.6 432.9,1097.1 431.3,1096.6 429.8,1096.1 428.3,1095.6 426.8,1095.1 425.2,1094.6 423.7,1094.1 422.2,1093.6 420.7,1093.1 419.2,1092.7 417.6,1092.2 416.1,1091.7 414.6,1091.2 413.1,1090.7 411.5,1090.2 410.0,1089.7 408.5,1089.2 407.0,1088.7 405.5,1088.2 404.0,1087.7 402.4,1087.2 400.9,1086.7 399.4,1086.2 397.9,1085.7 396.4,1085.2 394.9,1084.7 393.3,1084.2 391.8,1083.7 390.3,1083.2 388.8,1082.7 387.3,1082.2 385.8,1081.7 384.2,1081.2 382.7,1080.7 381.2,1080.2 379.7,1079.7 378.2,1079.3 376.6,1078.8 375.1,1078.3 373.6,1077.8 372.1,1077.3 370.5,1076.8 369.0,1076.3 367.5,1075.9 366.0,1075.4 364.5,1074.9 362.9,1074.4 361.4,1073.9 359.9,1073.4 358.4,1072.9 356.9,1072.3 355.4,1071.8 353.9,1071.3 352.3,1070.8 350.8,1070.4 349.3,1070.0 347.7,1069.5 346.2,1069.1 344.7,1068.7 343.1,1068.3 341.6,1067.9 340.0,1067.5 338.5,1067.1 336.9,1066.7 335.3,1066.3 333.8,1066.0 332.2,1065.6 330.7,1065.2 329.1,1064.9 327.6,1064.6 326.0,1064.2 324.4,1063.9 322.9,1063.5 321.3,1063.2 319.7,1062.9 318.2,1062.6 316.6,1062.3 315.0,1062.0 313.4,1061.8 311.9,1061.5 310.3,1061.2 308.7,1060.9 307.2,1060.6 305.6,1060.3 304.0,1059.9 302.5,1059.5 300.9,1059.1 299.4,1058.8 297.8,1058.4 296.3,1058.0 294.7,1057.6 293.2,1057.2 291.6,1056.8 290.1,1056.4 288.5,1056.0 286.9,1055.6 285.4,1055.3 283.8,1055.0 282.3,1054.7 280.7,1054.5 279.1,1054.3 277.5,1054.2 275.9,1054.0 274.4,1053.8 272.8,1053.7 271.2,1053.5 269.6,1053.4 268.0,1053.3 266.4,1053.2 264.8,1053.1 263.2,1053.0 261.6,1053.0 260.0,1053.0 258.4,1053.0 256.8,1053.0 255.2,1053.0 253.6,1053.0 252.0,1053.0 250.4,1053.0 248.8,1053.0 247.2,1053.0 245.6,1053.0 244.0,1053.1 242.4,1053.1 240.8,1053.1 239.2,1053.1 237.6,1053.1 236.0,1053.1 234.4,1053.1 232.8,1053.1 231.2,1053.1 229.6,1053.2 228.0,1053.2 226.4,1053.2 224.8,1053.2 223.2,1053.2 221.6,1053.2 220.0,1053.2 218.4,1053.2 216.8,1053.2 215.2,1053.2 213.6,1053.2 212.0,1053.2 210.4,1053.2 208.8,1053.2 207.2,1053.2 205.6,1053.2 204.0,1053.2 202.4,1053.2 200.9,1053.2 199.3,1053.1 197.7,1052.9 196.1,1052.6 194.6,1052.2 193.0,1051.8 191.5,1051.3 190.0,1050.8 188.5,1050.2 187.0,1049.6 185.5,1049.0 184.1,1048.3 182.6,1047.6 181.2,1046.8 179.8,1046.0 178.5,1045.2 177.2,1044.3 175.9,1043.4 174.6,1042.4 173.4,1041.4 172.1,1040.3 171.0,1039.2 169.8,1038.2 168.7,1037.0 167.6,1035.9 166.5,1034.7 165.5,1033.4 164.5,1032.2 163.5,1030.9 162.6,1029.6 161.7,1028.3 160.8,1027.0 160.0,1025.6 159.2,1024.2 158.5,1022.8 157.8,1021.3 157.2,1019.8 156.6,1018.4 156.0,1016.8 155.5,1015.3 155.1,1013.8 154.8,1012.3 154.5,1010.7 154.2,1009.1 153.9,1007.6 153.7,1006.0 153.5,1004.4 153.3,1002.8 153.1,1001.2 152.9,999.6 152.7,998.0 152.5,996.4 152.3,994.8 152.2,993.2 152.0,991.6 151.8,990.1 151.5,988.5 151.3,986.9 151.1,985.3 150.9,983.7 150.7,982.1 150.6,980.5 150.4,979.0 150.2,977.4 150.1,975.8 149.9,974.2 149.8,972.6 149.7,971.0 149.6,969.4 149.5,967.8 149.4,966.2 149.3,964.6 149.2,963.0 149.1,961.4 149.0,959.8 148.9,958.3 148.7,956.7 148.6,955.1 148.5,953.5 148.3,951.9 148.2,950.3 148.1,948.7 148.0,947.1 147.8,945.5 147.7,943.9 147.6,942.3 147.5,940.7 147.4,939.1 147.3,937.5 147.2,935.9 147.1,934.4 147.0,932.8 146.9,931.2 146.8,929.6 146.7,928.0 146.6,926.4 146.5,924.8 146.4,923.2 146.3,921.6 146.2,920.0 146.1,918.4 146.0,916.8 145.8,915.2 145.7,913.6 145.6,912.0 145.5,910.4 145.3,908.8 145.2,907.3 145.1,905.7 145.0,904.1 144.8,902.5 144.7,900.9 144.7,899.3 144.6,897.7 144.5,896.1 144.5,894.5 144.5,892.9 144.4,891.3 144.4,889.7 144.3,888.1 144.3,886.5 144.3,884.9 144.3,883.3 144.2,881.7 144.2,880.1 144.2,878.5 144.2,876.9 144.1,875.3 144.1,873.7 144.1,872.1 144.1,870.5 144.1,868.9 144.0,867.3 144.0,865.7 144.0,864.1 144.0,862.5 144.0,861.0 144.0,859.4 144.0,857.8 143.9,856.2 143.9,854.6 143.9,853.0 143.9,851.4 143.9,849.8 143.9,848.2 143.9,846.6 143.9,845.0 143.9,843.4 143.9,841.8 143.8,840.2 143.8,838.6 143.8,837.0 143.8,835.4 143.8,833.8 143.8,832.2 143.8,830.6 143.8,829.0 143.8,827.4 143.8,825.8 143.8,824.2 143.8,822.6 143.8,821.0 143.8,819.4 143.8,817.8 143.8,816.2 143.7,814.6 143.7,813.0 143.7,811.4 143.7,809.8 143.7,808.2 143.7,806.6 143.7,805.0 143.7,803.4 143.7,801.8 143.7,800.2 143.7,798.6 143.7,797.0 143.7,795.4 143.7,793.8 143.7,792.3 143.7,790.7 143.7,789.1 143.7,787.5 143.7,785.9 143.7,784.3 143.7,782.7 143.7,781.1 143.7,779.5 143.6,777.9 143.6,776.3 143.6,774.7 143.6,773.1 143.6,771.5 143.6,769.9 143.6,768.3 143.6,766.7 143.6,765.1 143.6,763.5 143.6,761.9 143.6,760.3 143.6,758.7 143.6,757.1 143.6,755.5 143.6,753.9 143.6,752.3 143.6,750.7 143.6,749.1 143.6,747.5 143.6,745.9 143.6,744.3 143.5,742.7 143.5,741.1 143.5,739.5 143.5,737.9 143.5,736.3 143.5,734.7 143.5,733.1 143.5,731.5 143.5,729.9 143.5,728.3 143.5,726.7 143.5,725.1 143.5,723.6 143.5,722.0 143.5,720.4 143.5,718.8 143.5,717.2 143.5,715.6 143.5,714.0 143.5,712.4 143.5,710.8 143.5,709.2 143.4,707.6 143.4,706.0 143.4,704.4 143.4,702.8 143.4,701.2 143.4,699.6 143.4,698.0 143.4,696.4 143.4,694.8 143.4,693.2 143.4,691.6 143.4,690.0" fill="#262626" stroke="#000" stroke-width="1.9" stroke-linejoin="round"/>
</g>
<g fill="none" stroke="#000" stroke-width="7.9">
<polyline points="143.2,731.7 143.2,731.8 143.2,733.4 143.2,735.0 143.2,736.6 143.2,738.2 143.2,739.9 143.2,741.5 143.2,743.1 143.2,744.7 143.2,746.3 143.2,747.9 143.2,749.5 143.2,751.1 143.2,752.7 143.2,754.3 143.2,755.7"/>
<polyline points="143.6,781.3 143.6,781.7 143.6,783.3 143.6,784.9 143.7,786.5 143.7,788.1 143.7,789.7 143.7,791.3 143.8,792.9 143.8,794.5 143.8,796.1 143.8,797.7 143.9,799.4 143.9,801.0 143.9,802.6 143.9,804.2 144.0,805.8 144.0,805.9"/>
<polyline points="144.3,831.2 144.4,831.5 144.4,833.1 144.4,834.7 144.4,836.3 144.5,837.9 144.5,839.6 144.5,841.2 144.5,842.8 144.6,844.4 144.6,846.0 144.6,847.6 144.7,849.2 144.7,850.8 144.7,852.4 144.8,854.0 144.8,855.6 144.8,855.7"/>
<polyline points="145.3,881.4 145.3,883.0 145.4,884.6 145.4,886.2 145.4,887.8 145.5,889.4 145.5,891.0 145.5,892.6 145.6,894.2 145.6,895.8 145.7,897.4 145.7,899.0 145.7,900.6 145.8,902.3 145.8,903.9 145.8,905.5 145.8,905.6"/>
<polyline points="146.6,933.5 146.6,934.4 146.7,936.0 146.7,937.6 146.8,939.2 146.8,940.8 146.9,942.4 147.0,944.1 147.0,945.7 147.1,947.3 147.2,948.9 147.3,950.5 147.4,952.1 147.5,953.7 147.6,955.3 147.6,955.8"/>
<polyline points="149.7,980.9 149.7,980.9 149.8,982.5 149.9,984.1 150.1,985.8 150.2,987.4 150.3,989.0 150.4,990.6 150.5,992.2 150.6,993.8 150.8,995.4 150.9,997.0 151.0,998.6 151.2,1000.2 151.4,1001.8 151.5,1003.4 151.6,1004.3"/>
<polyline points="156.7,1029.4 157.0,1030.1 157.6,1031.6 158.3,1033.0 159.1,1034.4 160.0,1035.8 160.9,1037.2 161.9,1038.5 162.8,1039.8 163.8,1041.0 164.9,1042.3 166.0,1043.5 167.2,1044.7 168.4,1045.8 169.6,1046.7 170.1,1047.0"/>
<polyline points="192.7,1052.8 192.7,1052.8 194.3,1052.8 195.9,1052.9 197.5,1052.9 199.1,1052.9 200.8,1052.9 202.4,1052.9 204.0,1052.9 205.6,1052.9 207.2,1052.9 208.8,1052.9 210.4,1053.0 212.0,1053.0 213.6,1053.0 214.4,1053.0"/>
<polyline points="237.3,1053.6 237.7,1053.6 239.4,1053.6 241.0,1053.6 242.6,1053.6 244.2,1053.6 245.8,1053.6 247.4,1053.6 249.0,1053.6 250.6,1053.6 252.2,1053.6 253.8,1053.6 255.4,1053.6 257.1,1053.6 258.7,1053.6 258.7,1053.6"/>
<polyline points="281.0,1056.3 281.0,1056.3 282.6,1056.6 284.2,1056.8 285.8,1057.1 287.3,1057.4 288.9,1057.7 290.5,1058.0 292.1,1058.4 293.6,1058.7 295.2,1059.1 296.8,1059.4 298.4,1059.8 299.9,1060.2 301.5,1060.5 303.0,1060.9"/>
<polyline points="324.6,1067.4 324.6,1067.4 326.2,1067.8 327.7,1068.2 329.3,1068.6 330.9,1069.0 332.4,1069.3 334.0,1069.7 335.6,1070.0 337.1,1070.4 338.7,1070.8 340.3,1071.1 341.8,1071.5 343.4,1071.9 344.9,1072.3 346.5,1072.8 346.9,1072.9"/>
<polyline points="367.4,1080.7 367.5,1080.7 369.1,1081.2 370.6,1081.6 372.2,1082.0 373.7,1082.4 375.3,1082.8 376.8,1083.2 378.4,1083.6 380.0,1083.9 381.6,1084.3 383.1,1084.7 384.7,1085.1 386.2,1085.5 387.8,1085.9 389.3,1086.3"/>
<polyline points="410.0,1093.0 410.7,1093.3 412.2,1093.8 413.7,1094.4 415.3,1094.9 416.8,1095.5 418.3,1096.0 419.8,1096.6 421.3,1097.2 422.8,1097.7 424.3,1098.3 425.8,1098.8 427.4,1099.4 428.9,1099.9 430.4,1100.5 431.9,1101.1 432.0,1101.1"/>
<polyline points="452.0,1108.4 453.0,1108.8 454.5,1109.3 456.1,1109.9 457.6,1110.5 459.1,1111.0 460.6,1111.6 462.1,1112.2 463.6,1112.8 465.1,1113.3 466.6,1113.9 468.1,1114.5 469.6,1115.0 471.1,1115.6 472.6,1116.1 474.0,1116.7"/>
<polyline points="494.4,1123.9 495.3,1124.2 496.9,1124.7 498.4,1125.2 499.9,1125.7 501.5,1126.1 503.0,1126.6 504.6,1127.0 506.1,1127.5 507.7,1127.9 509.2,1128.4 510.7,1128.9 512.3,1129.4 513.8,1129.9 515.3,1130.4 516.2,1130.7"/>
<polyline points="536.6,1139.0 537.7,1139.4 539.2,1139.9 540.7,1140.4 542.3,1140.8 543.8,1141.3 545.4,1141.8 546.9,1142.2 548.5,1142.6 550.0,1143.1 551.6,1143.5 553.1,1144.0 554.6,1144.5 556.2,1145.0 557.7,1145.5 558.5,1145.8"/>
<polyline points="578.5,1154.4 579.9,1154.9 581.4,1155.4 582.9,1155.9 584.5,1156.4 586.0,1156.9 587.5,1157.4 589.1,1157.9 590.6,1158.3 592.2,1158.8 593.7,1159.3 595.2,1159.8 596.8,1160.3 598.3,1160.8 599.8,1161.3 600.9,1161.7"/>
<polyline points="621.5,1170.5 622.0,1170.7 623.5,1171.4 625.0,1172.0 626.4,1172.6 627.9,1173.3 629.4,1173.9 630.9,1174.5 632.3,1175.2 633.8,1175.8 635.3,1176.5 636.8,1177.1 638.2,1177.7 639.7,1178.4 641.2,1179.0 642.2,1179.4"/>
<polyline points="663.2,1188.4 663.4,1188.5 664.9,1189.1 666.3,1189.8 667.8,1190.4 669.3,1191.0 670.8,1191.7 672.2,1192.3 673.7,1193.0 675.2,1193.6 676.7,1194.3 678.1,1194.9 679.6,1195.6 681.0,1196.3 682.5,1197.0 683.0,1197.2"/>
<polyline points="703.7,1208.2 703.8,1208.3 705.2,1209.0 706.6,1209.8 708.0,1210.6 709.4,1211.4 710.8,1212.2 712.3,1212.9 713.7,1213.7 715.0,1214.5 716.4,1215.4 717.8,1216.2 719.2,1217.0 720.6,1217.8 721.9,1218.7 722.7,1219.2"/>
</g>
<g font-family="'Liberation Serif', serif" font-size="50" fill="#000" stroke="#fff" stroke-width="0.4">
<text><tspan x="290.75" y="46.70" font-size="51.15" textLength="108.24" lengthAdjust="spacingAndGlyphs">OCV</tspan></text>
<text><tspan x="290.19" y="94.70" font-size="51.15" textLength="36.39" lengthAdjust="spacingAndGlyphs">D</tspan><tspan x="327.52" y="94.70" font-size="48.55" textLength="151.00" lengthAdjust="spacingAndGlyphs">iffusion</tspan> <tspan x="494.67" y="94.70" font-size="51.15" textLength="96.31" lengthAdjust="spacingAndGlyphs">SPE</tspan></text>
<text><tspan x="291.52" y="142.70" font-size="51.15" textLength="35.66" lengthAdjust="spacingAndGlyphs">O</tspan><tspan x="327.99" y="142.70" font-size="48.55" textLength="101.40" lengthAdjust="spacingAndGlyphs">hmic</tspan> <tspan x="444.78" y="142.70" font-size="51.15" textLength="96.09" lengthAdjust="spacingAndGlyphs">SPE</tspan></text>
<text><tspan x="288.89" y="190.70" font-size="51.15" textLength="95.66" lengthAdjust="spacingAndGlyphs">SPE</tspan><tspan x="385.40" y="191.32" font-size="53.85" textLength="9.21" lengthAdjust="spacingAndGlyphs" stroke="none">|</tspan><tspan x="397.80" y="190.70" font-size="51.15" textLength="127.48" lengthAdjust="spacingAndGlyphs">LLZO</tspan> <tspan x="541.45" y="190.70" font-size="48.55" textLength="126.48" lengthAdjust="spacingAndGlyphs">anode</tspan></text>
<text><tspan x="288.89" y="238.70" font-size="51.15" textLength="95.66" lengthAdjust="spacingAndGlyphs">SPE</tspan><tspan x="385.40" y="239.32" font-size="53.85" textLength="9.21" lengthAdjust="spacingAndGlyphs" stroke="none">|</tspan><tspan x="397.80" y="238.70" font-size="51.15" textLength="127.48" lengthAdjust="spacingAndGlyphs">LLZO</tspan> <tspan x="541.14" y="238.70" font-size="48.55" textLength="167.60" lengthAdjust="spacingAndGlyphs">cathode</tspan></text>
<text><tspan x="291.52" y="286.70" font-size="51.15" textLength="35.66" lengthAdjust="spacingAndGlyphs">O</tspan><tspan x="327.99" y="286.70" font-size="48.55" textLength="101.40" lengthAdjust="spacingAndGlyphs">hmic</tspan> <tspan x="447.00" y="286.70" font-size="51.15" textLength="127.69" lengthAdjust="spacingAndGlyphs">LLZO</tspan> <tspan x="590.46" y="286.70" font-size="48.55" textLength="196.15" lengthAdjust="spacingAndGlyphs">separator</tspan></text>
<text><tspan x="291.52" y="334.70" font-size="51.15" textLength="35.66" lengthAdjust="spacingAndGlyphs">O</tspan><tspan x="327.99" y="334.70" font-size="48.55" textLength="101.40" lengthAdjust="spacingAndGlyphs">hmic</tspan> <tspan x="447.00" y="334.70" font-size="51.15" textLength="127.69" lengthAdjust="spacingAndGlyphs">LLZO</tspan> <tspan x="591.25" y="334.70" font-size="48.55" textLength="167.09" lengthAdjust="spacingAndGlyphs">cathode</tspan></text>
<text><tspan x="290.88" y="382.70" font-size="51.15" textLength="102.11" lengthAdjust="spacingAndGlyphs">PEO</tspan><tspan x="396.00" y="383.32" font-size="53.85" textLength="9.21" lengthAdjust="spacingAndGlyphs" stroke="none">|</tspan><tspan x="408.60" y="382.70" font-size="51.15" textLength="92.01" lengthAdjust="spacingAndGlyphs">LFP</tspan></text>
<text><tspan x="290.19" y="430.70" font-size="51.15" textLength="36.39" lengthAdjust="spacingAndGlyphs">D</tspan><tspan x="327.52" y="430.70" font-size="48.55" textLength="151.00" lengthAdjust="spacingAndGlyphs">iffusion</tspan> <tspan x="497.30" y="430.70" font-size="51.15" textLength="79.85" lengthAdjust="spacingAndGlyphs">AM</tspan> <tspan x="592.75" y="430.70" font-size="48.55" textLength="167.40" lengthAdjust="spacingAndGlyphs">cathode</tspan></text>
<text><tspan x="290.92" y="478.70" font-size="51.15" textLength="36.28" lengthAdjust="spacingAndGlyphs">C</tspan><tspan x="326.02" y="478.70" font-size="48.55" textLength="46.89" lengthAdjust="spacingAndGlyphs">ell</tspan> <tspan x="391.70" y="478.70" font-size="48.55" textLength="150.10" lengthAdjust="spacingAndGlyphs">voltage</tspan></text>
<text><tspan x="98.67" y="599.34" font-size="52.06" textLength="23.33" lengthAdjust="spacingAndGlyphs">4</tspan></text>
<text><tspan x="66.76" y="814.68" font-size="52.06" textLength="62.13" lengthAdjust="spacingAndGlyphs">3.6</tspan></text>
<text><tspan x="66.71" y="1030.02" font-size="52.06" textLength="63.48" lengthAdjust="spacingAndGlyphs">3.2</tspan></text>
<text><tspan x="66.74" y="1245.36" font-size="52.06" textLength="62.88" lengthAdjust="spacingAndGlyphs">2.8</tspan></text>
<text><tspan x="130.26" y="1338.00" font-size="52.06" textLength="25.48" lengthAdjust="spacingAndGlyphs">0</tspan></text>
<text><tspan x="301.73" y="1338.00" font-size="52.06" textLength="50.29" lengthAdjust="spacingAndGlyphs">10</tspan></text>
<text><tspan x="488.57" y="1338.00" font-size="52.06" textLength="49.51" lengthAdjust="spacingAndGlyphs">20</tspan></text>
<text><tspan x="669.87" y="1338.00" font-size="52.06" textLength="49.51" lengthAdjust="spacingAndGlyphs">30</tspan></text>
<text><tspan x="849.66" y="1338.00" font-size="52.06" textLength="47.23" lengthAdjust="spacingAndGlyphs">40</tspan></text>
<text><tspan x="387.34" y="1404.50" font-size="52.21" textLength="35.40" lengthAdjust="spacingAndGlyphs">Q</tspan><tspan x="421.56" y="1411.30" font-size="37.40" textLength="48.36" lengthAdjust="spacingAndGlyphs" font-style="italic">dis</tspan> <tspan x="484.60" y="1416.64" font-size="75.82" textLength="19.60" lengthAdjust="spacingAndGlyphs" stroke-width="0.9">/</tspan> <tspan x="514.59" y="1404.50" font-size="52.67" textLength="36.98" lengthAdjust="spacingAndGlyphs">A</tspan><tspan x="553.33" y="1404.50" font-size="49.77" textLength="23.26" lengthAdjust="spacingAndGlyphs">h</tspan> <tspan x="586.29" y="1404.50" font-size="48.55" textLength="39.15" lengthAdjust="spacingAndGlyphs">m</tspan><tspan x="627.24" y="1389.98" font-size="36.00" textLength="24.38" lengthAdjust="spacingAndGlyphs" stroke="none">−</tspan><tspan x="651.91" y="1386.10" font-size="30.91" textLength="17.63" lengthAdjust="spacingAndGlyphs" stroke="none">2</tspan></text>
<text transform="rotate(-90)"><tspan x="-1011.18" y="37.70" font-size="51.91" textLength="34.87" lengthAdjust="spacingAndGlyphs">V</tspan><tspan x="-977.34" y="37.70" font-size="48.55" textLength="124.74" lengthAdjust="spacingAndGlyphs">oltage</tspan> <tspan x="-833.80" y="49.46" font-size="74.03" textLength="19.19" lengthAdjust="spacingAndGlyphs" stroke-width="0.9">/</tspan> <tspan x="-794.99" y="37.70" font-size="51.91" textLength="35.28" lengthAdjust="spacingAndGlyphs">V</tspan></text>
</g>
<rect x="149.9" y="2.9" width="716.6" height="491.4" fill="none" stroke="#1f1f1f" stroke-width="2.6"/>
<path d="M155.9 32H193.2M230.6 32H267.9" stroke="#ff0000" stroke-width="10.3" fill="none"/>
<rect x="155.9" y="62.9" width="124.2" height="35" fill="#77ac30"/>
<rect x="155.9" y="111.0" width="124.2" height="35" fill="#ff12a8"/>
<rect x="155.9" y="159.1" width="124.2" height="35" fill="#109cff"/>
<rect x="155.9" y="207.2" width="124.2" height="35" fill="#ff6600"/>
<rect x="155.9" y="255.3" width="124.2" height="35" fill="#e6e6e6"/>
<rect x="155.9" y="303.4" width="124.2" height="35" fill="#a6a6a6"/>
<rect x="155.9" y="351.5" width="124.2" height="35" fill="#808080"/>
<rect x="156.0" y="399.5" width="124.7" height="35.4" fill="#262626" stroke="#000" stroke-width="1.6"/>
<path d="M156.1 465.2H180.8M205.7 465.2H230.6M255.6 465.2H280.9" stroke="#000" stroke-width="8" fill="none"/>
</svg>
</body></html>
